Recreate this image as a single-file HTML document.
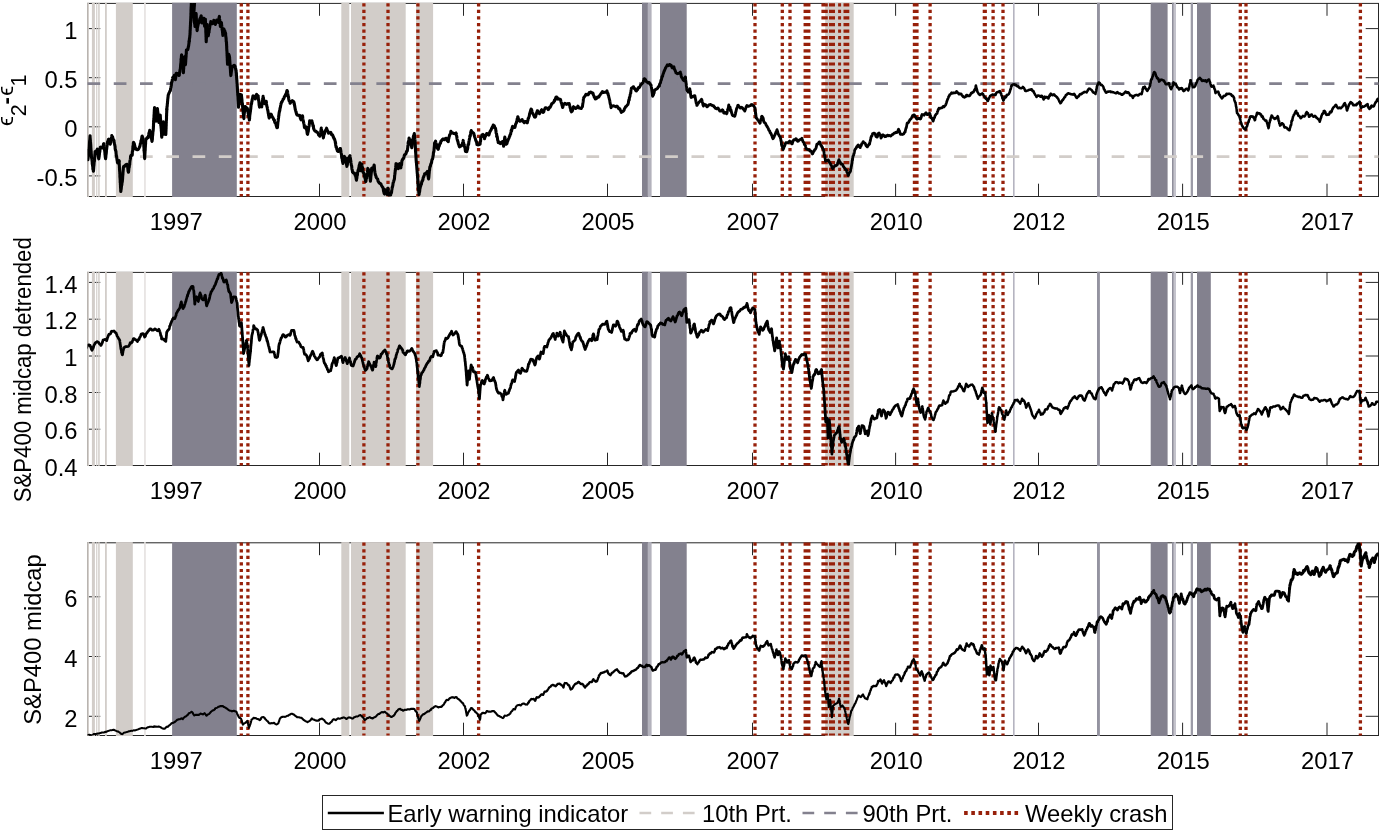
<!DOCTYPE html>
<html><head><meta charset="utf-8"><title>Early warning indicator</title>
<style>html,body{margin:0;padding:0;background:#fff}body{width:1381px;height:832px;overflow:hidden}</style></head>
<body>
<svg width="1381" height="832" viewBox="0 0 1381 832" style="display:block">
<rect width="1381" height="832" fill="#fff"/>
<defs>
<clipPath id="c0"><rect x="87.5" y="3.0" width="1291.0" height="193.5"/></clipPath>
<clipPath id="c1"><rect x="87.5" y="272.0" width="1291.0" height="193.5"/></clipPath>
<clipPath id="c2"><rect x="87.5" y="542.4" width="1291.0" height="193.10000000000002"/></clipPath>
</defs>
<g stroke="#262626" stroke-width="1" fill="none">
<rect x="87.5" y="3.4" width="1291.0" height="193.1"/>
<path d="M175.6 3.0v12.8M175.6 196.5v-12.8"/>
<path d="M319.5 3.0v12.8M319.5 196.5v-12.8"/>
<path d="M463.5 3.0v12.8M463.5 196.5v-12.8"/>
<path d="M607.5 3.0v12.8M607.5 196.5v-12.8"/>
<path d="M752.5 3.0v12.8M752.5 196.5v-12.8"/>
<path d="M895.6 3.0v12.8M895.6 196.5v-12.8"/>
<path d="M1038.5 3.0v12.8M1038.5 196.5v-12.8"/>
<path d="M1182.6 3.0v12.8M1182.6 196.5v-12.8"/>
<path d="M1327.0 3.0v12.8M1327.0 196.5v-12.8"/>
<path d="M87.5 28.6h12.8M1378.5 28.6h-12.8"/>
<path d="M87.5 77.7h12.8M1378.5 77.7h-12.8"/>
<path d="M87.5 126.8h12.8M1378.5 126.8h-12.8"/>
<path d="M87.5 175.9h12.8M1378.5 175.9h-12.8"/>
</g>
<g shape-rendering="auto">
<rect x="87.15" y="2.7" width="1.8" height="194.3" fill="#d2cdc9"/>
<rect x="91.9" y="2.7" width="3.0" height="194.3" fill="#d2cdc9"/>
<rect x="96.2" y="2.7" width="1.1" height="194.3" fill="#d2cdc9"/>
<rect x="98.2" y="2.7" width="1.5" height="194.3" fill="#d2cdc9"/>
<rect x="105.0" y="2.7" width="1.8" height="194.3" fill="#d2cdc9"/>
<rect x="115.9" y="2.7" width="16.9" height="194.3" fill="#d2cdc9"/>
<rect x="144.1" y="2.7" width="1.7" height="194.3" fill="#e6e3e1"/>
<rect x="341.3" y="2.7" width="8.0" height="194.3" fill="#d2cdc9"/>
<rect x="351.0" y="2.7" width="54.7" height="194.3" fill="#d2cdc9"/>
<rect x="416.0" y="2.7" width="17.1" height="194.3" fill="#d2cdc9"/>
<rect x="825.2" y="2.7" width="28.5" height="194.3" fill="#d2cdc9"/>
<rect x="172.1" y="2.7" width="64.7" height="194.3" fill="#83818e"/>
<rect x="642.0" y="2.7" width="5.9" height="194.3" fill="#83818e"/>
<rect x="647.9" y="2.7" width="3.7" height="194.3" fill="#b3b2bc"/>
<rect x="660.0" y="2.7" width="26.7" height="194.3" fill="#83818e"/>
<rect x="1013.0" y="2.7" width="1.6" height="194.3" fill="#b5b4c0"/>
<rect x="1097.0" y="2.7" width="2.9" height="194.3" fill="#9493a0"/>
<rect x="1150.7" y="2.7" width="16.9" height="194.3" fill="#83818e"/>
<rect x="1172.0" y="2.7" width="1.8" height="194.3" fill="#8f8e9b"/>
<rect x="1173.8" y="2.7" width="2.2" height="194.3" fill="#c4c3cc"/>
<rect x="1190.7" y="2.7" width="2.3" height="194.3" fill="#9c9ba7"/>
<rect x="1197.0" y="2.7" width="13.8" height="194.3" fill="#83818e"/>
</g>
<path d="M87.5 83.6H1378.5" stroke="#83818e" stroke-width="2.7" stroke-dasharray="12.7 13.56" fill="none"/>
<path d="M87.5 156.6H1378.5" stroke="#d2cdc9" stroke-width="2.7" stroke-dasharray="12.7 13.56" fill="none"/>
<path d="M241.3 3.2V196.5" stroke="#97200a" stroke-width="3.3" stroke-dasharray="3.2 3.38" fill="none"/>
<path d="M247.9 3.2V196.5" stroke="#97200a" stroke-width="3.3" stroke-dasharray="3.2 3.38" fill="none"/>
<path d="M363.9 3.2V196.5" stroke="#97200a" stroke-width="3.3" stroke-dasharray="3.2 3.38" fill="none"/>
<path d="M388.0 3.2V196.5" stroke="#97200a" stroke-width="3.3" stroke-dasharray="3.2 3.38" fill="none"/>
<path d="M417.9 3.2V196.5" stroke="#97200a" stroke-width="3.3" stroke-dasharray="3.2 3.38" fill="none"/>
<path d="M478.6 3.2V196.5" stroke="#97200a" stroke-width="3.3" stroke-dasharray="3.2 3.38" fill="none"/>
<path d="M755.0 3.2V196.5" stroke="#97200a" stroke-width="3.3" stroke-dasharray="3.2 3.38" fill="none"/>
<path d="M782.3 3.2V196.5" stroke="#97200a" stroke-width="3.3" stroke-dasharray="3.2 3.38" fill="none"/>
<path d="M790.0 3.2V196.5" stroke="#97200a" stroke-width="3.3" stroke-dasharray="3.2 3.38" fill="none"/>
<path d="M807.0 3.2V196.5" stroke="#97200a" stroke-width="6.9" stroke-dasharray="3.2 3.38" fill="none"/>
<path d="M824.6 3.2V196.5" stroke="#97200a" stroke-width="6.4" stroke-dasharray="3.2 3.38" fill="none"/>
<path d="M832.0 3.2V196.5" stroke="#97200a" stroke-width="6.0" stroke-dasharray="3.2 3.38" fill="none"/>
<path d="M839.6 3.2V196.5" stroke="#97200a" stroke-width="3.0" stroke-dasharray="3.2 3.38" fill="none"/>
<path d="M846.4 3.2V196.5" stroke="#97200a" stroke-width="5.8" stroke-dasharray="3.2 3.38" fill="none"/>
<path d="M915.7 3.2V196.5" stroke="#97200a" stroke-width="5.8" stroke-dasharray="3.2 3.38" fill="none"/>
<path d="M930.1 3.2V196.5" stroke="#97200a" stroke-width="3.3" stroke-dasharray="3.2 3.38" fill="none"/>
<path d="M984.8 3.2V196.5" stroke="#97200a" stroke-width="4.2" stroke-dasharray="3.2 3.38" fill="none"/>
<path d="M993.1 3.2V196.5" stroke="#97200a" stroke-width="3.3" stroke-dasharray="3.2 3.38" fill="none"/>
<path d="M1003.0 3.2V196.5" stroke="#97200a" stroke-width="3.3" stroke-dasharray="3.2 3.38" fill="none"/>
<path d="M1240.3 3.2V196.5" stroke="#97200a" stroke-width="3.3" stroke-dasharray="3.2 3.38" fill="none"/>
<path d="M1246.0 3.2V196.5" stroke="#97200a" stroke-width="3.3" stroke-dasharray="3.2 3.38" fill="none"/>
<path d="M1360.4 3.2V196.5" stroke="#97200a" stroke-width="3.3" stroke-dasharray="3.2 3.38" fill="none"/>
<g stroke="#000" fill="none" stroke-linejoin="round" stroke-linecap="round" clip-path="url(#c0)">
<path d="M86.4,150.2 86.5,150.7 86.6,151.5 86.7,152.5 86.8,152.7 86.8,152.5 86.9,153.1 87.0,153.6 87.1,154.1 87.1,154.8 87.2,155.6 87.3,156.5 87.4,156.9 87.4,157.2 87.5,157.8 87.6,158.6 87.7,159.2 87.7,159.5 87.8,159.7 87.9,159.7 87.9,158.9 88.0,159.2 88.0,159.0 88.1,158.5 88.1,158.0 88.2,156.9 88.3,156.2 88.3,156.1 88.4,156.2 88.4,155.7 88.5,154.7 88.5,153.7 88.6,152.5 88.6,151.7 88.7,151.6 88.7,151.7 88.8,151.6 88.8,151.0 88.9,149.8 88.9,148.9 89.0,148.0 89.0,147.1 89.1,147.1 89.1,147.3 89.2,146.6 89.2,145.5 89.3,145.0 89.3,144.6 89.4,143.8 89.4,143.2 89.5,142.9 89.5,142.5 89.6,141.7 89.6,141.0 89.7,140.8 89.7,140.5 89.8,140.0 89.8,139.3 89.9,138.5 89.9,137.8 90.0,137.2 90.0,136.6 90.1,135.8 90.1,136.3 90.1,137.3 90.2,137.8 90.2,138.2 90.3,139.0 90.3,139.6 90.4,140.4 90.4,141.3 90.4,141.9 90.5,142.3 90.5,142.5 90.6,143.0 90.6,143.5 90.6,143.8 90.7,144.5 90.7,145.3 90.8,145.8 90.8,146.4 90.8,147.4 90.9,147.8 90.9,148.1 91.0,149.5 91.0,150.6 91.0,150.7 91.1,150.5 91.1,150.9 91.2,151.8 91.2,152.5 91.2,153.2 91.3,153.8 91.3,154.4 91.4,154.9 91.4,155.4 91.4,156.1 91.5,156.9 91.5,157.2 91.6,157.8 91.7,158.4 91.7,158.1 91.8,158.5 91.9,159.5 92.0,160.2 92.0,161.1 92.1,161.3 92.2,161.8 92.2,163.2 92.3,164.1 92.4,164.5 92.5,164.5 92.5,164.8 92.6,165.6 92.7,166.1 92.7,166.6 92.8,167.2 92.9,167.6 93.0,168.3 93.0,169.0 93.1,169.1" stroke-width="3.10"/>
<path d="M93.1,169.1 93.2,169.3 93.3,170.3 93.3,171.1 93.4,171.2 93.5,170.4 93.5,170.3 93.6,170.3 93.6,169.7 93.7,168.6 93.7,167.8 93.8,167.3 93.8,166.7 93.9,166.0 93.9,165.6 94.0,165.4 94.0,164.9 94.1,164.1 94.1,163.4 94.2,162.3 94.2,161.7 94.3,161.7 94.3,161.5 94.4,161.4 94.4,161.3 94.5,160.2 94.5,159.1 94.6,158.5 94.6,157.6 94.7,157.0 94.7,157.0 94.8,156.8 94.8,155.6 94.9,154.7 94.9,154.3 95.0,154.0 95.0,153.6 95.1,152.6 95.1,151.7 95.5,151.5 95.9,151.5 96.2,151.7 96.6,151.2 96.9,150.0 97.3,149.2 97.4,150.0 97.5,150.2 97.6,150.7 97.6,152.0 97.7,152.8 97.8,153.3 97.9,153.9 98.0,154.3 98.0,154.3 98.1,154.8 98.2,155.6 98.3,156.0 98.4,156.4 98.4,157.1 98.5,157.8 98.6,158.2 98.7,158.4 98.8,158.8 98.8,158.3 98.9,158.1 99.0,157.3 99.0,156.7 99.1,156.5 99.2,156.3 99.2,155.9 99.3,155.0 99.4,154.5 99.4,153.9 99.5,153.2 99.5,152.9 99.6,152.5 99.7,152.2 99.7,152.1 99.8,151.9 99.9,150.9 99.9,149.6 100.0,149.1 100.1,148.9 100.1,148.5 100.2,147.4 100.7,147.1 101.3,147.3 101.8,147.7 102.4,148.0 102.6,147.7 102.7,147.3 102.9,146.9 103.1,146.2 103.3,145.2 103.5,144.3 103.6,143.9 103.8,143.7 103.9,144.8 104.0,145.7 104.0,145.6 104.1,145.6 104.1,146.2 104.2,147.0 104.3,147.5 104.3,147.8 104.4,148.6 104.5,149.5 104.5,149.9 104.6,150.3 104.7,150.6 104.7,151.0 104.8,151.6 104.9,152.5 104.9,153.1 105.0,153.7 105.0,154.8 105.1,155.3 105.2,155.1 105.2,156.0 105.3,156.9 105.4,157.1" stroke-width="3.10"/>
<path d="M105.4,157.1 105.4,157.5 105.5,158.2 105.6,158.7 105.6,157.9 105.7,157.4 105.8,157.6 105.8,157.2 105.9,155.8 105.9,155.0 106.0,154.9 106.1,154.4 106.1,153.8 106.2,153.4 106.3,153.1 106.3,152.5 106.4,151.3 106.4,150.2 106.5,149.9 106.6,149.8 106.6,149.1 106.7,148.4 106.8,148.1 106.8,147.4 106.9,146.6 106.9,146.5 107.0,146.4 107.1,145.7 107.1,145.0 107.2,144.5 107.3,143.6 107.3,142.8 107.4,143.1 107.4,142.6 107.7,141.5 107.9,141.1 108.1,140.8 108.3,139.9 108.5,139.3 108.7,139.5 108.9,139.2 109.1,139.4 109.2,140.0 109.4,140.8 109.5,141.4 109.7,141.6 109.9,142.0 110.0,143.0 110.2,143.9 110.3,144.2 110.4,143.1 110.6,142.7 110.7,142.6 110.8,141.5 110.9,140.8 111.0,140.7 111.1,140.1 111.2,139.3 111.3,138.6 111.4,137.9 111.5,137.4 111.6,137.2 111.7,136.5 111.8,135.6 112.0,136.3 112.2,136.5 112.4,136.5 112.7,137.2 112.9,138.3 113.1,138.8 113.3,139.4 113.5,140.0 113.7,140.0 114.0,140.3 114.1,141.1 114.1,141.9 114.2,142.4 114.3,142.9 114.4,143.4 114.5,143.9 114.6,144.2 114.7,144.8 114.8,145.5 114.9,145.8 115.0,146.2 115.1,147.0 115.1,148.2 115.2,149.1 115.3,149.3 115.4,149.9 115.5,150.3 115.6,150.4 115.7,151.0 115.8,150.9 115.9,151.2 116.0,152.2 116.0,152.9 116.1,153.6 116.2,154.5 116.3,155.6 116.4,156.1 116.5,156.0 116.6,156.1 116.6,156.5 116.7,157.3 116.8,158.0 116.9,158.7 117.0,159.5 117.1,160.3 117.2,160.6 117.2,160.6 117.3,161.2 117.4,162.3 117.5,162.6 117.6,162.8 117.9,162.1 118.2,161.3 118.5,160.9 118.7,160.8 119.0,160.6 119.1,161.3" stroke-width="3.10"/>
<path d="M119.1,161.3 119.1,161.8 119.1,162.4 119.2,162.9 119.2,163.2 119.2,163.7 119.3,164.1 119.3,164.6 119.3,165.0 119.3,165.5 119.4,166.2 119.4,166.9 119.4,167.6 119.5,168.2 119.5,168.7 119.5,169.5 119.6,169.8 119.6,169.8 119.6,170.7 119.7,171.4 119.7,171.6 119.7,172.0 119.8,172.2 119.8,172.9 119.8,173.7 119.9,174.0 119.9,174.4 119.9,175.4 119.9,176.8 120.0,177.4 120.0,177.7 120.0,178.0 120.1,178.2 120.1,178.5 120.1,179.2 120.2,180.1 120.2,181.2 120.2,182.2 120.3,182.8 120.3,183.0 120.3,182.8 120.4,183.2 120.4,184.3 120.4,184.7 120.5,184.8 120.5,185.8 120.5,186.7 120.5,187.1 120.6,187.3 120.6,187.4 120.6,188.1 120.7,189.1 120.7,189.7 120.7,190.4 120.8,191.5 120.9,190.9 121.0,190.0 121.1,189.5 121.1,189.5 121.2,189.1 121.3,188.2 121.4,186.9 121.5,185.7 121.6,185.4 121.7,185.2 121.8,184.9 121.9,184.0 122.0,182.7 122.1,182.4 122.2,182.4 122.3,181.6 122.4,180.9 122.4,180.9 122.4,180.4 122.5,179.5 122.5,179.3 122.6,179.0 122.6,178.4 122.6,177.8 122.7,177.1 122.7,176.1 122.8,175.4 122.8,175.1 122.9,175.0 122.9,174.6 122.9,173.9 123.0,173.1 123.0,172.2 123.1,171.5 123.1,171.1 123.1,170.7 123.2,170.6 123.2,170.2 123.3,169.5 123.3,169.3 123.3,168.9 123.4,167.4 123.8,166.3 124.2,166.4 124.7,166.2 125.1,165.5 125.6,164.9 126.0,164.7 126.5,164.4 127.0,164.3 127.1,165.2 127.2,165.1 127.3,164.8 127.4,165.4 127.5,166.2 127.6,166.6 127.7,167.4 127.8,168.2 127.9,169.1 128.0,170.4 128.1,171.2 128.2,171.3 128.3,171.5 128.4,172.3 128.5,171.9 128.6,171.4" stroke-width="3.10"/>
<path d="M128.6,171.4 128.7,170.6 128.8,169.5 128.8,169.0 128.9,168.3 129.0,167.5 129.1,167.6 129.2,167.4 129.3,166.5 129.3,165.7 129.4,164.8 129.5,164.5 129.6,164.6 129.7,164.7 129.7,164.1 129.8,162.7 129.9,161.5 130.0,160.8 130.1,160.2 130.1,160.0 130.2,159.7 130.3,159.3 130.4,158.8 130.5,157.9 130.5,157.0 130.6,156.2 131.1,155.3 131.6,154.7 132.1,154.8 132.1,155.2 132.2,155.0 132.3,154.0 132.3,152.5 132.4,151.4 132.4,151.3 132.5,151.4 132.6,151.2 132.6,150.7 132.7,150.2 132.8,149.7 132.8,148.6 132.9,147.3 132.9,146.4 133.0,146.2 133.1,146.0 133.1,145.6 133.2,145.5 133.3,144.8 133.3,143.5 133.4,142.9 133.5,142.3 133.5,142.2 133.7,143.3 133.9,143.4 134.1,143.3 134.2,144.0 134.4,144.8 134.6,145.4 134.8,145.9 135.0,146.6 135.1,147.0 135.3,147.3 135.5,148.2 135.7,149.2 136.2,149.2 136.8,149.5 137.3,149.7 137.9,149.7 138.1,149.5 138.4,149.2 138.7,148.6 138.9,148.3 139.2,147.8 139.5,146.9 139.8,146.4 140.0,145.8 140.2,144.7 140.3,144.1 140.4,143.6 140.5,143.5 140.6,143.7 140.8,142.9 140.9,141.7 141.0,140.7 141.1,140.3 141.2,140.3 141.4,140.0 141.5,139.4 141.6,138.8 141.7,138.3 141.8,137.4 142.0,136.3 142.1,136.1 142.2,136.1 142.3,136.6 142.4,136.7 142.5,136.9 142.6,137.5 142.7,138.6 142.8,139.2 142.9,139.1 143.0,139.5 143.1,140.5 143.2,141.4 143.3,141.9 143.4,142.3 143.5,143.1 143.7,143.8 143.7,143.7 143.7,143.8 143.8,145.1 143.8,146.2 143.8,146.3 143.9,146.7 143.9,147.6 144.0,148.3 144.0,148.6 144.0,149.0 144.1,149.4 144.1,149.9 144.2,150.4" stroke-width="3.10"/>
<path d="M144.2,150.4 144.2,151.2 144.2,151.9 144.3,152.3 144.3,152.6 144.4,153.3 144.4,153.9 144.4,154.3 144.5,155.1 144.5,155.5 144.5,155.6 144.6,156.4 144.6,157.8 144.7,158.6 144.7,157.8 144.7,157.2 144.8,156.7 144.8,156.4 144.8,155.7 144.9,154.7 144.9,154.2 144.9,153.7 145.0,153.0 145.0,152.4 145.0,151.6 145.1,151.0 145.1,151.1 145.1,151.0 145.2,150.1 145.2,149.1 145.2,148.4 145.3,148.1 145.3,147.7 145.3,146.9 145.4,146.3 145.4,145.8 145.4,145.1 145.5,144.9 145.5,144.8 145.5,144.3 145.6,143.6 145.6,143.2 145.6,142.4 145.7,141.1 145.7,140.2 145.7,140.2 145.8,140.1 145.8,139.3 145.8,138.7 146.4,139.0 146.9,138.3 147.5,137.4 148.0,137.7 148.1,137.7 148.3,137.1 148.4,136.4 148.5,135.5 148.7,134.6 148.8,134.0 148.9,133.5 149.1,132.7 149.2,132.4 149.3,132.3 149.5,131.8 149.6,131.0 149.7,130.4 149.9,131.4 150.1,131.9 150.3,132.0 150.5,132.8 150.7,133.2 150.9,133.2 151.0,133.7 151.1,134.8 151.2,136.0 151.3,136.5 151.3,137.0 151.4,138.1 151.5,139.0 151.6,139.1 151.7,139.4 151.8,140.3 151.9,141.1 152.0,141.3 152.1,141.0 152.1,140.2 152.2,140.4 152.2,139.7 152.3,139.5 152.3,139.7 152.4,139.0 152.4,137.8 152.5,136.5 152.5,135.6 152.6,135.7 152.6,135.7 152.7,134.9 152.7,134.1 152.8,134.0 152.8,133.5 152.9,132.2 152.9,131.4 153.0,131.3 153.0,131.4 153.1,131.2 153.1,131.0 153.2,130.2 153.3,129.3 153.3,128.8 153.4,128.0 153.4,127.1 153.4,126.7 153.5,125.9 153.5,125.5 153.5,125.4 153.5,124.5 153.6,123.5 153.6,123.2 153.6,122.9 153.7,122.1 153.7,121.3" stroke-width="3.10"/>
<path d="M153.7,121.3 153.7,120.8 153.8,120.4 153.8,119.5 153.8,118.5 153.9,118.0 153.9,117.9 153.9,118.1 154.0,117.7 154.0,116.8 154.0,115.7 154.1,114.9 154.1,114.3 154.1,114.3 154.2,114.0 154.2,112.9 154.2,112.2 154.3,111.6 154.3,111.0 154.3,110.3 154.4,109.5 154.4,109.5 154.4,109.6 154.5,108.8 154.5,107.9 154.5,107.6 154.6,108.3 154.6,108.6 154.7,108.7 154.8,109.7 154.8,110.4 154.9,110.5 155.0,111.7 155.0,112.7 155.1,113.1 155.1,113.6 155.2,114.0 155.3,114.2 155.3,114.5 155.4,114.8 155.5,115.6 155.5,116.7 155.6,117.5 155.6,118.0 155.7,118.3 155.8,118.6 155.8,119.2 155.9,120.3 156.0,121.2 156.0,120.2 156.1,119.2 156.2,118.6 156.2,118.1 156.3,117.6 156.4,116.8 156.4,116.0 156.5,115.7 156.6,115.2 156.7,114.4 156.7,114.4 156.8,114.5 156.9,113.9 156.9,112.9 157.0,112.0 157.1,111.7 157.1,111.4 157.2,110.9 157.3,110.1 157.3,109.1 157.4,108.6 157.5,109.2 157.5,109.8 157.6,110.6 157.7,111.4 157.7,111.6 157.8,111.9 157.9,112.6 157.9,113.0 158.0,113.6 158.0,114.5 158.1,115.7 158.2,116.3 158.2,116.4 158.3,116.9 158.4,117.8 158.4,118.4 158.5,118.8 158.5,118.9 158.6,119.1 158.7,119.9 158.7,120.8 158.8,121.8 158.9,122.4 159.0,121.5 159.1,121.3 159.2,121.0 159.3,120.2 159.5,119.6 159.6,118.7 159.7,118.0 159.8,117.7 159.9,117.0 160.1,116.2 160.2,115.5 160.3,115.2 160.3,116.1 160.4,117.2 160.4,118.3 160.5,118.5 160.5,118.4 160.5,119.0 160.6,119.8 160.6,120.1 160.6,120.5 160.7,121.2 160.7,121.8 160.8,122.0 160.8,122.5 160.8,123.4 160.9,124.1 160.9,124.5" stroke-width="3.10"/>
<path d="M160.9,124.5 160.9,125.0 161.0,126.2 161.0,127.1 161.1,127.1 161.1,127.3 161.1,127.9 161.2,128.1 161.2,128.5 161.2,128.8 161.3,128.8 161.3,129.6 161.3,130.5 161.4,130.9 161.4,131.5 161.5,132.1 161.5,132.6 161.5,133.3 161.6,134.2 161.6,135.1 161.6,136.0 161.7,136.4 161.7,136.7 161.8,137.3 161.8,136.6 161.9,135.7 161.9,135.3 162.0,134.8 162.0,134.1 162.1,134.1 162.1,133.7 162.2,132.6 162.2,131.8 162.3,131.3 162.3,130.9 162.4,130.2 162.5,129.5 162.5,129.0 162.6,128.3 162.6,127.8 162.7,127.6 162.7,127.0 162.8,126.3 162.8,125.7 162.9,124.9 162.9,124.5 163.0,124.3 163.0,123.7 163.1,123.0 163.2,122.2 163.2,121.7 163.3,122.8 163.3,123.5 163.4,123.5 163.4,124.1 163.5,125.1 163.5,125.2 163.6,125.7 163.6,127.1 163.7,127.2 163.7,126.9 163.8,127.8 163.8,128.8 163.9,129.3 163.9,130.0 164.0,130.9 164.0,131.0 164.1,131.3 164.1,132.6 164.2,133.3 164.2,133.0 164.3,133.4 164.3,134.2 164.4,134.3 165.1,134.0 165.8,134.4 165.8,133.9 165.9,133.2 165.9,132.7 165.9,131.9 165.9,131.3 165.9,131.5 166.0,131.2 166.0,130.2 166.0,129.8 166.0,129.6 166.1,128.5 166.1,127.6 166.1,127.5 166.1,127.5 166.1,126.8 166.2,125.7 166.2,124.8 166.2,123.9 166.2,123.3 166.3,122.7 166.3,122.5 166.3,122.5 166.3,121.6 166.3,120.8 166.4,120.8 166.4,120.6 166.4,120.3 166.4,119.9 166.5,118.8 166.5,117.9 166.5,117.6 166.5,117.3 166.5,116.5 166.6,115.5 166.6,114.7 166.6,114.6 166.6,114.4 166.6,113.6 166.7,113.0 166.7,112.6 166.7,111.9 166.7,111.5 166.8,111.1 166.8,110.0 166.8,109.3" stroke-width="3.10"/>
<path d="M166.8,109.3 166.8,109.3 166.9,108.8 166.9,108.1 167.0,107.3 167.0,106.6 167.1,106.5 167.2,106.3 167.2,105.7 167.3,104.8 167.3,104.0 167.4,103.7 167.4,103.3 167.5,103.2 167.5,102.6 167.6,101.3 167.7,100.3 167.7,99.6 167.8,99.2 167.8,98.8 167.9,98.4 167.9,97.8 168.0,97.3 168.1,96.9 168.1,96.1 168.2,95.5 168.2,95.1 168.3,94.9 168.5,94.5 168.8,93.6 169.1,93.0 169.4,92.3 169.6,91.6 169.9,91.2 170.2,90.9 170.4,90.3 170.5,89.6 170.6,88.8 170.7,88.0 170.8,87.7 170.9,87.7 171.0,87.2 171.1,86.4 171.2,85.8 171.3,85.4 171.4,84.9 171.4,84.1 171.5,83.1 171.6,82.8 171.7,82.4 171.8,82.0 171.9,81.9 172.0,81.5 172.2,80.8 172.3,79.6 172.5,78.8 172.6,78.2 172.7,77.5 173.0,77.3 173.3,77.3 173.7,77.1 174.0,76.4 174.3,75.3 174.4,75.9 174.5,76.9 174.6,77.1 174.8,77.1 174.9,78.0 175.0,79.1 175.1,79.4 175.3,79.7 175.4,79.4 175.4,78.7 175.5,78.2 175.6,78.1 175.7,77.9 175.7,77.3 175.8,76.5 175.9,75.4 176.0,74.6 176.1,74.6 176.1,74.2 176.2,73.5 176.3,73.3 177.0,73.5 177.8,73.5 178.0,73.7 178.2,74.1 178.4,74.6 178.6,75.0 178.8,75.5 178.9,75.0 179.1,74.9 179.2,75.3 179.3,75.2 179.4,73.7 179.5,72.5 179.6,72.4 179.8,71.7 179.9,70.9 180.0,70.3 180.1,69.7 180.2,69.3 180.3,69.0 180.4,68.5 180.4,68.0 180.5,67.3 180.5,66.7 180.6,66.3 180.6,65.5 180.7,64.4 180.8,63.7 180.8,63.3 180.9,62.7 180.9,62.6 181.0,62.6 181.0,61.7 181.1,60.5 181.1,59.9 181.2,59.7 181.2,59.1" stroke-width="3.10"/>
<path d="M181.2,59.1 181.3,58.6 181.3,58.1 181.4,57.2 181.4,56.5 181.5,55.8 181.5,55.1 181.6,54.9 181.6,55.9 181.7,56.4 181.7,56.6 181.8,57.0 181.9,57.3 181.9,58.5 182.0,59.8 182.0,60.3 182.1,60.6 182.2,61.1 182.2,61.7 182.3,62.2 182.3,62.3 182.4,63.3 182.5,64.2 182.5,64.2 182.6,64.5 182.6,65.3 182.7,66.2 182.8,67.1 182.8,67.9 182.9,68.2 182.9,68.7 183.0,69.5 183.1,69.8 183.1,70.2 183.2,71.7 183.3,72.4 183.3,72.2 183.4,72.8 183.4,72.4 183.5,71.7 183.5,71.2 183.5,70.6 183.6,69.4 183.6,68.9 183.6,68.9 183.7,68.5 183.7,67.8 183.7,66.9 183.8,65.8 183.8,64.8 183.9,64.4 183.9,64.6 183.9,64.5 184.0,63.8 184.0,62.9 184.0,62.3 184.1,61.9 184.1,61.6 184.1,61.2 184.2,60.2 184.2,58.8 184.3,58.6 184.3,58.6 184.3,57.9 184.4,57.3 184.4,56.8 184.5,57.2 184.5,58.1 184.6,58.9 184.7,59.2 184.8,59.3 184.8,59.7 184.9,60.7 185.0,61.7 185.1,62.4 185.1,63.1 185.2,63.5 185.3,64.1 185.3,64.7 185.4,64.5 185.5,64.1 185.5,64.3 185.5,63.9 185.6,63.2 185.6,62.5 185.7,62.0 185.7,61.6 185.7,60.8 185.8,60.0 185.8,59.3 185.9,58.5 185.9,57.8 185.9,57.5 186.0,57.4 186.0,57.0 186.1,56.2 186.1,55.4 186.1,54.7 186.2,54.1 186.2,54.1 186.3,53.8 186.3,52.7 186.3,51.7 186.4,50.7 186.4,49.9 186.8,49.8 187.2,49.9 187.6,49.8 187.9,49.1 188.1,48.1 188.2,47.6 188.3,47.3 188.4,46.5 188.5,45.9 188.6,45.9 188.7,45.3 188.8,44.2 189.0,43.0 189.0,42.3 189.1,42.1 189.2,41.3" stroke-width="3.10"/>
<path d="M189.2,41.3 189.2,40.7 189.3,41.1 189.3,40.5 189.4,39.1 189.5,38.5 189.5,38.4 189.6,38.0 189.7,37.7 189.7,37.3 189.8,36.6 189.8,35.9 189.9,35.3 190.0,34.7 190.0,33.9 190.0,33.4 190.1,33.2 190.1,32.3 190.1,31.2 190.1,30.7 190.2,30.4 190.2,30.1 190.2,29.9 190.3,28.9 190.3,28.2 190.3,28.0 190.3,27.3 190.4,26.4 190.4,25.7 190.4,25.5 190.5,25.3 190.5,24.5 190.5,23.8 190.5,23.3 190.6,22.1 190.6,21.3 190.6,21.5 190.7,21.0 190.7,19.9 190.7,19.6 190.7,19.8 190.7,19.2 190.8,18.3 190.8,17.8 190.8,17.2 190.8,16.8 190.9,16.1 190.9,15.2 190.9,14.2 190.9,13.3 190.9,13.0 191.0,13.1 191.0,13.0 191.0,12.2 191.0,11.1 191.0,9.8 191.1,9.2 191.1,9.5 191.1,9.0 191.1,8.3 191.1,7.7 191.2,6.9 191.2,6.8 191.2,7.0 191.2,6.3 191.3,5.1 191.3,4.5 191.3,4.3 191.3,3.7 191.4,3.0 191.4,2.2 191.5,2.2 191.5,1.8 191.6,0.6 191.6,0.1 191.7,-0.5 191.7,-1.6 191.8,-2.6 191.9,-3.0 191.9,-3.0 192.0,-3.5 192.0,-4.1 192.7,-3.7 193.4,-3.8 194.0,-4.5 194.1,-3.9 194.1,-3.0 194.1,-2.4 194.2,-1.5 194.2,-0.5 194.3,-0.2 194.3,-0.2 194.3,0.4 194.4,1.2 194.4,2.1 194.5,2.5 194.5,3.0 194.5,3.7 194.5,3.9 194.5,3.8 194.4,4.3 194.4,5.5 194.3,6.4 194.3,6.8 194.2,6.9 194.2,7.4 194.2,8.2 194.1,9.1 194.1,9.9 194.0,10.5 194.0,11.0 193.9,11.4 193.9,11.8 193.9,12.4 193.8,13.0 193.8,13.8 193.7,14.1 193.7,14.6 193.7,15.2 193.6,15.6 193.6,16.2" stroke-width="3.10"/>
<path d="M193.6,16.2 193.5,16.8 193.6,17.5 193.7,18.1 193.8,18.6 193.9,19.5 194.0,20.5 194.1,21.1 194.2,21.7 194.3,22.3 194.4,22.6 194.5,22.8 194.6,23.4 194.7,24.0 194.8,24.3 194.9,24.5 194.9,25.4 195.0,26.5 195.1,26.0 195.1,25.5 195.2,24.6 195.2,23.9 195.3,23.6 195.3,23.1 195.3,22.5 195.4,22.0 195.4,21.4 195.5,20.8 195.5,20.5 195.6,19.9 195.6,19.5 195.6,19.6 195.7,19.2 195.7,18.8 195.8,18.0 195.8,16.6 195.8,15.7 195.9,14.8 195.9,14.0 196.0,13.7 196.0,14.0 196.1,13.6 196.1,13.9 196.1,14.2 196.2,14.4 196.2,14.9 196.2,15.8 196.3,16.6 196.3,17.5 196.3,18.2 196.4,18.7 196.4,19.0 196.4,19.8 196.5,20.4 196.5,20.6 196.5,20.8 196.5,21.1 196.6,21.8 196.6,22.5 196.6,23.3 196.7,24.1 196.7,24.7 196.7,25.5 196.8,26.2 196.8,26.6 196.8,27.0 196.9,27.2 196.9,27.5 196.9,28.2 197.0,29.1 197.0,29.5 197.0,29.8 197.1,30.6 197.2,30.3 197.3,29.3 197.3,28.4 197.4,27.7 197.5,27.1 197.6,26.9 197.7,26.4 197.8,25.9 197.9,25.4 198.0,24.9 198.1,24.7 198.3,23.8 198.5,23.1 198.7,23.0 199.0,22.9 199.2,22.4 199.4,21.2 199.6,19.9 199.8,19.2 200.0,18.7 200.3,18.4 200.5,17.6 200.7,17.3 200.9,17.3 201.1,16.0 201.2,15.8 201.3,16.8 201.4,17.7 201.5,18.6 201.5,19.6 201.6,20.2 201.7,20.7 201.8,21.4 201.9,22.1 202.0,22.4 202.1,22.4 202.1,23.0 202.3,22.4 202.4,21.2 202.6,20.8 202.7,20.9 202.9,20.6 203.1,20.4 203.2,19.7 203.4,18.6 203.5,18.4 203.7,18.3 203.7,18.4" stroke-width="3.10"/>
<path d="M203.7,18.4 203.8,18.7 203.9,19.7 203.9,20.5 204.0,21.1 204.1,21.0 204.1,21.0 204.2,22.4 204.3,23.8 204.3,24.0 204.4,24.3 204.5,25.0 204.5,25.6 204.6,26.1 204.7,26.3 204.7,25.3 204.8,24.5 204.9,23.8 204.9,23.1 205.0,23.1 205.0,23.4 205.1,22.7 205.1,21.5 205.2,20.8 205.3,20.3 205.3,19.6 205.4,19.3 205.4,20.1 205.4,20.6 205.4,21.2 205.5,21.8 205.5,22.2 205.5,22.6 205.5,23.1 205.5,23.6 205.6,24.1 205.6,24.6 205.6,25.5 205.6,26.2 205.6,26.8 205.7,27.1 205.7,27.2 205.7,27.7 205.7,28.8 205.8,29.6 205.8,30.2 205.8,31.1 205.8,32.0 205.8,32.6 205.9,32.3 205.9,32.1 205.9,32.7 205.9,33.5 205.9,34.0 206.0,34.4 206.0,35.5 206.0,36.1 206.0,36.2 206.0,36.7 206.1,37.4 206.1,38.2 206.1,38.8 206.1,39.3 206.1,39.6 206.2,40.1 206.2,41.1 206.2,41.7 206.2,41.3 206.3,40.7 206.3,39.6 206.3,39.1 206.4,38.8 206.4,37.7 206.4,37.1 206.5,37.2 206.5,36.8 206.5,36.0 206.6,35.4 206.6,34.8 206.7,34.5 206.7,34.1 206.7,33.2 206.8,32.8 206.8,32.7 206.8,32.2 206.9,31.7 206.9,31.0 206.9,30.0 207.0,28.9 207.0,28.2 207.0,27.8 207.1,27.4 207.1,26.8 207.1,26.3 207.2,25.6 207.2,24.6 207.3,25.0 207.3,26.3 207.4,27.5 207.4,28.0 207.5,28.4 207.5,29.0 207.6,29.3 207.7,29.3 207.7,30.1 207.8,31.2 207.8,31.6 207.9,32.0 207.9,32.7 208.0,33.6 208.1,34.1 208.1,34.5 208.2,35.3 208.2,35.8 208.3,35.4 208.4,35.0 208.5,34.2 208.6,33.3 208.7,32.6 208.8,32.5 208.9,32.2" stroke-width="3.10"/>
<path d="M208.9,32.2 209.0,31.0 209.1,30.3 209.2,30.2 209.3,29.7 209.4,29.0 209.5,28.5 209.6,28.1 209.7,27.5 209.8,26.5 209.9,25.8 210.0,25.3 210.2,24.3 210.3,24.1 210.4,24.6 210.5,24.1 210.6,23.3 210.7,22.6 210.8,21.6 211.1,22.1 211.5,23.1 211.9,23.8 212.3,23.7 212.5,22.3 212.7,22.1 212.9,22.2 213.1,22.2 213.4,22.3 213.6,21.7 213.8,20.4 214.0,20.5 214.2,21.3 214.5,22.3 214.7,23.2 214.9,23.9 215.1,24.1 215.3,24.4 215.5,23.9 215.8,23.0 216.0,22.4 216.2,22.3 216.4,21.6 216.6,20.8 216.8,20.0 217.3,20.5 217.9,21.6 218.4,22.3 218.5,21.4 218.6,20.2 218.7,19.7 218.8,20.0 218.9,19.6 219.0,18.0 219.2,17.0 219.3,16.8 219.4,16.4 219.4,17.6 219.5,18.7 219.6,19.2 219.6,19.2 219.7,19.2 219.7,19.4 219.8,20.5 219.9,21.7 219.9,22.0 220.0,22.2 220.0,23.0 220.1,23.6 220.2,24.0 220.2,25.0 220.3,25.5 220.3,25.8 220.4,26.5 220.6,25.9 220.7,25.0 220.9,24.3 221.1,23.8 221.2,23.4 221.4,22.6 221.5,23.0 221.5,24.0 221.6,25.0 221.7,25.1 221.7,25.4 221.8,26.5 221.9,27.2 221.9,27.1 222.0,27.7 222.1,28.7 222.1,29.5 222.2,30.0 222.3,29.8 222.3,30.0 222.4,30.9 222.5,31.3 222.5,31.9 222.6,32.8 222.7,33.4 222.7,34.2 222.8,34.8 222.9,35.2 222.9,35.4 223.0,34.1 223.1,33.5 223.2,33.7 223.3,33.5 223.4,32.7 223.5,31.9 223.6,31.5 223.7,30.9 223.8,30.3 223.8,29.8 223.9,29.1 224.2,29.9 224.4,30.8 224.7,31.2 225.0,31.3 225.2,32.2 225.5,33.4 225.5,33.7 225.6,33.8" stroke-width="3.10"/>
<path d="M225.6,33.8 225.6,34.4 225.7,35.2 225.7,36.2 225.8,36.6 225.9,36.6 225.9,37.0 226.0,37.6 226.0,38.2 226.1,38.1 226.1,38.6 226.2,40.4 226.2,41.4 226.3,41.5 226.4,41.7 226.4,42.2 226.5,42.5 226.5,43.1 226.5,43.9 226.6,44.2 226.6,44.3 226.6,45.1 226.6,46.0 226.7,46.3 226.7,47.0 226.7,48.2 226.8,48.5 226.8,48.3 226.8,48.8 226.8,50.0 226.9,50.8 226.9,50.8 226.9,51.1 227.0,51.8 227.0,52.2 227.0,52.8 227.0,53.4 227.1,54.1 227.1,55.0 227.1,55.6 227.1,55.7 227.2,56.3 227.2,57.4 227.2,57.6 227.3,58.0 227.3,59.0 227.3,59.7 227.3,60.1 227.4,60.6 227.4,60.9 227.4,61.6 227.5,63.1 227.5,64.3 227.6,63.4 227.6,62.4 227.7,61.8 227.8,60.9 227.9,59.9 228.0,59.4 228.0,58.6 228.1,57.6 228.2,57.2 228.3,56.8 228.3,56.0 228.4,55.4 228.5,54.4 228.8,54.4 229.2,55.6 229.5,57.1 229.6,57.6 229.6,58.1 229.6,59.1 229.7,59.3 229.7,59.3 229.7,60.2 229.8,60.8 229.8,61.1 229.9,61.9 229.9,62.6 229.9,62.8 230.0,63.4 230.0,63.7 230.0,63.7 230.1,64.4 230.1,65.7 230.2,66.8 230.2,67.4 230.2,67.5 230.3,67.9 230.3,68.9 230.3,69.1 230.4,69.1 230.4,69.9 230.5,70.8 230.5,71.4 230.5,72.2 230.6,72.8 230.6,72.9 230.6,73.1 230.7,73.7 230.7,74.8 230.8,75.3 230.8,75.2 230.8,75.6 230.9,75.3 231.0,74.5 231.1,73.7 231.1,73.7 231.2,73.1 231.3,71.9 231.4,71.7 231.4,71.3 231.5,70.4 231.6,69.9 231.7,69.3 231.7,68.8 231.8,68.6 231.9,68.0 232.0,67.4 232.0,67.1 232.4,66.7" stroke-width="3.10"/>
<path d="M232.4,66.7 232.8,66.2 233.2,66.1 233.6,65.6 233.9,65.4 234.3,65.3 234.7,65.7 235.1,66.5 235.2,67.5 235.4,68.0 235.5,68.2 235.7,69.0 235.8,70.0 236.0,70.2 236.1,70.3 236.1,71.3 236.2,72.6 236.2,72.6 236.3,72.4 236.3,73.0 236.4,73.8 236.4,74.7 236.4,75.6 236.5,75.8 236.5,75.8 236.6,76.3 236.6,77.3 236.7,78.4 236.7,79.2 236.7,79.5 236.8,79.5 236.8,79.8 236.9,80.5 236.9,81.1 236.9,81.6 237.0,82.2 237.0,83.0 237.1,83.6 237.1,83.7 237.2,84.1 237.2,85.2 237.2,85.9 237.3,86.3 237.3,86.9 237.3,87.1 237.4,87.7 237.4,88.2 237.4,88.6 237.5,89.8 237.5,90.9 237.5,91.0 237.6,91.3 237.6,92.0 237.6,92.6 237.7,92.9 237.7,93.6 237.7,94.6 237.8,95.0 237.8,95.1 237.8,95.5 237.9,95.9 237.9,96.4 237.9,96.9 238.0,97.6 238.0,98.5 238.0,99.2 238.1,99.6 238.1,100.0 238.1,100.4 238.2,101.1 238.2,101.9 238.2,102.3 238.3,102.3 238.3,102.8 238.3,103.7 238.4,104.4 238.4,104.9 238.4,105.7 238.5,106.6 238.5,107.2 238.6,106.4 238.6,105.6 238.7,105.5 238.8,105.1 238.8,104.0 238.9,103.1 239.0,102.6 239.0,102.5 239.1,102.0 239.2,101.1 239.2,100.5 239.3,100.4 239.4,99.8 239.4,99.1 239.5,98.5 239.6,98.1 239.6,97.5 239.7,96.5 239.8,96.1 239.8,96.0 239.9,95.2 240.0,94.4 240.7,94.6 241.4,94.7 241.5,95.6 241.5,96.5 241.6,96.9 241.6,97.2 241.7,97.7 241.8,98.5 241.8,99.1 241.9,99.1 241.9,99.7 242.0,100.9 242.0,101.7 242.1,102.4 242.2,102.5 242.2,102.5 242.3,103.3 242.3,104.4 242.4,104.8" stroke-width="3.10"/>
<path d="M242.4,104.8 242.5,104.7 242.5,105.3 242.6,106.1 242.6,106.8 242.7,107.6 242.7,108.3 242.8,109.3 242.9,109.9 242.9,110.2 243.0,110.3 243.0,110.3 243.1,110.9 243.2,112.0 243.2,112.9 243.3,113.3 243.3,113.3 243.4,113.7 243.5,114.5 243.5,115.1 243.6,116.0 243.6,116.8 243.7,117.0 243.8,117.2 243.8,117.9 243.9,118.6 243.9,118.3 244.0,117.9 244.0,116.6 244.1,115.4 244.1,114.9 244.2,114.2 244.2,113.5 244.3,113.2 244.3,113.0 244.4,112.8 244.4,112.2 244.5,111.5 244.6,111.5 244.6,111.3 244.7,110.5 244.7,110.0 244.8,109.6 244.8,109.3 244.9,108.2 244.9,106.8 245.0,106.5 245.0,106.5 245.5,106.7 245.9,107.2 246.3,107.7 246.8,107.8 247.2,108.2 247.3,108.9 247.4,109.3 247.5,110.0 247.6,110.8 247.7,111.1 247.8,111.1 247.9,111.4 248.0,112.2 248.1,113.0 248.2,113.6 248.3,113.9 248.4,114.2 248.5,114.8 248.6,115.8 248.8,116.4 248.9,116.6 249.0,117.6 249.1,118.5 249.2,118.9 249.3,119.6 249.4,120.0 249.4,119.3 249.5,119.0 249.6,118.7 249.6,117.7 249.7,116.4 249.8,115.5 249.8,114.8 249.9,114.5 250.0,114.3 250.0,113.9 250.1,113.3 250.2,112.7 250.2,112.1 250.3,111.8 250.4,111.8 250.4,111.4 250.5,110.4 250.6,109.6 250.6,109.4 250.7,109.0 250.8,108.2 250.8,107.5 250.9,107.2 251.0,106.1 251.1,104.9 251.2,104.6 251.3,104.3 251.4,104.0 251.5,103.9 251.6,103.4 251.7,102.5 251.8,101.6 251.9,101.3 252.0,101.2 252.1,100.4 252.2,99.8 252.3,99.4 252.4,98.8 252.5,98.3 252.6,98.2 252.7,97.8 252.8,96.8 252.9,96.0 253.0,95.9 253.3,96.5 253.6,96.5 253.9,96.5" stroke-width="3.10"/>
<path d="M253.9,96.5 254.2,97.0 254.5,97.5 254.9,98.2 255.2,98.9 255.3,98.3 255.5,97.8 255.7,97.3 255.9,96.4 256.1,95.7 256.3,95.1 256.4,94.7 256.6,94.4 257.1,95.1 257.6,95.7 258.1,95.9 258.1,96.1 258.2,96.7 258.3,97.7 258.4,99.0 258.4,100.0 258.5,100.1 258.6,100.0 258.7,99.9 258.7,100.3 258.8,101.1 258.9,102.0 259.0,103.0 259.1,103.7 259.1,104.6 259.2,105.3 259.3,105.5 259.4,105.8 259.4,106.4 259.5,107.1 260.1,106.9 260.6,106.6 261.1,106.7 261.7,106.9 261.8,106.1 261.9,105.2 261.9,104.3 262.0,103.3 262.1,102.8 262.2,102.4 262.3,101.6 262.4,101.3 262.5,101.8 262.5,101.2 262.6,100.0 262.7,99.7 262.8,99.1 262.9,98.3 263.0,97.9 263.0,97.3 263.1,96.4 263.2,96.9 263.4,97.6 263.5,98.6 263.6,99.5 263.7,99.8 263.8,100.2 263.9,100.6 264.0,101.2 264.1,102.4 264.2,103.2 264.4,103.4 264.5,103.4 264.6,103.6 264.9,103.4 265.3,103.6 265.7,103.1 266.0,101.7 266.1,101.2 266.2,101.3 266.4,102.4 266.5,103.9 266.6,104.8 266.7,105.1 266.8,105.8 266.9,106.7 267.0,106.9 267.1,106.9 267.2,107.0 267.3,107.6 267.4,108.7 267.5,109.4 267.7,109.9 267.8,110.5 267.9,111.1 268.0,111.3 268.1,112.2 268.2,113.2 268.3,113.3 268.4,113.5 268.5,114.2 268.6,115.2 268.7,115.9 268.8,116.0 268.9,116.4 269.0,117.2 269.1,117.8 269.2,118.1 269.5,117.2 269.8,116.2 270.0,115.9 270.3,116.2 270.6,116.1 270.8,115.3 271.1,114.2 271.4,114.6 271.6,115.4 271.9,116.0 272.2,117.0 272.5,117.4 272.7,117.3 273.0,117.8 273.3,118.5 273.5,119.0 273.8,119.4 274.1,120.0" stroke-width="3.10"/>
<path d="M274.1,120.0 274.4,120.7 274.6,121.6 274.9,122.7 275.2,123.0 275.4,123.0 275.7,123.5 275.9,124.1 276.1,125.0 276.4,125.9 276.6,126.8 276.9,127.6 277.1,127.6 277.3,127.7 277.4,127.6 277.5,127.4 277.5,126.5 277.6,125.3 277.7,125.0 277.7,124.5 277.8,123.4 277.9,122.6 277.9,122.0 278.0,121.4 278.1,121.4 278.1,121.3 278.2,120.5 278.3,119.5 278.3,118.9 278.4,118.7 278.5,118.6 278.5,118.3 278.6,117.4 278.7,116.1 278.7,115.8 278.8,115.7 278.9,115.3 278.9,114.7 279.0,113.9 279.1,113.2 279.2,112.4 279.3,112.0 279.4,111.9 279.5,111.4 279.7,110.8 279.8,110.4 279.9,109.6 280.0,108.6 280.1,108.1 280.3,107.6 280.4,107.2 280.5,106.8 280.6,105.9 280.8,105.0 280.9,104.1 281.0,103.7 281.1,104.0 281.2,103.3 281.5,102.4 281.8,102.2 282.0,101.8 282.3,101.0 282.6,100.5 282.9,99.8 283.1,99.2 283.4,99.1 283.7,98.7 284.1,97.6 284.4,96.7 284.7,96.4 285.1,96.3 285.3,95.3 285.5,94.6 285.7,94.6 285.9,94.0 286.1,93.6 286.3,93.3 286.5,92.6 286.6,91.9 286.8,91.2 287.0,90.5 287.2,90.6 287.3,91.8 287.4,91.7 287.5,91.3 287.6,91.8 287.7,93.0 287.8,93.8 287.9,94.2 288.0,94.7 288.1,95.6 288.1,96.3 288.2,96.6 288.3,96.7 288.4,96.5 288.5,97.2 288.6,98.2 288.7,98.9 288.9,99.9 289.1,100.7 289.2,101.0 289.4,100.9 289.6,101.3 289.8,102.0 290.0,102.5 290.1,103.3 290.5,102.8 290.9,102.1 291.2,101.9 291.6,101.6 291.9,101.0 292.3,100.6 293.0,101.2 293.8,101.8 293.9,102.4 294.0,102.9 294.1,103.4 294.2,104.2 294.3,104.5 294.4,104.4 294.5,104.8" stroke-width="3.10"/>
<path d="M294.5,104.8 294.6,105.5 294.7,105.8 294.8,106.4 294.9,107.3 295.0,107.8 295.1,108.2 295.2,109.1 295.4,109.8 295.6,110.2 295.7,110.8 295.9,111.7 296.1,112.2 296.3,112.9 296.5,113.9 296.7,114.3 296.8,114.5 297.0,114.4 297.2,114.5 297.4,115.2 297.9,115.2 298.5,115.4 299.0,115.6 299.6,115.3 299.7,115.7 299.9,116.1 300.0,116.6 300.2,117.5 300.4,118.3 300.5,118.6 300.7,118.9 300.8,119.2 301.0,119.8 301.2,119.5 301.4,119.4 301.5,119.1 301.7,118.0 301.9,117.2 302.1,116.9 302.3,116.3 302.4,115.8 302.5,116.0 302.6,116.2 302.7,117.4 302.8,118.5 302.9,119.3 303.0,119.7 303.1,119.7 303.2,120.3 303.3,121.0 303.4,121.3 303.5,122.1 303.6,122.5 303.7,122.7 303.8,123.3 303.9,123.7 304.0,124.0 304.1,124.4 304.2,125.3 304.3,126.3 304.4,127.1 304.5,127.3 304.6,127.7 305.1,127.6 305.6,127.3 306.1,126.9 306.2,127.9 306.2,128.7 306.3,129.2 306.4,129.2 306.5,129.2 306.6,129.7 306.7,130.4 306.8,130.4 306.9,130.8 307.0,131.9 307.1,132.7 307.2,133.4 307.2,133.7 307.3,133.2 307.4,133.3 307.5,134.4 307.6,134.3 307.7,133.7 307.8,132.9 307.9,132.5 308.0,132.4 308.0,132.0 308.1,131.5 308.2,131.6 308.3,131.2 308.4,130.0 308.5,128.5 308.6,128.1 308.6,128.0 308.7,127.4 308.8,126.9 308.9,126.8 309.0,126.5 309.1,125.9 309.2,125.2 309.3,124.6 309.3,124.1 309.4,123.7 309.5,122.8 309.6,121.5 309.7,120.8 310.2,120.9 310.8,121.2 311.3,121.2 311.9,120.9 312.0,121.4 312.1,122.2 312.3,122.5 312.4,122.9 312.5,123.6 312.7,124.1 312.8,124.7 312.9,125.0 313.1,125.6 313.2,126.2" stroke-width="3.10"/>
<path d="M313.2,126.2 313.4,126.7 313.5,127.4 313.6,128.3 313.8,128.8 313.9,129.1 314.0,129.5 314.5,130.3 314.9,131.0 315.3,131.2 315.8,131.1 316.2,131.6 316.7,132.1 317.3,132.3 317.8,132.9 318.4,134.1 318.6,134.9 318.8,135.1 319.0,135.1 319.2,135.1 319.4,135.7 319.6,136.0 319.8,136.2 319.9,135.8 320.0,135.5 320.1,134.8 320.2,134.3 320.3,134.1 320.4,133.6 320.6,132.9 320.7,132.2 320.8,131.2 320.9,130.5 321.0,130.3 321.1,129.4 321.2,128.5 321.3,128.1 321.4,129.0 321.6,130.0 321.7,130.8 321.9,131.1 322.0,131.4 322.1,132.2 322.3,132.7 322.4,132.9 322.6,133.5 322.7,134.3 322.9,134.7 323.0,135.4 323.2,136.5 323.3,137.4 323.4,137.9 323.6,136.5 323.8,135.1 324.0,134.4 324.1,134.4 324.3,134.2 324.5,133.4 324.7,132.7 324.8,132.1 325.0,131.3 325.2,131.0 325.5,130.4 325.9,129.7 326.3,129.2 326.6,128.2 326.8,128.9 327.1,129.9 327.3,130.3 327.5,130.7 327.7,131.2 327.9,131.5 328.1,131.7 328.3,132.3 328.5,133.1 329.1,133.0 329.6,132.8 330.1,132.6 330.7,132.4 331.0,132.9 331.3,133.8 331.6,134.7 331.9,134.7 332.2,134.5 332.5,134.8 332.9,135.7 333.2,136.7 333.5,137.4 333.8,138.1 334.1,138.6 334.4,138.9 334.7,139.7 335.0,140.7 335.1,141.0 335.2,141.1 335.3,141.7 335.3,142.5 335.4,143.0 335.5,143.2 335.6,143.0 335.6,143.4 335.7,144.9 335.8,145.8 335.9,145.8 335.9,145.9 336.0,146.6 336.1,147.2 336.3,146.9 336.5,147.4 336.7,148.8 337.0,149.6 337.2,150.0 337.4,150.8 338.0,151.4 338.7,151.5 338.9,150.6 339.2,150.4 339.4,150.3 339.7,149.5 339.9,148.7 340.2,148.6" stroke-width="3.10"/>
<path d="M340.2,148.6 340.4,148.7 340.5,149.4 340.6,149.6 340.7,149.9 340.8,150.7 340.9,151.5 340.9,151.8 341.0,152.3 341.1,153.0 341.2,153.5 341.3,153.9 341.4,154.1 341.5,154.5 341.6,155.4 341.6,156.5 341.7,157.3 341.8,157.9 342.0,158.0 342.1,158.4 342.2,159.4 342.3,160.1 342.4,160.8 342.6,161.6 342.7,162.2 342.8,162.4 342.9,162.9 343.0,163.4 343.1,162.4 343.3,161.4 343.4,160.4 343.5,159.9 343.6,160.0 343.7,160.0 343.8,159.4 343.9,158.8 344.0,158.1 344.1,157.1 344.2,156.6 344.3,156.4 344.6,156.8 344.9,157.4 345.1,157.8 345.4,157.8 345.6,158.2 345.7,159.2 345.8,160.0 345.9,160.2 346.0,160.5 346.1,161.6 346.2,162.6 346.2,163.1 346.3,163.1 346.4,162.9 346.5,163.6 346.6,164.7 346.7,165.4 346.8,165.8 346.9,166.0 346.9,166.4 347.0,165.5 347.1,164.9 347.2,165.2 347.3,165.1 347.4,164.4 347.5,163.4 347.6,162.7 347.6,162.6 347.7,162.5 347.8,162.3 347.9,161.2 348.0,159.9 348.1,159.4 348.2,158.7 348.2,158.1 348.6,157.9 348.9,157.6 349.3,157.1 349.6,156.1 350.0,155.6 350.1,156.7 350.2,157.4 350.2,157.5 350.3,157.6 350.4,158.3 350.5,159.0 350.6,159.8 350.7,160.7 350.8,160.9 350.9,161.2 350.9,162.2 351.0,163.0 351.1,163.6 351.2,164.7 351.3,165.3 351.4,165.2 351.5,165.5 351.6,165.9 351.7,166.4 351.8,167.6 351.9,168.9 352.0,169.5 352.2,169.7 352.3,170.5 352.4,171.3 352.5,171.6 352.6,172.1 353.2,172.8 353.8,173.2 354.3,173.1 354.5,173.1 354.8,173.5 355.0,174.5 355.2,175.4 355.4,175.6 355.6,175.8 355.8,176.5 355.9,177.2 356.0,177.5 356.1,177.8 356.3,178.9" stroke-width="3.10"/>
<path d="M356.3,178.9 356.4,179.8 356.5,180.2 356.6,179.2 356.7,178.2 356.8,178.2 356.9,178.0 356.9,176.7 357.0,175.5 357.1,175.3 357.2,175.5 357.3,175.4 357.4,174.8 357.5,173.8 357.5,172.7 357.6,172.4 357.7,172.4 357.8,172.0 358.0,171.5 358.1,170.8 358.2,169.9 358.4,169.6 358.5,169.5 358.7,168.7 358.8,167.8 359.0,167.3 359.1,166.3 359.2,165.3 359.4,165.6 359.5,165.5 359.6,164.6 359.7,164.0 359.9,163.4 360.0,162.8 360.0,163.4 360.1,163.8 360.2,164.3 360.2,164.4 360.3,164.7 360.3,165.6 360.4,166.5 360.4,166.7 360.5,166.9 360.6,167.6 360.6,168.5 360.7,169.3 360.7,169.8 360.8,170.2 360.8,170.8 360.9,170.3 361.0,169.8 361.1,168.8 361.2,167.8 361.2,167.7 361.3,167.7 361.4,167.1 361.5,166.8 361.6,166.5 361.6,165.9 361.7,164.7 361.8,164.3 361.9,164.5 362.0,165.5 362.2,166.7 362.3,167.6 362.4,168.2 362.5,168.5 362.6,169.1 362.7,170.2 362.8,170.8 362.9,171.1 363.0,171.7 363.2,172.5 363.5,172.9 363.7,173.0 363.9,173.3 364.1,173.9 364.3,174.9 364.4,176.0 364.6,176.4 364.7,176.6 364.8,177.4 364.9,178.0 365.0,178.1 365.2,178.4 365.3,179.4 365.4,180.0 365.5,180.0 365.6,181.1 365.8,181.6 366.0,180.9 366.1,179.7 366.3,178.8 366.4,178.2 366.6,178.1 366.8,178.1 366.9,177.2 367.0,176.3 367.1,176.0 367.1,175.7 367.2,175.1 367.2,174.1 367.3,173.1 367.4,173.1 367.4,173.0 367.5,172.5 367.6,171.4 367.6,170.4 367.7,169.5 367.7,168.7 367.8,168.4 367.9,169.5 368.0,170.3 368.1,170.8 368.2,171.3 368.3,172.0 368.4,172.6 368.5,173.1 368.6,174.2 368.7,175.3 368.8,174.2" stroke-width="3.10"/>
<path d="M368.8,174.2 369.0,173.0 369.1,172.5 369.2,172.1 369.4,171.1 369.5,170.1 369.6,170.6 369.6,171.1 369.7,172.0 369.7,173.3 369.8,174.0 369.8,174.1 369.9,174.8 369.9,175.6 369.9,175.8 370.0,175.7 370.0,176.4 370.1,177.6 370.1,178.4 370.2,178.6 370.2,178.8 370.3,179.6 370.3,180.5 370.4,180.8 370.4,181.2 370.5,180.7 370.5,180.0 370.6,179.9 370.6,179.9 370.7,179.2 370.8,177.9 370.8,177.1 370.9,176.8 370.9,176.2 371.0,175.6 371.1,174.9 371.1,174.3 371.2,173.8 371.2,173.2 371.3,172.8 371.4,171.9 371.4,171.1 371.5,171.1 371.5,171.0 371.6,170.6 371.7,169.6 371.7,168.2 372.4,167.9 373.0,168.4 373.2,168.3 373.5,167.9 373.7,167.1 373.9,166.0 374.1,165.0 374.2,165.4 374.3,165.9 374.3,166.5 374.4,167.1 374.4,167.9 374.5,168.7 374.5,169.4 374.6,170.2 374.6,170.6 374.7,170.9 374.8,171.4 374.9,172.0 375.0,172.7 375.2,173.7 375.3,174.7 375.5,175.1 375.6,175.2 375.8,175.5 375.9,176.0 376.1,177.0 376.5,177.9 376.9,178.4 377.4,178.8 377.5,178.8 377.7,179.2 377.9,180.3 378.1,181.2 378.3,181.4 378.5,181.6 378.7,182.2 379.2,182.8 379.8,183.5 380.4,183.6 380.7,183.9 380.9,184.0 381.2,184.5 381.4,185.2 381.7,185.7 382.0,186.3 382.4,187.0 382.7,187.2 383.0,187.6 383.1,188.5 383.2,188.9 383.3,188.9 383.4,189.4 383.5,190.8 383.7,191.8 383.8,191.8 383.9,192.2 384.0,193.2 384.1,193.2 384.2,192.9 384.3,193.7 384.5,194.0 384.6,193.8 384.8,193.1 385.0,192.1 385.1,191.3 385.3,190.9 385.5,190.4 385.6,189.8 385.8,190.3 385.9,190.6 386.1,191.2 386.3,191.9 386.4,192.0" stroke-width="3.10"/>
<path d="M386.4,192.0 386.6,192.4 386.8,193.4 386.9,194.4 387.0,194.0 387.1,193.2 387.1,192.3 387.2,192.1 387.3,191.7 387.4,191.0 387.4,190.8 387.5,190.5 387.6,190.0 387.6,189.5 387.7,189.0 387.8,188.4 387.9,188.8 388.0,188.8 388.0,188.6 388.1,188.5 388.2,189.3 388.3,190.4 388.4,191.2 388.5,191.7 388.6,191.9 388.7,192.4 388.7,193.4 388.8,194.1 388.9,194.4 389.0,194.9 389.1,195.5 389.7,195.4 390.4,195.5 390.5,195.4 390.7,194.7 390.8,193.7 391.0,193.0 391.1,192.7 391.3,192.8 391.4,192.8 391.6,191.9 391.7,190.6 391.8,189.9 391.9,189.6 392.0,189.0 392.1,188.1 392.2,187.4 392.3,187.1 392.5,186.9 392.6,186.4 392.7,185.7 392.8,185.4 392.9,184.8 393.0,183.7 393.2,182.6 393.3,182.3 393.5,182.2 393.7,181.3 393.8,180.6 394.0,180.6 394.1,180.0 394.3,179.3 394.4,179.3 394.4,179.0 394.5,177.8 394.6,176.6 394.6,175.9 394.7,175.5 394.7,175.0 394.8,174.6 394.9,174.1 394.9,173.7 395.0,173.4 395.0,172.9 395.1,172.1 395.2,171.4 395.2,170.8 395.3,170.6 395.4,170.2 395.4,169.4 395.5,168.6 395.5,168.4 395.6,168.1 395.7,167.5 395.7,166.8 395.8,166.3 395.9,165.9 395.9,165.0 396.0,164.1 396.0,163.6 396.7,163.9 397.3,164.4 397.5,165.1 397.6,165.8 397.8,166.9 397.9,167.9 398.1,168.4 398.2,168.6 398.4,167.6 398.5,166.7 398.6,166.4 398.8,165.8 398.9,164.5 399.1,164.0 399.2,164.0 399.4,163.9 399.5,163.8 399.7,164.0 399.8,163.7 400.0,163.9 400.2,164.6 400.3,165.3 400.5,166.2 400.7,167.0 400.8,167.9 400.9,167.4 401.0,166.2 401.1,165.2 401.3,164.6 401.4,164.5 401.5,164.6" stroke-width="3.10"/>
<path d="M401.5,164.6 401.6,163.8 401.7,162.8 401.8,162.0 401.9,161.1 402.0,160.6 402.1,160.4 402.6,159.6 403.0,158.8 403.4,158.6 403.6,158.2 403.9,157.4 404.1,156.6 404.3,155.6 404.5,155.0 404.7,154.9 405.2,154.4 405.6,154.1 406.0,153.7 406.3,152.5 406.6,151.3 406.8,151.3 407.1,151.1 407.3,150.8 407.4,150.3 407.5,149.4 407.5,149.3 407.6,149.1 407.6,148.2 407.7,147.7 407.8,147.4 407.8,146.5 407.9,145.5 408.0,145.0 408.0,145.0 408.1,144.4 408.1,143.2 408.2,142.2 408.3,142.1 408.4,142.2 408.5,142.0 408.6,141.7 408.7,140.8 408.8,139.9 408.9,139.3 409.0,138.6 409.1,138.0 409.3,139.0 409.5,139.2 409.7,139.3 409.9,140.3 410.2,141.0 410.4,141.2 410.5,141.8 410.6,142.2 410.7,142.6 410.8,143.5 410.9,144.2 411.0,144.5 411.1,145.2 411.2,145.7 411.4,145.9 411.5,146.3 411.6,146.7 411.7,147.6 411.8,147.7 411.8,147.2 411.9,146.8 412.0,146.2 412.1,145.0 412.1,144.4 412.2,143.9 412.3,143.0 412.4,142.5 412.4,142.2 412.5,141.9 412.6,141.8 412.7,141.8 412.8,140.9 412.8,139.6 412.9,138.9 413.0,139.1 413.1,139.0 413.3,137.6 413.4,136.4 413.6,135.7 413.7,135.8 413.9,135.8 414.0,135.0 414.1,134.4 414.3,133.6 414.3,133.8 414.4,134.3 414.4,134.8 414.5,135.2 414.5,136.0 414.6,137.1 414.6,137.6 414.7,137.9 414.7,138.5 414.8,139.3 414.9,139.7 414.9,139.8 415.0,140.2 415.0,141.5 415.1,142.5 415.1,142.4 415.2,142.5 415.2,143.1 415.2,144.0 415.3,144.9 415.3,145.6 415.3,146.0 415.3,146.2 415.4,146.8 415.4,147.2 415.4,147.6 415.5,149.1 415.5,150.9 415.5,151.3 415.6,151.1" stroke-width="3.10"/>
<path d="M415.6,151.1 415.6,151.5 415.6,151.7 415.7,151.6 415.7,151.6 415.7,152.3 415.7,153.2 415.8,154.1 415.8,154.7 415.8,155.0 415.9,155.5 415.9,156.0 415.9,156.4 416.0,157.0 416.0,157.6 416.0,158.1 416.1,158.7 416.1,159.7 416.2,160.6 416.2,161.0 416.3,161.5 416.3,162.3 416.4,162.6 416.4,162.6 416.5,163.2 416.5,163.9 416.6,164.6 416.6,165.3 416.7,165.8 416.7,166.2 416.8,166.7 416.8,167.6 416.9,168.7 416.9,169.3 417.0,169.6 417.0,169.9 417.1,170.5 417.1,171.4 417.2,172.1 417.2,172.7 417.3,173.5 417.3,173.8 417.4,173.7 417.4,174.4 417.4,175.2 417.5,176.0 417.5,176.5 417.6,176.3 417.6,176.8 417.6,177.8 417.7,178.1 417.7,178.6 417.8,179.4 417.8,179.6 417.8,179.9 417.9,180.8 417.9,181.6 418.0,182.3 418.0,182.7 418.0,183.0 418.1,183.9 418.1,185.0 418.2,185.4 418.2,185.9 418.3,186.9 418.3,186.9 418.4,187.0 418.4,187.9 418.5,188.8 418.5,189.8 418.6,190.2 418.6,190.5 418.7,191.4 418.7,191.6 418.8,191.7 418.8,192.4 418.9,192.9 418.9,193.4 419.0,193.9 419.0,194.1 419.1,194.6 419.1,194.3 419.2,193.2 419.3,192.2 419.4,192.3 419.5,192.3 419.5,192.0 419.6,191.7 419.7,190.9 419.8,189.9 419.9,189.1 419.9,188.7 420.1,188.4 420.2,187.5 420.4,186.7 420.5,186.5 420.7,185.9 420.8,184.9 421.0,184.5 421.1,184.7 421.3,184.5 421.5,183.8 421.6,182.7 421.8,181.7 421.9,181.4 422.1,181.5 422.3,181.4 422.4,180.7 422.6,180.1 422.8,180.1 422.9,179.7 423.1,178.2 423.3,177.4 423.4,177.4 423.7,176.8 423.9,176.0 424.2,175.4 424.5,174.5 424.7,173.7 425.4,173.6 426.0,173.5" stroke-width="3.10"/>
<path d="M426.0,173.5 426.5,172.7 426.9,172.1 427.3,171.5 427.4,172.2 427.5,173.2 427.6,173.9 427.8,174.0 427.9,174.3 428.0,175.7 428.1,176.5 428.2,176.6 428.3,177.3 428.4,178.3 428.5,178.7 428.6,178.8 428.7,178.0 428.7,177.6 428.8,177.6 428.9,176.7 428.9,175.6 429.0,175.4 429.0,174.9 429.1,173.9 429.2,173.1 429.2,172.5 429.3,171.9 429.3,171.2 429.4,170.7 429.5,170.4 429.5,170.3 429.6,170.3 429.6,169.6 429.7,168.5 429.8,167.7 429.8,167.2 429.9,166.8 429.9,167.0 430.1,167.0 430.4,166.1 430.6,165.0 430.8,164.1 431.0,163.7 431.2,163.5 431.4,162.9 431.6,162.2 431.7,161.2 431.9,160.2 432.0,159.7 432.2,159.3 432.4,159.1 432.5,159.1 432.6,158.6 432.8,157.8 432.9,156.9 433.0,156.0 433.1,156.0 433.2,155.9 433.3,154.8 433.4,153.3 433.5,152.5 433.6,152.0 433.7,151.7 433.8,151.8 433.9,151.4 434.0,150.5 434.0,149.9 434.1,149.3 434.1,148.8 434.2,148.3 434.2,147.7 434.3,146.9 434.4,146.0 434.4,145.7 434.5,145.0 434.5,143.7 434.6,142.8 434.7,142.7 434.7,142.9 435.0,142.6 435.3,141.8 435.6,141.1 435.7,142.2 435.8,142.8 435.9,143.1 436.1,143.7 436.2,143.9 436.3,143.6 436.4,144.4 436.5,145.7 436.6,146.5 436.8,147.1 436.9,147.6 437.5,148.3 438.2,149.3 438.4,148.5 438.6,147.3 438.8,146.7 439.1,146.3 439.3,145.7 439.5,144.8 439.7,144.1 439.9,143.5 440.1,143.3 440.4,143.3 440.6,142.8 440.8,141.7 441.0,141.1 441.2,140.7 441.6,140.6 441.9,140.3 442.3,139.7 442.6,139.2 443.0,138.9 443.5,139.3 444.1,139.6 444.7,139.6 445.3,138.8 445.9,138.3 446.4,138.3 446.7,138.9" stroke-width="3.10"/>
<path d="M446.7,138.9 446.9,139.8 447.2,140.6 447.4,140.9 447.7,140.9 447.9,141.0 448.2,141.7 448.3,141.5 448.4,140.4 448.5,139.4 448.6,138.8 448.7,138.7 448.8,138.4 448.9,137.9 449.0,137.3 449.2,136.5 449.3,136.2 449.4,136.2 449.5,135.6 449.7,134.7 450.0,134.2 450.2,134.2 450.4,133.7 450.7,132.4 450.9,131.3 451.3,132.0 451.8,132.6 452.2,132.9 452.6,132.8 453.1,133.2 453.6,133.5 454.2,133.6 454.8,133.6 455.4,133.4 456.0,133.0 456.1,133.7 456.2,134.1 456.3,134.4 456.4,135.0 456.5,135.5 456.6,135.7 456.7,136.4 456.9,137.5 457.0,138.5 457.1,139.1 457.2,139.5 457.3,139.8 457.4,140.2 457.6,140.9 457.8,141.2 458.0,141.7 458.1,142.7 458.3,143.4 458.5,144.0 458.7,144.6 458.9,144.9 459.0,145.4 459.2,146.2 459.4,146.9 459.6,146.9 460.1,146.1 460.7,146.2 461.2,145.9 461.8,145.5 461.9,145.2 462.1,144.6 462.3,143.8 462.5,143.0 462.7,142.6 462.8,142.5 463.0,141.6 463.2,140.4 463.3,141.2 463.5,142.5 463.6,143.2 463.7,143.6 463.9,144.0 464.0,144.0 464.2,144.5 464.3,145.0 464.4,145.7 464.6,146.7 464.7,147.2 464.8,147.5 465.0,148.1 465.1,148.5 465.2,149.7 465.4,151.1 465.7,151.5 466.1,151.5 466.5,151.5 466.8,151.7 466.9,151.2 467.0,150.0 467.1,149.4 467.3,149.8 467.4,149.8 467.5,149.1 467.6,148.7 467.7,148.3 467.8,147.3 467.9,145.8 468.0,144.8 468.1,145.0 468.2,145.2 468.3,144.7 468.5,144.6 468.6,144.3 468.7,143.3 468.8,142.3 468.9,141.5 469.0,141.2 469.1,140.7 469.2,139.9 469.4,139.3 469.5,138.7 469.6,138.2 469.7,137.7 469.8,136.9 470.0,136.2 470.1,135.9" stroke-width="3.09"/>
<path d="M470.1,135.9 470.2,135.5 470.3,135.2 470.4,134.5 470.6,133.4 470.7,132.3 470.8,132.0 470.9,132.1 471.0,131.3 471.2,130.6 471.7,131.4 472.3,132.2 472.8,132.7 473.3,132.9 473.5,133.1 473.7,133.3 473.9,133.9 474.1,134.8 474.2,135.4 474.4,135.8 474.6,136.6 474.8,137.3 475.0,137.8 475.1,138.2 475.3,138.5 475.5,139.3 475.7,140.2 475.8,140.3 476.0,140.8 476.2,141.5 476.3,141.6 476.5,141.6 476.6,142.3 476.8,143.6 477.0,144.6 477.6,144.8 478.2,144.9 478.8,144.7 479.4,144.4 480.0,144.3 480.1,144.1 480.1,143.8 480.2,143.1 480.2,142.3 480.3,141.6 480.4,141.4 480.4,141.5 480.5,141.4 480.6,140.9 480.6,140.2 480.7,139.4 480.7,138.3 480.8,137.2 480.9,137.0 481.2,136.9 481.6,135.8 481.9,134.9 482.3,134.8 482.7,134.8 483.0,134.5 483.2,135.1 483.4,135.3 483.6,135.7 483.8,136.8 483.9,136.9 484.1,136.7 484.3,137.7 484.5,138.8 484.7,138.0 484.9,137.3 485.1,136.8 485.4,136.4 485.6,135.9 485.8,135.3 486.0,134.7 486.2,134.5 486.4,134.3 486.7,133.6 487.2,133.5 487.7,134.0 488.3,134.7 488.8,135.1 489.1,134.4 489.4,133.3 489.8,132.1 490.1,131.4 490.4,131.0 490.7,130.3 491.0,129.9 491.2,129.7 491.4,129.2 491.6,128.5 491.8,127.9 492.0,127.9 492.2,127.7 492.4,126.9 492.6,126.9 492.8,126.8 493.0,125.8 493.2,125.0 493.5,125.6 493.8,125.8 494.1,125.6 494.4,126.1 494.7,127.3 495.0,128.2 495.3,128.2 495.5,128.2 495.6,128.7 495.7,129.6 495.8,130.4 495.9,130.8 496.0,131.5 496.1,132.7 496.2,133.4 496.3,133.5 496.5,133.7 496.6,133.9 496.7,135.0 496.8,136.1 496.9,136.5" stroke-width="3.07"/>
<path d="M496.9,136.5 497.0,136.7 497.2,137.0 497.3,137.4 497.4,137.8 497.5,138.5 497.6,139.8 497.8,140.4 497.9,140.4 498.0,140.8 498.1,141.6 498.2,142.6 498.8,142.6 499.3,142.1 499.9,142.5 500.4,143.6 501.0,143.4 501.5,142.5 502.0,142.0 502.6,141.5 502.7,141.9 502.8,142.8 503.0,143.4 503.1,143.9 503.2,144.4 503.3,144.7 503.5,145.3 503.6,146.3 503.7,145.4 503.8,143.8 503.8,142.9 503.9,142.6 504.0,142.1 504.1,141.7 504.1,141.5 504.2,141.2 504.3,141.1 504.4,140.7 504.4,139.9 504.5,139.4 504.6,138.4 504.7,137.5 504.8,137.1 504.9,137.6 505.0,137.7 505.1,138.4 505.2,139.4 505.3,139.9 505.4,140.4 505.5,141.1 505.6,141.6 505.8,142.3 505.9,143.4 506.0,143.6 506.1,143.6 506.2,144.2 506.5,144.0 506.7,143.9 507.0,143.5 507.3,142.2 507.6,141.0 507.8,140.8 508.1,140.1 508.4,139.1 508.6,138.8 508.8,138.6 509.0,138.0 509.2,137.3 509.4,136.8 509.6,136.7 509.8,136.0 510.0,135.1 510.2,134.6 510.4,134.4 510.6,134.2 510.7,133.7 510.8,132.8 511.0,132.0 511.1,130.8 511.3,130.0 511.4,130.7 511.6,131.1 511.7,130.3 511.9,129.3 512.0,128.6 512.1,127.9 512.3,127.4 512.4,126.9 512.6,126.4 512.7,126.6 513.3,127.7 513.8,127.6 514.4,127.1 514.9,127.4 515.1,126.7 515.3,125.8 515.4,125.1 515.6,124.2 515.8,123.7 516.0,123.5 516.2,123.3 516.3,123.2 516.5,122.5 516.6,121.3 516.8,120.6 516.9,120.0 517.1,119.4 517.2,118.9 517.4,118.2 517.5,117.9 517.6,117.5 517.8,116.7 518.0,117.0 518.2,118.1 518.4,119.1 518.7,119.1 518.9,119.6 519.1,120.5 519.3,120.9 519.5,120.9 519.7,120.8" stroke-width="3.05"/>
<path d="M519.7,120.8 520.0,121.2 520.4,121.1 520.8,120.8 521.3,120.5 521.7,120.0 522.1,119.5 522.5,120.5 522.9,121.2 523.2,121.0 523.6,121.2 523.9,122.2 524.3,122.7 524.9,122.1 525.5,121.6 526.0,121.5 526.6,122.1 527.2,122.9 527.4,122.6 527.5,121.6 527.7,120.9 527.9,120.5 528.0,119.6 528.2,118.3 528.4,118.1 528.5,118.5 528.7,117.7 528.9,116.7 529.0,116.7 529.2,116.3 529.4,115.5 529.5,114.2 529.7,113.2 529.8,113.6 530.0,113.5 530.1,112.4 530.2,111.9 530.4,111.4 530.5,110.8 530.7,110.0 530.8,109.7 531.0,109.7 531.1,109.0 531.3,109.2 531.5,109.4 531.7,110.0 532.0,111.1 532.2,112.0 532.4,112.8 532.6,113.3 532.8,113.3 533.0,113.8 533.3,114.5 533.6,115.0 533.9,115.7 534.2,116.4 534.5,117.0 534.9,117.2 535.2,117.1 535.4,116.6 535.5,116.8 535.7,116.4 535.9,115.2 536.1,114.6 536.3,114.1 536.4,113.3 536.6,113.0 536.8,112.3 537.0,111.6 537.2,111.6 537.3,110.7 537.7,110.9 538.1,111.9 538.4,112.8 538.8,113.2 539.2,113.4 539.5,113.7 539.8,112.8 540.1,112.4 540.4,112.4 540.8,111.9 541.1,110.8 541.4,110.0 541.7,109.7 542.0,110.4 542.4,111.1 542.8,111.7 543.1,112.4 543.4,112.2 543.7,111.9 544.0,111.0 544.2,109.8 544.5,109.2 544.8,108.9 545.0,108.4 545.3,107.8 545.9,107.8 546.5,107.9 547.0,108.1 547.6,108.7 548.2,109.6 548.5,109.4 548.8,108.9 549.2,108.1 549.5,107.3 549.8,107.2 550.1,107.3 550.5,106.7 550.8,106.0 551.1,105.4 551.5,104.3 551.8,103.7 552.2,103.5 552.5,103.2 552.9,102.9 553.3,102.7 553.6,102.2 554.0,101.7 554.3,100.9 554.5,100.2 554.8,100.4" stroke-width="3.03"/>
<path d="M554.8,100.4 555.0,99.9 555.3,98.8 555.6,98.2 555.8,97.5 556.1,96.9 556.3,96.9 556.6,97.0 556.9,97.5 557.2,97.5 557.5,97.9 557.8,99.2 558.1,99.2 558.3,98.8 559.1,99.0 559.8,99.3 560.5,99.5 560.7,100.0 560.8,100.5 560.9,101.5 561.1,102.1 561.2,102.7 561.4,103.1 561.5,102.9 561.7,103.4 561.8,104.6 562.0,105.1 562.1,105.3 562.3,106.2 562.4,106.7 562.5,107.1 562.7,107.5 563.0,106.4 563.2,105.4 563.5,104.6 563.8,104.1 564.0,103.9 564.3,104.1 564.6,104.0 564.9,103.3 565.4,103.6 565.9,104.2 566.5,104.4 567.0,104.2 567.6,103.6 568.1,103.7 568.7,103.7 569.2,103.5 569.3,104.2 569.5,104.9 569.6,105.4 569.7,105.6 569.9,106.3 570.0,107.5 570.2,108.0 570.3,108.1 570.4,108.2 570.6,108.9 570.7,110.2 570.8,110.8 571.0,110.7 571.1,110.9 571.2,111.4 571.4,111.9 571.6,111.6 571.8,111.5 572.0,111.4 572.2,111.1 572.5,110.5 572.7,109.7 572.9,109.0 573.1,107.9 573.3,106.9 573.5,106.7 574.1,107.3 574.6,107.6 575.2,108.1 575.7,108.5 576.2,107.8 576.6,107.7 577.0,107.8 577.5,107.2 577.9,106.1 578.3,106.8 578.8,107.7 579.2,108.0 579.6,108.1 580.1,108.2 580.6,108.3 581.2,108.5 581.7,107.5 582.2,106.7 582.3,106.7 582.4,106.8 582.5,106.2 582.6,105.2 582.7,104.7 582.7,104.4 582.8,103.7 582.9,103.1 583.0,102.8 583.1,102.0 583.2,101.4 583.3,100.7 583.3,99.8 583.4,99.1 583.5,98.6 583.6,98.0 583.7,97.6 584.0,97.4 584.4,96.7 584.8,96.2 585.1,96.0 585.5,95.3 585.9,94.3 586.6,94.4 587.3,94.7 588.0,94.9 588.4,94.6 588.8,93.8 589.1,92.9" stroke-width="3.00"/>
<path d="M589.1,92.9 589.5,92.6 589.8,92.7 590.2,92.1 590.8,92.0 591.4,92.8 591.9,93.1 592.5,92.7 593.1,93.3 593.3,94.7 593.5,95.2 593.8,95.4 594.0,96.2 594.2,97.1 594.4,97.0 594.6,97.0 594.8,97.8 595.1,98.3 595.3,99.0 595.8,98.9 596.4,98.6 596.9,98.0 597.4,96.9 597.9,96.9 598.4,97.3 598.9,96.9 599.4,95.8 599.9,95.1 600.3,94.7 600.7,93.9 601.0,93.4 601.3,93.4 601.6,93.0 601.9,92.3 602.2,91.8 602.5,91.6 603.1,92.1 603.6,92.4 604.1,92.4 604.7,92.2 605.2,92.2 605.8,92.2 606.3,91.7 606.9,90.8 607.0,91.0 607.2,91.7 607.4,92.6 607.5,93.4 607.7,93.5 607.9,93.3 608.0,93.9 608.2,94.9 608.4,95.3 608.5,95.4 608.7,96.3 608.9,97.6 609.0,98.0 609.2,98.1 609.3,98.9 609.4,99.6 609.5,99.6 609.7,100.2 609.8,101.2 609.9,101.9 610.1,102.9 610.2,103.8 610.3,103.9 610.4,104.1 610.6,104.8 610.7,105.1 610.8,106.0 610.9,107.1 611.1,107.6 611.2,107.4 611.6,106.2 612.1,105.9 612.5,106.0 612.9,106.1 613.4,105.8 613.9,105.9 614.5,106.1 615.0,106.3 615.5,106.7 616.3,106.5 617.0,106.1 617.7,106.6 618.1,107.6 618.4,108.2 618.8,108.7 619.2,108.7 619.5,108.5 619.9,109.0 620.2,109.9 620.5,110.5 620.8,111.1 621.0,111.7 621.3,112.4 621.9,111.8 622.4,111.6 623.0,111.4 623.5,110.9 623.8,110.4 624.1,110.2 624.3,109.2 624.6,108.4 624.9,108.3 625.1,107.8 625.4,107.1 625.7,106.6 626.2,106.4 626.8,105.8 627.3,105.0 627.9,104.6 628.0,104.2 628.1,103.7 628.3,103.4 628.4,102.6 628.6,101.6 628.7,100.9 628.9,100.3 629.0,100.0" stroke-width="2.97"/>
<path d="M629.0,100.0 629.2,99.3 629.3,98.0 629.4,97.4 629.5,97.8 629.6,97.7 629.7,96.9 629.8,96.7 630.0,96.4 630.1,95.3 630.2,94.5 630.3,94.3 630.4,94.2 630.5,93.8 630.6,93.6 630.7,93.6 630.8,92.8 630.9,91.5 631.0,90.3 631.2,89.3 631.3,88.7 631.4,88.5 631.5,88.2 632.0,88.0 632.6,87.5 633.1,86.8 633.6,86.8 634.0,88.2 634.3,88.6 634.6,88.4 634.9,89.2 635.3,89.8 635.6,90.2 635.9,90.8 636.2,90.9 636.5,90.9 636.9,89.8 637.2,89.3 637.5,89.8 637.8,89.2 638.1,87.9 638.4,87.6 638.7,87.9 639.1,87.7 639.4,87.4 639.8,86.8 640.2,86.0 640.5,85.3 640.9,84.7 641.3,84.3 641.6,84.1 642.0,83.7 642.3,83.2 642.7,82.9 643.1,82.5 643.3,81.5 643.5,80.5 643.7,79.8 643.9,79.0 644.1,78.8 644.3,79.0 644.5,78.7 644.8,78.9 645.1,79.2 645.4,79.5 645.8,80.3 646.1,81.3 646.4,81.6 646.7,81.6 647.2,82.0 647.8,82.7 648.3,82.8 648.9,82.2 649.3,82.7 649.7,83.6 650.2,84.2 650.6,84.9 651.0,84.9 651.1,85.3 651.2,86.4 651.3,87.1 651.4,87.4 651.4,87.8 651.5,88.3 651.6,88.6 651.7,89.1 651.8,90.2 651.9,91.0 651.9,91.0 652.0,91.4 652.1,92.1 652.2,92.7 652.3,93.4 652.4,93.8 652.4,94.5 652.5,95.4 652.6,95.9 652.7,96.2 652.8,96.2 652.9,95.2 653.1,95.0 653.3,95.1 653.5,94.6 653.6,93.7 653.8,93.3 654.0,93.3 654.1,92.9 654.3,91.8 654.5,90.8 654.6,90.1 655.1,89.8 655.5,89.6 656.0,89.4 656.4,89.1 656.8,88.8 657.3,88.6 657.7,88.1 658.1,87.2 658.6,86.5 659.0,86.3 659.2,86.0" stroke-width="2.95"/>
<path d="M659.2,86.0 659.4,85.4 659.6,84.4 659.8,83.7 660.0,83.6 660.2,83.3 660.4,83.0 660.6,82.4 660.8,81.0 661.0,80.1 661.2,80.4 661.3,80.1 661.5,79.4 661.7,78.7 661.8,77.6 662.0,76.5 662.2,76.2 662.3,76.6 662.5,76.5 662.7,75.8 662.8,75.1 663.0,74.3 663.2,73.9 663.3,73.6 663.6,72.9 663.8,72.0 664.0,71.4 664.2,71.3 664.4,70.9 664.6,70.1 664.9,69.8 665.1,69.3 665.3,68.4 665.5,68.0 665.9,67.5 666.2,66.8 666.6,66.2 667.0,65.4 667.3,64.9 667.7,65.2 668.3,65.7 668.8,65.2 669.4,64.5 670.0,64.7 670.3,65.6 670.6,65.6 670.9,65.3 671.2,65.3 671.4,65.8 671.7,66.7 672.0,67.5 672.3,67.9 672.8,67.5 673.3,67.3 673.8,66.7 673.9,66.8 674.1,67.6 674.3,68.7 674.5,69.6 674.7,69.6 674.8,69.5 675.0,70.2 675.2,70.9 675.4,71.2 675.6,71.3 675.7,72.1 675.9,72.8 676.7,73.3 677.4,73.7 678.1,73.5 678.6,73.4 679.2,73.2 679.7,72.5 680.3,72.0 680.4,72.4 680.5,72.7 680.6,72.9 680.8,73.6 680.9,74.4 681.0,74.9 681.1,75.7 681.2,76.4 681.4,76.7 681.5,77.2 681.6,77.4 681.7,77.3 682.2,77.8 682.6,78.8 683.0,79.8 683.5,80.3 683.9,80.6 684.1,80.1 684.3,79.5 684.5,78.9 684.7,78.8 684.9,78.6 685.1,77.8 685.3,77.0 685.4,77.1 685.5,77.3 685.5,78.2 685.6,79.2 685.7,79.7 685.7,80.3 685.8,81.1 685.9,81.4 685.9,81.7 686.0,82.5 686.1,83.2 686.1,83.4 686.2,83.7 686.3,84.7 686.3,85.7 686.4,86.1 686.5,86.4 686.5,86.8 686.6,87.2 686.7,87.5 686.7,88.0 686.8,89.0 687.1,90.2" stroke-width="2.92"/>
<path d="M687.1,90.2 687.4,91.0 687.7,91.1 688.0,91.3 688.2,92.2 688.4,92.0 688.7,91.9 688.9,91.7 689.1,90.7 689.3,89.5 689.5,89.0 689.7,88.7 689.8,88.9 689.9,89.5 689.9,90.4 690.0,91.1 690.1,90.9 690.2,90.8 690.3,91.8 690.4,92.6 690.5,93.0 690.5,94.0 690.6,94.7 690.7,95.1 690.8,96.1 690.9,96.9 691.0,97.0 691.1,97.1 691.1,97.5 691.7,97.2 692.2,97.0 692.8,96.6 693.3,96.2 694.0,95.8 694.8,95.6 694.9,95.9 695.0,96.3 695.1,97.5 695.3,98.7 695.4,98.9 695.5,99.0 695.7,100.1 695.8,101.0 695.9,101.1 696.0,101.8 696.2,102.9 696.3,103.3 696.4,103.4 696.5,103.3 696.7,103.9 696.8,104.8 696.9,105.4 697.3,105.0 697.7,104.0 698.0,103.3 698.4,103.3 698.7,102.7 699.1,101.9 699.5,101.8 699.8,101.6 700.2,100.9 700.6,100.5 700.9,100.4 701.3,99.6 701.5,99.3 701.6,99.5 701.8,99.9 702.0,100.4 702.2,101.5 702.4,102.3 702.5,102.5 702.7,103.5 702.9,104.6 703.1,105.3 703.3,105.8 703.4,105.9 704.0,104.9 704.5,104.3 705.1,104.7 705.6,104.8 705.9,104.9 706.2,105.4 706.5,106.2 706.8,106.4 707.1,106.8 707.4,106.6 707.8,106.2 708.2,105.7 708.5,105.3 708.9,105.3 709.2,104.8 709.8,104.7 710.3,104.5 710.9,104.7 711.4,105.0 712.0,105.1 712.5,105.7 713.0,105.8 713.6,105.8 713.9,106.6 714.2,106.9 714.5,106.9 714.8,107.2 715.1,107.9 715.4,108.3 715.8,108.5 716.3,108.4 716.8,108.9 717.4,108.8 717.9,108.0 718.3,108.3 718.7,109.0 719.0,109.4 719.4,110.3 719.7,111.0 720.1,111.0 720.6,110.9 721.2,111.1 721.7,110.5 722.3,109.9 722.6,110.1" stroke-width="2.90"/>
<path d="M722.6,110.1 723.0,110.4 723.4,111.5 723.7,112.9 724.1,113.2 724.4,112.9 725.0,112.5 725.5,112.6 726.1,113.3 726.6,113.8 726.8,113.5 726.9,113.2 727.1,112.6 727.2,111.9 727.3,111.2 727.5,110.3 727.6,109.6 727.8,109.3 727.9,109.3 728.1,108.8 728.2,108.0 728.4,107.8 728.5,107.1 728.6,105.7 728.8,105.0 729.0,106.2 729.2,107.0 729.4,107.5 729.7,107.5 729.9,107.0 730.1,107.3 730.3,109.2 730.5,110.7 730.7,110.4 731.0,110.0 731.2,110.9 731.4,112.2 731.6,112.9 731.8,113.2 732.0,113.6 732.1,114.4 732.3,114.9 732.5,115.0 732.7,115.4 732.9,115.7 733.1,115.8 733.9,115.8 734.6,116.3 734.7,116.3 734.8,116.1 735.0,115.5 735.1,115.1 735.2,114.6 735.4,114.1 735.5,113.5 735.6,112.5 735.7,112.0 735.9,111.9 736.0,111.5 736.1,110.9 736.2,110.4 736.4,109.7 736.5,108.9 736.6,108.5 736.8,108.3 737.1,107.7 737.5,106.5 737.8,105.5 738.2,105.2 738.6,106.1 739.1,106.7 739.5,107.0 739.9,107.4 740.4,108.1 741.1,107.7 741.8,107.3 742.5,107.8 742.9,108.7 743.3,109.1 743.6,109.5 744.0,109.8 744.4,110.3 744.7,111.1 744.9,110.7 745.1,110.1 745.3,109.5 745.5,109.0 745.7,108.5 745.9,107.6 746.1,107.0 746.3,107.0 746.5,106.4 746.7,105.8 746.9,105.5 747.4,105.9 748.0,106.4 748.5,106.3 749.1,106.1 749.6,105.8 750.2,105.7 750.7,105.4 751.2,104.7 751.8,104.5 752.3,104.8 752.9,105.3 753.4,105.7 753.7,106.0 754.0,106.1 754.3,106.7 754.6,107.4 754.9,107.7 754.9,107.8 755.0,108.4 755.1,109.3 755.2,110.2 755.3,111.0 755.3,111.5 755.4,111.9 755.5,112.5 755.6,113.4 755.7,113.5" stroke-width="2.88"/>
<path d="M755.7,113.5 755.7,113.9 755.8,114.5 755.9,115.1 756.0,116.1 756.1,116.8 756.1,117.3 756.2,117.9 756.3,118.1 756.7,118.2 757.0,118.7 757.4,119.4 757.8,120.0 758.1,120.4 758.5,120.7 758.8,121.3 759.2,122.2 759.6,122.5 759.9,123.2 760.1,123.1 760.3,122.1 760.4,121.0 760.6,120.3 760.8,120.1 760.9,119.9 761.1,118.9 761.3,118.0 761.4,117.4 761.6,116.9 761.8,116.3 761.9,116.2 762.1,116.3 762.3,117.1 762.5,117.4 762.6,117.3 762.8,117.4 763.0,117.7 763.2,118.4 763.4,119.3 763.5,120.4 763.7,121.4 763.9,121.6 764.1,121.9 764.3,122.5 764.7,122.7 765.1,122.8 765.6,123.5 766.0,124.8 766.4,125.4 766.7,125.6 766.9,126.3 767.1,126.8 767.3,126.8 767.5,127.1 767.7,127.6 768.0,128.0 768.2,128.4 768.4,128.8 768.6,129.4 768.9,130.2 769.2,130.5 769.5,130.7 769.9,131.6 770.2,132.8 770.5,133.1 770.8,133.2 771.0,133.6 771.2,134.3 771.4,134.9 771.7,135.2 771.9,135.6 772.1,136.3 772.3,137.1 772.5,137.7 772.7,137.9 773.0,138.7 773.3,138.3 773.6,137.7 773.9,137.2 774.2,136.5 774.5,135.8 774.8,135.1 775.1,134.6 775.3,133.7 775.6,133.0 775.8,132.9 776.0,132.2 776.2,131.5 776.4,131.3 776.6,130.8 776.8,130.2 777.0,129.7 777.2,130.8 777.4,131.4 777.5,131.1 777.7,131.8 777.9,132.9 778.1,133.5 778.2,134.0 778.4,134.5 778.6,134.5 778.8,134.7 779.2,135.7 779.7,136.6 780.2,136.6 780.3,137.0 780.4,138.1 780.5,138.5 780.6,138.6 780.8,139.2 780.9,140.3 781.0,141.0 781.1,141.0 781.2,141.0 781.3,141.7 781.4,143.4 781.5,144.7 781.7,144.9 781.8,145.0 781.9,145.5 782.1,146.0" stroke-width="2.87"/>
<path d="M782.1,146.0 782.2,146.5 782.4,147.0 782.5,147.2 782.7,147.6 782.8,148.6 783.0,149.2 783.1,149.4 783.3,148.9 783.5,148.7 783.6,148.5 783.8,147.9 784.0,146.9 784.2,146.1 784.4,146.0 784.5,146.2 784.7,146.0 784.9,145.2 785.1,144.5 785.3,143.6 785.8,142.7 786.4,142.6 786.9,142.7 787.4,142.6 788.0,142.8 788.5,142.5 789.1,141.5 789.6,141.1 790.0,141.7 790.3,141.6 790.7,141.7 791.1,142.5 791.4,142.9 791.8,143.4 792.0,143.9 792.2,143.9 792.4,143.1 792.6,142.4 792.8,141.8 793.0,141.2 793.2,140.6 793.7,140.0 794.1,139.6 794.5,139.7 795.0,139.8 795.4,139.3 795.8,138.7 796.3,138.8 796.7,139.8 797.1,140.5 797.6,141.3 798.3,141.2 799.0,140.2 799.8,139.7 800.3,139.4 800.8,139.3 801.4,138.8 801.9,138.3 802.2,139.5 802.5,140.5 802.7,140.8 803.0,141.6 803.3,142.2 803.6,142.2 803.8,142.4 804.1,143.4 804.4,144.6 804.6,144.8 804.9,145.1 805.2,145.4 805.5,145.8 805.7,147.0 806.0,148.1 806.3,148.7 806.7,149.0 807.1,149.0 807.6,149.2 808.0,149.6 808.4,149.9 809.0,149.8 809.5,150.2 810.1,151.1 810.6,151.3 811.0,150.9 811.5,151.6 811.9,153.2 812.4,153.9 812.8,153.6 813.1,152.5 813.4,152.0 813.7,151.5 814.0,151.1 814.3,150.7 814.6,149.9 815.0,149.4 815.2,149.5 815.4,149.2 815.6,148.8 815.8,148.5 815.9,148.2 816.1,147.7 816.3,147.0 816.5,146.0 816.7,144.9 816.9,144.2 817.1,144.1 817.6,144.1 818.0,143.8 818.4,143.1 818.9,142.5 819.3,141.9 819.6,141.9 819.8,142.2 820.1,142.8 820.4,143.9 820.7,144.9 820.9,145.4 821.2,145.4 821.5,145.7 821.8,146.6 822.1,147.2" stroke-width="2.85"/>
<path d="M822.1,147.2 822.4,147.6 822.7,148.4 823.0,149.3 823.3,149.7 823.6,150.0 823.7,150.7 823.8,151.4 823.9,151.6 824.0,152.4 824.1,153.5 824.2,153.9 824.3,154.3 824.4,154.8 824.5,155.4 824.6,155.8 824.7,156.0 824.8,156.4 824.9,157.1 825.0,157.9 825.1,158.4 825.2,158.8 825.3,159.4 825.4,160.3 825.5,160.9 825.6,161.2 826.3,161.0 826.9,160.7 827.6,160.3 828.2,160.0 828.6,160.3 828.9,161.0 829.2,161.7 829.6,162.6 829.9,163.3 830.2,163.6 830.5,163.8 830.8,164.6 831.1,165.3 831.4,165.5 831.7,166.3 831.9,167.4 832.2,167.9 832.5,168.3 832.8,168.7 833.2,167.6 833.7,166.9 834.1,166.7 834.5,166.1 835.0,165.5 835.4,165.8 835.9,165.8 836.4,165.3 836.9,165.1 837.4,164.6 837.6,163.4 837.8,162.6 838.0,162.3 838.2,162.2 838.3,162.0 838.5,161.2 838.7,160.2 838.9,159.6 839.2,160.4 839.4,161.2 839.7,161.5 839.9,161.8 840.1,162.2 840.4,162.6 840.6,163.5 841.1,164.2 841.6,164.1 842.1,164.0 842.6,164.4 842.9,165.2 843.2,166.1 843.6,166.8 843.9,167.0 844.2,167.5 844.5,167.9 844.9,168.3 845.3,169.1 845.7,169.6 846.1,169.7 846.5,170.1 846.7,171.3 847.0,172.3 847.2,172.6 847.5,172.7 847.7,173.4 847.9,174.5 848.2,175.5 848.5,175.0 848.7,174.3 849.0,173.4 849.3,172.6 849.6,172.5 849.9,172.4 850.1,171.8 850.4,171.5 850.5,171.1 850.6,170.5 850.7,169.8 850.8,168.8 850.9,168.2 851.1,168.1 851.2,167.2 851.3,166.1 851.4,166.2 851.5,166.0 851.6,164.8 851.7,164.3 851.8,163.9 851.9,163.4 852.0,162.8 852.1,161.4 852.2,160.5 852.3,160.3 852.4,159.9 852.5,159.3 852.5,159.3" stroke-width="2.83"/>
<path d="M852.5,159.3 852.6,159.1 852.7,158.4 852.8,157.5 852.9,156.5 853.0,156.1 853.2,156.0 853.3,155.7 853.5,155.3 853.7,155.0 853.8,154.3 854.0,153.4 854.2,153.1 854.3,152.6 854.5,151.4 854.6,150.6 854.8,150.2 855.0,149.5 855.3,149.1 855.6,148.8 855.9,148.4 856.3,147.8 856.6,147.0 856.9,146.4 857.2,146.7 857.4,146.6 857.7,145.6 858.0,145.2 858.2,144.9 858.6,145.3 858.9,145.8 859.2,146.4 859.5,146.9 859.9,147.2 860.2,147.6 860.4,146.8 860.6,145.7 860.8,145.4 861.1,145.8 861.3,145.5 861.5,144.3 861.9,143.5 862.3,143.3 862.7,142.6 863.1,141.7 863.4,141.7 863.8,142.6 864.2,142.9 864.6,143.0 865.0,143.1 865.4,143.8 865.8,145.0 866.2,145.8 866.6,146.2 867.0,146.7 867.4,146.9 867.7,146.0 868.1,145.5 868.5,145.2 868.9,144.5 869.3,144.0 869.4,144.0 869.6,144.0 869.7,143.3 869.8,142.3 870.0,141.7 870.1,141.7 870.2,141.2 870.3,140.6 870.5,140.0 870.6,139.0 870.8,138.4 871.0,137.7 871.2,136.7 871.4,136.1 871.6,136.1 871.8,136.2 872.0,135.7 872.2,135.0 872.4,134.4 872.6,133.7 873.2,133.3 873.9,133.2 874.5,133.4 875.2,133.8 875.6,135.3 876.0,136.6 876.3,136.6 876.7,136.5 877.1,137.1 877.4,136.7 877.7,135.8 878.0,134.8 878.2,133.7 878.5,133.2 878.8,133.3 879.1,133.0 879.3,133.5 879.5,134.1 879.7,135.0 880.0,135.5 880.2,135.1 880.4,134.7 880.6,135.3 880.8,136.8 881.0,138.0 881.4,137.4 881.8,136.8 882.2,136.2 882.6,135.3 883.0,134.8 883.4,135.9 883.8,136.0 884.2,135.4 884.6,135.7 884.9,136.7 885.4,136.6 885.9,136.4 886.4,136.3 886.9,135.5 887.6,135.3" stroke-width="2.82"/>
<path d="M887.6,135.3 888.2,135.8 888.9,135.7 889.5,135.4 890.2,135.9 890.8,136.1 891.5,135.3 892.1,134.6 892.6,134.3 893.0,134.4 893.4,133.9 893.9,133.2 894.3,133.2 894.7,133.1 895.4,132.5 896.0,132.2 896.7,132.6 897.0,132.2 897.3,132.1 897.7,132.1 898.0,130.9 898.3,129.4 898.6,129.2 898.9,130.4 899.1,130.6 899.3,130.6 899.5,131.3 899.7,131.9 899.9,132.5 900.2,133.8 900.4,134.4 900.6,134.4 901.2,134.2 901.9,134.4 902.5,134.5 902.9,134.1 903.3,134.1 903.7,134.0 904.0,133.2 904.4,132.5 904.8,132.3 905.2,131.9 905.3,130.9 905.4,130.2 905.6,129.9 905.7,129.3 905.8,128.8 906.0,128.3 906.1,127.7 906.3,127.8 906.4,127.4 906.5,126.6 906.7,125.9 906.8,125.1 907.0,124.1 907.1,123.2 907.5,122.8 907.9,123.0 908.2,123.0 908.6,122.2 909.0,121.5 909.3,120.9 909.7,120.3 910.0,119.6 910.4,119.2 910.7,119.1 911.0,118.8 911.3,118.3 911.7,117.5 912.1,116.6 912.5,115.8 912.8,115.3 913.2,115.3 913.6,114.8 914.0,114.8 914.4,115.0 914.8,115.7 915.2,116.4 915.6,117.0 916.1,117.8 916.6,118.9 917.1,119.2 917.7,118.7 918.2,118.7 918.7,118.4 919.2,118.3 919.7,118.7 920.3,119.0 920.8,118.6 921.0,117.7 921.2,117.3 921.4,116.9 921.5,115.7 921.7,115.1 921.9,115.1 922.1,114.5 922.6,114.6 923.1,114.6 923.6,114.8 924.1,115.2 924.4,114.5 924.8,114.3 925.2,113.9 925.6,113.1 926.0,112.7 926.4,113.4 926.8,114.1 927.2,114.6 927.6,114.6 928.0,114.6 928.3,114.1 928.6,113.7 928.9,113.4 929.3,113.4 929.5,113.7 929.7,113.2 929.9,113.4 930.0,114.4 930.2,115.3 930.4,115.8 930.6,116.7" stroke-width="2.77"/>
<path d="M930.6,116.7 930.8,117.7 931.0,117.8 931.2,117.6 931.5,117.5 931.9,118.0 932.2,119.1 932.5,119.8 932.8,120.6 933.2,121.1 933.4,120.5 933.5,120.1 933.7,119.4 933.9,118.5 934.1,118.1 934.2,117.8 934.4,117.7 934.6,117.6 934.8,116.7 935.0,115.9 935.1,115.5 935.5,115.3 935.9,114.5 936.3,113.8 936.7,113.7 937.1,113.4 937.3,112.4 937.4,111.7 937.6,111.5 937.8,111.2 938.0,110.3 938.2,109.3 938.3,109.3 938.5,109.6 938.7,109.2 938.9,108.5 939.0,108.1 939.7,108.5 940.3,108.2 941.0,107.9 941.6,108.0 942.1,107.8 942.6,107.4 943.1,106.4 943.6,106.4 944.1,106.8 944.6,106.1 945.1,105.4 945.6,105.2 945.7,104.9 945.9,104.3 946.0,103.9 946.2,103.6 946.4,102.7 946.5,102.1 946.7,101.9 946.9,101.4 947.0,100.8 947.2,100.2 947.4,99.9 947.5,99.6 947.8,98.9 948.1,98.2 948.4,97.4 948.6,96.7 948.9,96.5 949.2,96.0 949.5,95.1 950.0,94.4 950.5,94.2 951.0,93.6 951.6,92.7 952.1,92.8 952.7,93.3 953.4,93.0 954.0,92.7 954.7,92.9 955.2,92.9 955.7,92.8 956.1,92.1 956.6,91.3 957.0,91.8 957.4,92.5 957.8,92.8 958.2,92.8 958.6,93.7 959.1,94.2 959.6,94.0 960.2,93.8 960.7,93.8 961.2,94.0 961.7,94.9 962.1,95.5 962.6,95.9 963.1,96.6 963.5,96.9 964.0,97.0 964.5,97.3 964.8,96.9 965.2,96.6 965.6,96.8 966.0,96.4 966.4,95.1 967.1,95.2 967.7,95.9 968.4,95.7 969.0,96.0 969.5,95.9 969.9,95.4 970.3,94.8 970.8,93.9 971.2,93.0 971.6,92.9 972.1,93.0 972.5,92.4 972.9,92.1 973.4,92.1 973.8,91.3 974.2,90.5 974.4,90.5 974.7,90.0" stroke-width="2.68"/>
<path d="M974.7,90.0 974.9,89.1 975.1,88.7 975.3,88.4 975.5,87.6 975.7,86.6 975.9,85.5 976.1,86.3 976.2,87.2 976.4,87.7 976.5,88.4 976.7,89.2 976.8,89.3 976.9,89.4 977.1,90.2 977.2,91.1 977.4,91.6 977.5,92.0 977.9,92.5 978.3,93.1 978.7,93.9 979.1,94.3 979.5,94.8 979.9,94.9 980.4,94.2 980.9,94.4 981.3,94.3 981.8,93.6 982.3,93.4 982.6,93.8 983.0,93.9 983.3,94.9 983.7,95.6 984.0,95.9 984.4,96.5 984.7,97.2 985.0,97.4 985.4,98.3 985.8,98.6 986.1,98.2 986.5,98.6 986.8,99.5 987.2,100.3 987.5,101.0 987.9,101.0 988.1,99.9 988.4,99.8 988.7,99.1 988.9,98.1 989.2,97.8 989.5,97.3 989.7,96.8 990.0,96.2 990.3,95.7 990.9,95.6 991.5,95.1 992.1,94.7 992.7,94.6 993.3,94.7 993.9,94.7 994.5,94.6 995.0,94.9 995.4,95.0 995.7,94.5 996.1,93.3 996.4,92.7 996.8,92.4 997.1,92.2 997.4,92.0 998.0,92.1 998.6,92.0 999.2,91.3 999.8,91.1 1000.0,91.7 1000.3,92.1 1000.5,92.8 1000.7,93.3 1000.9,93.1 1001.1,93.5 1001.3,94.6 1001.5,95.3 1001.7,95.5 1001.9,96.1 1002.1,96.7 1002.3,97.4 1002.4,98.2 1002.6,98.5 1002.8,98.7 1003.0,99.3 1003.2,99.9 1003.3,100.6 1003.6,100.3 1003.9,99.4 1004.1,98.7 1004.4,98.6 1004.6,98.3 1004.9,97.4 1005.1,96.6 1005.4,96.8 1005.9,97.2 1006.4,96.3 1006.8,94.9 1007.3,94.7 1007.8,94.9 1008.1,94.6 1008.4,94.2 1008.7,94.2 1009.0,93.6 1009.3,92.9 1009.6,92.5 1009.9,91.4 1010.2,90.2 1010.3,89.8 1010.5,89.5 1010.6,89.0 1010.8,88.8 1010.9,88.2 1011.1,87.2 1011.2,86.5 1011.3,86.3 1011.5,86.1" stroke-width="2.57"/>
<path d="M1011.5,86.1 1011.6,85.6 1011.8,85.1 1012.4,84.9 1013.0,84.5 1013.6,84.4 1014.2,84.2 1014.6,84.6 1015.1,85.1 1015.6,84.8 1016.1,85.0 1016.6,85.8 1017.0,86.2 1017.5,86.5 1017.9,86.5 1018.4,86.3 1018.8,87.0 1019.3,87.7 1019.7,88.0 1020.4,88.1 1021.0,88.3 1021.7,88.2 1022.3,87.6 1022.9,86.9 1023.3,87.2 1023.6,87.6 1024.0,88.0 1024.3,88.6 1024.6,89.2 1025.0,90.2 1025.3,91.0 1026.0,91.0 1026.6,90.9 1027.2,90.6 1027.9,90.4 1028.5,90.2 1029.1,89.8 1029.8,89.7 1030.4,89.7 1031.1,89.3 1031.7,89.2 1032.0,90.0 1032.3,90.7 1032.6,91.1 1032.9,91.1 1033.2,90.9 1033.5,91.2 1033.8,92.0 1034.1,92.8 1034.4,93.3 1034.8,93.9 1035.1,94.7 1035.4,95.1 1035.8,95.4 1036.1,96.1 1036.5,97.0 1037.1,96.3 1037.7,95.5 1038.3,95.6 1038.9,95.7 1039.5,95.7 1040.1,96.5 1040.7,96.7 1041.2,95.7 1041.6,95.7 1041.9,95.9 1042.3,96.4 1042.6,97.4 1043.0,98.0 1043.3,98.8 1043.6,99.5 1044.0,98.6 1044.4,97.3 1044.8,96.7 1045.2,97.5 1045.6,97.8 1046.0,96.9 1046.5,96.9 1047.0,97.0 1047.5,97.5 1047.9,98.3 1048.4,98.5 1048.7,97.7 1048.9,97.2 1049.2,96.3 1049.5,95.4 1049.7,95.5 1050.0,95.7 1050.3,94.9 1050.5,93.9 1050.8,93.6 1051.3,94.2 1051.9,94.7 1052.4,95.2 1052.9,95.0 1053.5,94.7 1054.0,94.3 1054.4,94.7 1054.9,95.6 1055.4,95.9 1055.8,96.1 1056.3,96.6 1056.7,97.0 1057.2,97.5 1057.5,98.0 1057.8,98.2 1058.0,98.6 1058.3,99.0 1058.6,99.7 1058.9,100.3 1059.2,101.0 1059.5,101.9 1059.8,102.0 1060.1,102.4 1060.4,103.2 1060.8,102.9 1061.2,102.4 1061.6,101.6 1062.0,100.9 1062.4,100.3 1062.8,99.9" stroke-width="2.55"/>
<path d="M1062.8,99.9 1063.1,99.7 1063.4,99.2 1063.7,98.7 1064.0,98.3 1064.2,97.7 1064.5,97.2 1064.8,97.2 1065.1,97.0 1065.5,95.9 1065.9,95.0 1066.3,94.9 1066.7,94.8 1067.1,94.2 1067.5,93.6 1068.1,93.3 1068.7,93.3 1069.3,93.7 1069.9,93.8 1070.5,94.0 1071.1,94.2 1071.7,94.2 1072.3,94.5 1072.9,94.6 1073.5,94.2 1074.1,93.9 1074.7,94.6 1075.1,95.5 1075.5,96.0 1075.9,96.8 1076.3,97.5 1076.7,98.0 1077.1,97.9 1077.5,96.7 1077.9,96.6 1078.3,96.6 1078.7,96.4 1079.1,95.8 1079.5,94.8 1080.1,94.1 1080.7,94.1 1081.3,94.1 1081.9,93.7 1082.3,93.1 1082.7,93.0 1083.1,92.8 1083.5,92.5 1083.9,92.3 1084.3,91.9 1084.9,92.1 1085.5,92.0 1086.1,92.1 1086.7,92.4 1087.0,91.6 1087.3,91.2 1087.5,91.0 1087.8,90.4 1088.1,89.7 1088.4,89.4 1088.7,88.9 1089.0,88.6 1089.5,89.0 1090.0,88.9 1090.5,89.2 1091.0,89.8 1091.4,89.8 1091.8,90.2 1092.1,90.8 1092.5,91.2 1092.8,91.9 1093.1,92.4 1093.5,92.5 1093.8,92.7 1094.4,92.7 1094.9,93.0 1095.4,94.0 1095.5,93.9 1095.6,93.0 1095.8,92.0 1095.9,91.6 1096.0,91.5 1096.1,91.1 1096.2,90.7 1096.3,90.0 1096.4,89.3 1096.6,88.8 1096.7,88.4 1096.8,87.3 1096.9,86.5 1097.0,86.1 1097.2,85.6 1097.5,85.1 1097.7,84.8 1097.9,84.1 1098.1,83.6 1098.4,83.4 1098.6,82.5 1099.0,82.6 1099.4,82.7 1099.8,83.0 1100.2,83.9 1100.6,84.8 1101.0,85.0 1101.4,84.8 1101.8,85.0 1102.2,85.4 1102.6,85.7 1103.0,86.2 1103.4,87.0 1103.6,87.7 1103.8,88.7 1104.0,89.3 1104.2,89.3 1104.5,89.6 1104.7,90.0 1104.9,90.7 1105.1,91.2 1105.3,91.3 1105.6,91.6 1105.8,92.5 1106.4,92.4" stroke-width="2.55"/>
<path d="M1106.4,92.4 1107.0,92.0 1107.6,91.7 1108.2,91.6 1108.8,91.7 1109.4,91.6 1110.0,91.4 1110.5,91.7 1111.1,92.1 1111.7,91.9 1112.3,92.0 1112.9,92.3 1113.6,92.3 1114.2,92.6 1114.9,92.9 1115.5,93.2 1116.1,93.3 1116.8,92.5 1117.4,92.1 1118.0,92.7 1118.7,93.5 1119.3,93.5 1119.9,93.5 1120.6,93.8 1121.2,94.4 1121.9,94.8 1122.5,94.7 1123.0,94.0 1123.6,93.6 1124.1,93.3 1124.6,92.8 1125.2,91.9 1125.7,91.5 1126.3,92.3 1127.0,92.9 1127.6,92.5 1128.2,92.3 1128.9,92.9 1129.2,93.6 1129.6,93.9 1129.9,94.7 1130.2,95.4 1130.6,95.2 1130.9,95.2 1131.3,95.6 1131.7,95.6 1132.1,96.2 1132.5,97.1 1132.9,97.8 1133.3,97.1 1133.6,96.3 1134.0,95.8 1134.4,95.6 1134.8,95.7 1135.2,95.3 1135.9,95.1 1136.5,94.9 1137.2,95.0 1137.8,95.4 1138.4,95.4 1139.1,94.5 1139.7,94.1 1140.3,94.0 1141.0,93.8 1141.6,94.1 1141.8,93.7 1141.9,92.9 1142.0,92.4 1142.2,92.1 1142.3,91.5 1142.5,90.2 1142.6,89.1 1142.8,89.3 1142.9,89.4 1143.1,88.2 1143.2,87.3 1143.7,87.4 1144.3,87.2 1144.8,86.7 1145.1,87.3 1145.4,88.0 1145.7,88.7 1146.0,89.0 1146.3,89.3 1146.6,90.0 1146.9,90.4 1147.2,90.9 1147.5,90.7 1147.8,90.1 1148.1,89.3 1148.4,88.9 1148.7,88.7 1149.0,88.3 1149.3,87.4 1149.6,86.7 1149.7,86.5 1149.8,86.2 1149.9,85.8 1150.1,85.6 1150.2,84.7 1150.3,83.6 1150.4,83.3 1150.6,83.0 1150.7,82.2 1150.8,80.9 1150.9,80.3 1151.1,80.1 1151.2,79.5 1151.4,79.2 1151.6,79.5 1151.9,79.1 1152.1,78.1 1152.3,77.3 1152.5,76.8 1152.8,76.3 1153.0,75.4 1153.2,74.6 1153.5,74.2 1153.7,73.3 1153.9,72.6 1154.1,72.6" stroke-width="2.55"/>
<path d="M1154.1,72.6 1154.4,72.1 1154.6,72.7 1154.9,73.1 1155.2,72.9 1155.4,73.6 1155.7,75.0 1156.0,75.9 1156.2,76.2 1156.5,76.5 1156.8,77.4 1157.0,78.0 1157.3,77.9 1157.5,78.1 1157.8,78.7 1158.1,78.8 1158.3,78.7 1158.6,79.6 1158.9,80.9 1159.1,81.6 1159.6,81.2 1160.1,80.4 1160.6,79.7 1161.1,79.9 1161.5,79.8 1162.1,79.8 1162.7,80.2 1163.3,80.5 1163.9,80.5 1164.2,81.1 1164.5,82.0 1164.8,82.2 1165.1,82.6 1165.4,83.7 1165.7,84.2 1166.0,83.9 1166.3,84.1 1166.8,84.0 1167.3,84.2 1167.7,84.1 1168.2,83.8 1168.7,83.1 1168.9,83.1 1169.1,83.3 1169.3,84.0 1169.5,85.3 1169.7,86.4 1169.9,86.7 1170.1,86.8 1170.3,87.4 1170.5,88.3 1170.7,88.6 1170.9,88.6 1171.1,89.2 1171.3,88.8 1171.5,88.3 1171.7,88.0 1171.9,87.4 1172.1,86.6 1172.3,86.3 1172.5,86.2 1172.7,85.9 1172.9,85.1 1173.1,84.1 1173.3,83.1 1173.5,82.4 1174.0,82.9 1174.4,83.8 1174.9,84.3 1175.4,83.9 1175.9,84.2 1176.2,84.9 1176.6,85.6 1176.9,86.6 1177.2,87.3 1177.6,87.4 1177.9,87.4 1178.3,87.8 1178.6,88.6 1178.9,89.0 1179.2,89.5 1179.6,88.9 1180.1,88.3 1180.5,88.6 1181.0,88.7 1181.5,88.0 1181.7,88.2 1182.0,88.3 1182.3,88.7 1182.6,89.4 1182.9,90.1 1183.2,90.8 1183.5,91.0 1183.8,91.1 1184.2,90.8 1184.7,90.3 1185.1,89.6 1185.6,89.3 1186.0,89.0 1186.5,88.8 1187.0,88.8 1187.4,89.3 1187.9,89.9 1188.3,90.4 1188.5,89.9 1188.6,89.6 1188.7,89.3 1188.9,88.7 1189.0,87.8 1189.1,87.1 1189.3,86.6 1189.4,86.5 1189.5,85.4 1189.7,84.1 1189.8,83.8 1190.0,83.7 1190.1,83.5 1190.2,82.7 1190.4,81.9 1190.5,81.2 1190.6,80.3" stroke-width="2.55"/>
<path d="M1190.6,80.3 1190.8,81.1 1191.0,82.1 1191.3,82.9 1191.5,83.6 1191.7,83.9 1191.9,84.4 1192.1,84.8 1192.3,85.2 1192.5,86.0 1192.7,86.6 1192.9,87.3 1193.4,87.1 1193.8,87.0 1194.3,87.1 1194.8,86.5 1195.2,86.0 1195.4,85.4 1195.7,84.8 1195.9,84.2 1196.1,83.5 1196.4,83.0 1196.6,82.7 1196.8,82.1 1197.0,81.4 1197.3,80.7 1197.5,80.0 1197.9,79.5 1198.3,79.2 1198.6,78.9 1199.0,78.6 1199.4,78.3 1199.8,77.8 1200.1,78.0 1200.4,78.7 1200.7,79.3 1200.9,79.1 1201.2,79.2 1201.5,80.1 1201.8,80.8 1202.1,81.0 1202.7,80.5 1203.2,80.4 1203.8,80.8 1204.4,80.9 1205.0,80.4 1205.5,80.2 1206.1,81.1 1206.7,81.8 1207.1,81.0 1207.6,80.4 1208.0,80.1 1208.5,79.6 1209.0,79.5 1209.2,80.2 1209.4,80.7 1209.6,81.1 1209.8,81.6 1210.0,82.1 1210.2,82.7 1210.4,83.6 1210.6,84.2 1210.8,84.7 1211.0,85.5 1211.3,86.4 1211.8,86.7 1212.4,86.5 1213.0,85.8 1213.5,85.5 1213.7,86.1 1213.9,86.6 1214.1,87.4 1214.2,88.2 1214.4,88.7 1214.6,88.8 1214.8,89.4 1215.0,90.0 1215.1,90.7 1215.3,92.0 1215.5,93.1 1215.7,92.9 1215.8,92.4 1216.4,91.9 1217.0,92.0 1217.6,91.9 1218.1,91.5 1218.4,92.0 1218.6,92.8 1218.9,93.4 1219.1,94.4 1219.4,95.1 1219.7,94.8 1219.9,95.1 1220.2,96.0 1220.5,96.4 1220.8,96.9 1221.1,97.3 1221.4,97.5 1221.7,98.0 1221.9,98.4 1222.4,97.8 1222.9,97.3 1223.3,96.3 1223.8,95.8 1224.2,96.0 1224.6,95.9 1225.0,95.6 1225.4,95.6 1225.8,95.2 1226.1,94.6 1226.5,93.8 1227.1,94.0 1227.7,94.2 1228.3,93.9 1228.8,93.7 1229.4,93.8 1230.0,94.0 1230.5,94.2 1231.1,94.3 1231.6,95.2 1232.0,95.8" stroke-width="2.55"/>
<path d="M1232.0,95.8 1232.5,95.7 1232.9,95.9 1233.4,96.7 1233.6,97.5 1233.7,97.5 1233.9,97.4 1234.1,97.9 1234.2,99.2 1234.4,100.2 1234.6,100.7 1234.7,101.1 1234.9,101.4 1235.0,101.9 1235.2,102.4 1235.4,102.4 1235.5,103.1 1235.7,104.0 1235.8,104.5 1235.9,105.4 1236.0,106.3 1236.1,106.5 1236.2,106.8 1236.3,107.3 1236.4,107.8 1236.5,108.5 1236.6,109.1 1236.7,110.2 1236.7,111.2 1236.8,111.3 1236.9,111.6 1237.0,112.6 1237.1,113.3 1237.2,113.3 1237.6,113.5 1238.0,114.1 1238.4,115.0 1238.8,115.7 1239.1,115.8 1239.5,116.3 1239.7,117.2 1239.8,117.7 1239.9,117.9 1240.1,118.6 1240.2,119.5 1240.4,119.8 1240.5,120.1 1240.6,120.9 1240.8,121.9 1240.9,122.5 1241.0,122.7 1241.3,123.1 1241.5,123.8 1241.7,124.5 1241.9,125.2 1242.1,125.7 1242.3,125.8 1242.5,126.2 1242.7,126.8 1242.9,126.9 1243.1,127.0 1243.3,127.8 1243.9,128.4 1244.5,129.0 1245.1,129.4 1245.6,129.6 1245.8,128.8 1246.0,127.7 1246.3,127.2 1246.5,126.9 1246.7,126.6 1246.9,126.5 1247.1,126.0 1247.3,125.1 1247.5,124.5 1247.7,123.9 1247.9,123.4 1248.1,122.7 1248.3,122.0 1248.5,122.2 1248.6,122.0 1248.8,120.7 1249.0,120.1 1249.2,119.9 1249.3,119.3 1249.5,119.1 1249.7,118.6 1249.9,117.6 1250.0,117.0 1250.2,116.6 1250.8,116.2 1251.4,116.4 1251.9,116.7 1252.5,116.5 1252.8,116.5 1253.0,116.6 1253.3,117.2 1253.5,117.6 1253.8,117.8 1254.0,118.2 1254.3,118.6 1254.5,119.4 1254.8,120.2 1255.0,120.0 1255.2,119.4 1255.3,118.1 1255.5,117.0 1255.7,116.7 1255.9,116.9 1256.0,116.3 1256.2,115.6 1256.4,115.3 1256.6,115.0 1256.7,114.3 1256.9,113.2 1257.1,112.7 1257.7,113.0 1258.2,113.4 1258.8,113.3 1259.4,113.2 1259.8,113.9" stroke-width="2.55"/>
<path d="M1259.8,113.9 1260.1,114.1 1260.5,114.1 1260.9,114.3 1261.3,115.3 1261.7,116.6 1262.0,116.6 1262.2,116.2 1262.5,116.3 1262.8,116.9 1263.1,118.0 1263.4,118.9 1263.7,119.0 1264.0,119.2 1264.4,119.6 1264.9,120.1 1265.3,120.6 1265.8,120.6 1266.3,120.5 1266.5,121.2 1266.7,121.9 1266.9,122.4 1267.1,123.2 1267.3,123.8 1267.5,124.3 1267.7,125.2 1267.9,126.2 1268.1,126.5 1268.3,127.2 1268.5,128.2 1268.7,127.5 1268.8,126.7 1269.0,125.9 1269.1,125.1 1269.2,124.0 1269.4,123.1 1269.5,122.6 1269.7,122.5 1269.8,122.0 1269.9,120.9 1270.1,119.9 1270.2,119.9 1270.4,120.4 1270.5,119.4 1270.7,118.1 1270.8,117.9 1271.0,117.5 1271.1,116.9 1271.3,116.8 1271.5,116.2 1271.6,115.5 1272.1,116.0 1272.5,116.7 1273.0,117.5 1273.4,117.8 1273.9,118.2 1274.5,118.9 1275.0,118.9 1275.6,118.0 1276.2,117.9 1276.5,118.1 1276.8,118.2 1277.1,117.4 1277.4,116.6 1277.7,116.2 1277.9,116.8 1278.0,117.2 1278.1,117.5 1278.3,118.0 1278.4,119.1 1278.5,120.3 1278.7,121.0 1278.8,121.3 1278.9,121.1 1279.1,121.2 1279.2,122.7 1279.3,123.5 1279.5,123.4 1279.6,123.7 1279.7,124.4 1279.9,124.9 1280.0,125.6 1280.5,125.4 1280.9,124.7 1281.4,123.9 1281.8,123.3 1282.3,123.2 1282.6,124.1 1282.9,124.3 1283.2,124.1 1283.4,124.3 1283.7,125.1 1284.0,126.1 1284.3,127.1 1284.6,127.5 1285.2,127.2 1285.7,127.4 1286.3,127.7 1286.9,128.0 1287.3,128.5 1287.8,129.2 1288.3,129.6 1288.7,129.4 1289.2,130.2 1289.4,130.3 1289.6,130.0 1289.7,129.3 1289.9,128.3 1290.1,127.7 1290.3,127.2 1290.5,126.1 1290.7,125.2 1290.8,125.3 1291.0,125.4 1291.1,124.8 1291.3,123.7 1291.4,122.4 1291.5,121.6 1291.7,121.2 1291.8,120.7 1292.0,120.5" stroke-width="2.55"/>
<path d="M1292.0,120.5 1292.1,120.6 1292.2,120.3 1292.4,119.6 1292.6,118.6 1292.8,117.7 1293.0,116.9 1293.2,116.2 1293.4,115.9 1293.6,115.5 1293.8,115.0 1294.0,114.8 1294.3,114.6 1294.6,113.7 1294.9,113.0 1295.2,112.5 1295.5,111.7 1295.8,111.2 1296.1,110.8 1296.3,111.7 1296.6,112.4 1296.8,113.0 1297.1,113.6 1297.3,113.5 1297.6,113.2 1297.8,113.8 1298.1,114.8 1298.3,115.7 1298.8,116.0 1299.3,116.1 1299.7,116.5 1300.2,117.3 1300.6,118.2 1301.1,118.0 1301.6,117.4 1302.0,116.9 1302.5,116.4 1302.9,115.9 1303.4,116.0 1303.8,116.4 1304.3,116.5 1304.8,116.0 1305.2,115.5 1305.5,115.1 1305.7,114.0 1306.0,113.1 1306.2,112.9 1306.5,112.6 1306.7,112.0 1307.0,112.7 1307.3,113.3 1307.6,113.0 1307.9,113.1 1308.2,114.1 1308.5,114.7 1308.8,115.6 1309.0,116.8 1309.6,116.6 1310.2,115.6 1310.8,114.9 1311.3,114.5 1311.8,114.6 1312.2,115.3 1312.7,116.2 1313.2,116.4 1313.6,116.8 1314.2,116.4 1314.8,115.8 1315.3,116.2 1315.9,116.6 1316.2,117.4 1316.5,117.9 1316.8,117.8 1317.1,117.9 1317.4,118.3 1317.8,118.7 1318.2,119.2 1318.6,119.5 1319.0,119.7 1319.4,120.6 1319.7,121.8 1319.9,121.1 1320.1,120.4 1320.3,120.0 1320.4,119.4 1320.6,118.8 1320.8,118.3 1321.0,117.6 1321.1,117.6 1321.3,116.9 1321.5,115.8 1321.7,115.7 1321.8,115.3 1322.0,114.5 1322.3,113.9 1322.6,113.5 1322.9,113.6 1323.2,113.4 1323.5,112.1 1323.7,111.1 1324.0,111.0 1324.3,110.9 1324.6,111.0 1324.9,111.2 1325.2,111.8 1325.5,112.6 1325.7,113.4 1326.0,114.2 1326.3,114.8 1326.6,114.9 1327.2,114.4 1327.8,114.5 1328.3,114.7 1328.9,114.6 1329.4,113.7 1329.8,112.3 1330.3,111.7 1330.7,112.0 1331.2,112.2 1331.4,111.6 1331.7,111.1" stroke-width="2.55"/>
<path d="M1331.7,111.1 1332.0,110.6 1332.2,109.4 1332.5,108.9 1332.7,108.9 1333.0,108.0 1333.2,107.5 1333.5,107.5 1333.9,107.0 1334.4,106.6 1334.9,106.2 1335.3,105.4 1335.8,104.8 1336.2,105.1 1336.5,105.6 1336.9,106.7 1337.3,107.4 1337.7,107.7 1338.1,108.3 1338.6,108.2 1339.2,107.6 1339.8,107.7 1340.4,108.2 1340.7,108.3 1341.1,108.1 1341.5,107.4 1341.9,107.2 1342.3,106.8 1342.7,106.2 1343.1,105.7 1343.6,104.9 1344.0,103.9 1344.5,103.4 1344.9,103.2 1345.1,103.9 1345.3,104.2 1345.5,104.3 1345.6,105.2 1345.8,106.0 1346.0,106.5 1346.2,106.6 1346.4,107.0 1346.5,108.0 1346.7,109.3 1346.9,110.2 1347.1,110.5 1347.2,110.3 1347.4,109.2 1347.5,108.5 1347.7,108.5 1347.8,108.5 1348.0,107.4 1348.2,106.5 1348.3,106.8 1348.5,106.5 1348.6,105.8 1348.8,105.3 1349.1,104.5 1349.5,103.9 1349.9,103.5 1350.3,102.4 1350.7,102.1 1351.1,102.7 1351.4,103.2 1351.8,102.9 1352.2,103.1 1352.6,103.8 1353.0,104.8 1353.3,105.2 1353.9,105.2 1354.5,105.2 1355.1,104.8 1355.6,105.0 1356.0,105.3 1356.4,105.1 1356.8,104.4 1357.2,103.6 1357.5,103.2 1357.9,103.2 1358.4,103.0 1358.9,102.6 1359.5,101.9 1359.6,101.8 1359.7,101.7 1359.8,102.0 1360.0,103.0 1360.1,104.3 1360.2,105.1 1360.3,105.4 1360.5,105.9 1360.6,106.7 1360.7,107.1 1360.9,107.2 1361.0,107.9 1361.6,107.7 1362.1,106.8 1362.7,106.4 1363.3,106.8 1363.7,106.7 1364.2,106.6 1364.7,106.2 1365.1,105.8 1365.6,105.7 1366.1,105.2 1366.6,104.7 1367.1,104.5 1367.3,104.2 1367.6,104.1 1367.8,105.4 1368.0,106.7 1368.2,107.1 1368.5,107.5 1368.7,108.0 1368.9,108.1 1369.2,108.3 1369.4,109.0 1369.7,108.5 1370.0,108.0 1370.2,108.1 1370.5,108.0 1370.8,107.1" stroke-width="2.55"/>
<path d="M1370.8,107.1 1371.1,106.2 1371.4,105.8 1371.7,105.6 1372.3,106.0 1372.8,106.4 1373.4,106.4 1374.0,105.9 1374.3,105.3 1374.5,104.6 1374.8,103.9 1375.1,103.2 1375.4,102.4 1375.7,102.3 1376.0,102.2 1376.3,101.6 1376.5,101.1 1376.8,100.8 1377.0,100.1 1377.3,99.4 1377.5,99.1 1377.8,98.9 1378.1,99.7 1378.4,100.5 1378.7,100.9 1379.0,101.0" stroke-width="2.55"/>
</g>
<g font-family='"Liberation Sans", "DejaVu Sans", sans-serif' font-size="23.8" fill="#000">
<text x="176.2" y="230.1" text-anchor="middle">1997</text>
<text x="320.1" y="230.1" text-anchor="middle">2000</text>
<text x="464.1" y="230.1" text-anchor="middle">2002</text>
<text x="608.1" y="230.1" text-anchor="middle">2005</text>
<text x="753.1" y="230.1" text-anchor="middle">2007</text>
<text x="896.2" y="230.1" text-anchor="middle">2010</text>
<text x="1039.1" y="230.1" text-anchor="middle">2012</text>
<text x="1183.2" y="230.1" text-anchor="middle">2015</text>
<text x="1327.6" y="230.1" text-anchor="middle">2017</text>
<text x="77.6" y="38.8" text-anchor="end">1</text>
<text x="77.6" y="87.9" text-anchor="end">0.5</text>
<text x="77.6" y="137.0" text-anchor="end">0</text>
<text x="77.6" y="186.1" text-anchor="end">-0.5</text>
</g>
<g stroke="#262626" stroke-width="1" fill="none">
<rect x="87.5" y="272.4" width="1291.0" height="193.1"/>
<path d="M175.6 272.0v12.8M175.6 465.5v-12.8"/>
<path d="M319.5 272.0v12.8M319.5 465.5v-12.8"/>
<path d="M463.5 272.0v12.8M463.5 465.5v-12.8"/>
<path d="M607.5 272.0v12.8M607.5 465.5v-12.8"/>
<path d="M752.5 272.0v12.8M752.5 465.5v-12.8"/>
<path d="M895.6 272.0v12.8M895.6 465.5v-12.8"/>
<path d="M1038.5 272.0v12.8M1038.5 465.5v-12.8"/>
<path d="M1182.6 272.0v12.8M1182.6 465.5v-12.8"/>
<path d="M1327.0 272.0v12.8M1327.0 465.5v-12.8"/>
<path d="M87.5 282.4h12.8M1378.5 282.4h-12.8"/>
<path d="M87.5 319.2h12.8M1378.5 319.2h-12.8"/>
<path d="M87.5 356.0h12.8M1378.5 356.0h-12.8"/>
<path d="M87.5 392.5h12.8M1378.5 392.5h-12.8"/>
<path d="M87.5 429.2h12.8M1378.5 429.2h-12.8"/>
</g>
<g shape-rendering="auto">
<rect x="87.15" y="271.7" width="1.8" height="194.3" fill="#d2cdc9"/>
<rect x="91.9" y="271.7" width="3.0" height="194.3" fill="#d2cdc9"/>
<rect x="96.2" y="271.7" width="1.1" height="194.3" fill="#d2cdc9"/>
<rect x="98.2" y="271.7" width="1.5" height="194.3" fill="#d2cdc9"/>
<rect x="105.0" y="271.7" width="1.8" height="194.3" fill="#d2cdc9"/>
<rect x="115.9" y="271.7" width="16.9" height="194.3" fill="#d2cdc9"/>
<rect x="144.1" y="271.7" width="1.7" height="194.3" fill="#e6e3e1"/>
<rect x="341.3" y="271.7" width="8.0" height="194.3" fill="#d2cdc9"/>
<rect x="351.0" y="271.7" width="54.7" height="194.3" fill="#d2cdc9"/>
<rect x="416.0" y="271.7" width="17.1" height="194.3" fill="#d2cdc9"/>
<rect x="825.2" y="271.7" width="28.5" height="194.3" fill="#d2cdc9"/>
<rect x="172.1" y="271.7" width="64.7" height="194.3" fill="#83818e"/>
<rect x="642.0" y="271.7" width="5.9" height="194.3" fill="#83818e"/>
<rect x="647.9" y="271.7" width="3.7" height="194.3" fill="#b3b2bc"/>
<rect x="660.0" y="271.7" width="26.7" height="194.3" fill="#83818e"/>
<rect x="1013.0" y="271.7" width="1.6" height="194.3" fill="#b5b4c0"/>
<rect x="1097.0" y="271.7" width="2.9" height="194.3" fill="#9493a0"/>
<rect x="1150.7" y="271.7" width="16.9" height="194.3" fill="#83818e"/>
<rect x="1172.0" y="271.7" width="1.8" height="194.3" fill="#8f8e9b"/>
<rect x="1173.8" y="271.7" width="2.2" height="194.3" fill="#c4c3cc"/>
<rect x="1190.7" y="271.7" width="2.3" height="194.3" fill="#9c9ba7"/>
<rect x="1197.0" y="271.7" width="13.8" height="194.3" fill="#83818e"/>
</g>
<path d="M241.3 272.2V465.5" stroke="#97200a" stroke-width="3.3" stroke-dasharray="3.2 3.38" fill="none"/>
<path d="M247.9 272.2V465.5" stroke="#97200a" stroke-width="3.3" stroke-dasharray="3.2 3.38" fill="none"/>
<path d="M363.9 272.2V465.5" stroke="#97200a" stroke-width="3.3" stroke-dasharray="3.2 3.38" fill="none"/>
<path d="M388.0 272.2V465.5" stroke="#97200a" stroke-width="3.3" stroke-dasharray="3.2 3.38" fill="none"/>
<path d="M417.9 272.2V465.5" stroke="#97200a" stroke-width="3.3" stroke-dasharray="3.2 3.38" fill="none"/>
<path d="M478.6 272.2V465.5" stroke="#97200a" stroke-width="3.3" stroke-dasharray="3.2 3.38" fill="none"/>
<path d="M755.0 272.2V465.5" stroke="#97200a" stroke-width="3.3" stroke-dasharray="3.2 3.38" fill="none"/>
<path d="M782.3 272.2V465.5" stroke="#97200a" stroke-width="3.3" stroke-dasharray="3.2 3.38" fill="none"/>
<path d="M790.0 272.2V465.5" stroke="#97200a" stroke-width="3.3" stroke-dasharray="3.2 3.38" fill="none"/>
<path d="M807.0 272.2V465.5" stroke="#97200a" stroke-width="6.9" stroke-dasharray="3.2 3.38" fill="none"/>
<path d="M824.6 272.2V465.5" stroke="#97200a" stroke-width="6.4" stroke-dasharray="3.2 3.38" fill="none"/>
<path d="M832.0 272.2V465.5" stroke="#97200a" stroke-width="6.0" stroke-dasharray="3.2 3.38" fill="none"/>
<path d="M839.6 272.2V465.5" stroke="#97200a" stroke-width="3.0" stroke-dasharray="3.2 3.38" fill="none"/>
<path d="M846.4 272.2V465.5" stroke="#97200a" stroke-width="5.8" stroke-dasharray="3.2 3.38" fill="none"/>
<path d="M915.7 272.2V465.5" stroke="#97200a" stroke-width="5.8" stroke-dasharray="3.2 3.38" fill="none"/>
<path d="M930.1 272.2V465.5" stroke="#97200a" stroke-width="3.3" stroke-dasharray="3.2 3.38" fill="none"/>
<path d="M984.8 272.2V465.5" stroke="#97200a" stroke-width="4.2" stroke-dasharray="3.2 3.38" fill="none"/>
<path d="M993.1 272.2V465.5" stroke="#97200a" stroke-width="3.3" stroke-dasharray="3.2 3.38" fill="none"/>
<path d="M1003.0 272.2V465.5" stroke="#97200a" stroke-width="3.3" stroke-dasharray="3.2 3.38" fill="none"/>
<path d="M1240.3 272.2V465.5" stroke="#97200a" stroke-width="3.3" stroke-dasharray="3.2 3.38" fill="none"/>
<path d="M1246.0 272.2V465.5" stroke="#97200a" stroke-width="3.3" stroke-dasharray="3.2 3.38" fill="none"/>
<path d="M1360.4 272.2V465.5" stroke="#97200a" stroke-width="3.3" stroke-dasharray="3.2 3.38" fill="none"/>
<g stroke="#000" fill="none" stroke-linejoin="round" stroke-linecap="round" clip-path="url(#c1)">
<path d="M86.4,348.0 86.8,347.2 87.2,346.3 87.5,346.0 87.9,345.5 88.3,345.0 88.6,344.8 89.3,345.2 90.1,345.4 90.3,346.2 90.5,346.7 90.7,346.8 90.9,347.3 91.1,348.3 91.3,349.0 91.5,349.3 91.7,349.7 92.0,350.3 92.2,350.0 92.4,349.5 92.6,348.9 92.8,348.7 93.0,348.3 93.3,347.7 93.5,347.0 93.7,346.1 94.0,345.4 94.3,344.7 94.6,344.3 94.8,343.9 95.1,343.1 95.7,342.7 96.2,342.2 96.8,341.8 97.3,341.6 97.9,342.0 98.4,342.3 98.9,343.1 99.5,343.9 99.8,344.2 100.2,344.3 100.6,344.6 100.9,345.4 101.1,345.3 101.4,344.6 101.6,343.8 101.8,343.7 102.0,343.5 102.2,342.8 102.5,342.2 102.7,341.5 102.9,340.7 103.1,340.0 103.6,339.8 104.2,339.7 104.7,339.6 105.3,339.4 105.8,339.8 106.2,340.2 106.7,340.6 106.9,339.9 107.0,339.6 107.2,339.0 107.4,338.2 107.5,337.7 107.7,337.2 107.8,337.0 108.0,336.7 108.2,335.9 108.7,334.7 109.3,334.0 109.8,334.0 110.3,334.0 110.6,333.6 110.9,332.7 111.2,331.6 111.5,331.3 111.8,331.2 112.5,331.3 113.2,331.2 114.0,331.0 114.4,331.4 114.8,331.9 115.3,332.5 115.7,332.9 116.1,333.1 116.3,333.6 116.6,334.2 116.8,335.0 117.0,335.7 117.2,336.2 117.4,336.4 117.6,336.6 117.9,337.1 118.2,337.9 118.5,338.4 118.8,338.8 119.1,339.3 119.4,339.8 119.8,340.5 119.8,341.1 119.9,341.9 120.0,342.5 120.1,342.8 120.1,343.1 120.2,343.9 120.3,344.6 120.4,344.9 120.5,345.4 120.5,346.0 120.6,346.5 120.7,347.4 120.8,348.1 120.8,348.5 120.9,348.9 121.1,349.4 121.2,349.9 121.4,350.6 121.5,351.6 121.6,352.2 121.8,352.5" stroke-width="2.75"/>
<path d="M121.8,352.5 121.9,353.1 122.1,354.2 122.2,354.8 122.4,354.8 122.5,354.6 122.6,354.4 122.7,353.4 122.8,352.5 122.9,352.2 123.0,351.5 123.1,350.6 123.3,350.1 123.4,350.0 123.5,349.5 123.6,348.8 123.7,348.1 123.8,347.5 124.3,347.4 124.8,347.2 125.3,346.7 125.8,346.6 126.3,346.5 127.0,346.6 127.7,346.5 128.4,346.3 128.8,345.8 129.1,345.4 129.4,344.9 129.7,344.3 130.0,343.3 130.3,342.6 130.6,342.8 131.3,343.0 132.1,342.3 132.4,341.3 132.6,340.6 132.9,340.1 133.2,339.4 133.5,338.6 134.1,338.7 134.6,339.0 135.1,339.4 135.7,339.7 136.1,340.1 136.6,340.6 137.0,341.0 137.4,341.6 137.7,341.0 138.1,339.9 138.4,339.4 138.7,339.7 139.0,339.5 139.3,338.5 139.6,337.6 139.9,337.3 140.1,336.9 140.4,336.3 140.7,335.6 140.9,334.8 141.2,334.1 141.5,333.9 142.2,333.9 142.9,333.6 143.2,333.7 143.4,334.1 143.7,334.8 143.9,335.4 144.2,335.9 144.4,336.4 144.7,337.1 144.9,336.8 145.2,336.5 145.5,335.9 145.7,334.8 146.0,333.9 146.3,333.7 146.5,333.5 146.9,333.1 147.3,332.5 147.6,331.9 148.0,331.3 148.4,331.0 148.7,330.5 149.3,329.8 149.8,329.1 150.4,328.9 150.9,328.9 151.4,329.6 152.0,330.2 152.5,330.1 153.1,330.0 153.6,330.0 154.2,329.4 154.7,328.9 155.2,329.0 155.8,329.4 156.3,329.7 156.9,330.2 157.4,330.7 157.9,330.3 158.4,329.9 158.9,329.3 159.0,329.4 159.2,329.9 159.4,330.9 159.6,331.2 159.8,331.3 159.9,331.8 160.1,332.5 160.3,333.2 160.5,333.9 160.6,334.8 160.7,335.5 160.9,335.5 161.0,335.6 161.2,336.1 161.3,336.7 161.5,337.4 161.6,338.3 161.8,338.9" stroke-width="2.76"/>
<path d="M161.8,338.9 162.3,339.0 162.8,339.1 163.4,339.0 163.9,339.4 164.4,340.2 164.9,340.6 165.3,341.0 165.8,341.4 165.9,340.4 165.9,339.7 166.0,339.0 166.0,338.4 166.1,338.6 166.2,338.0 166.2,337.3 166.3,337.2 166.3,336.6 166.4,335.7 166.5,335.0 166.5,334.2 166.6,333.7 166.6,333.3 166.7,332.9 166.8,332.4 166.8,332.1 167.2,331.5 167.5,330.9 167.9,330.3 168.3,329.7 168.6,329.6 169.0,329.4 169.2,328.8 169.4,328.0 169.5,327.0 169.7,326.1 169.9,325.8 170.1,325.7 170.3,325.3 170.4,324.7 170.6,323.9 170.8,323.2 171.0,322.9 171.2,322.6 171.4,321.9 171.7,321.3 172.0,320.7 172.3,320.0 172.5,319.3 172.8,318.9 173.1,318.5 173.3,318.0 174.1,318.4 174.8,318.6 175.0,318.0 175.2,317.6 175.3,317.2 175.5,316.7 175.7,315.9 175.9,315.7 176.1,315.3 176.2,314.1 176.4,313.3 176.6,312.9 176.8,312.7 177.0,312.6 177.3,311.8 177.7,311.0 178.0,310.5 178.4,310.1 178.7,309.7 179.0,309.3 179.3,308.6 179.6,308.1 179.9,307.9 180.0,307.2 180.2,306.3 180.3,305.4 180.5,304.5 180.7,303.9 180.8,303.5 181.0,303.0 181.1,302.5 181.3,301.9 181.5,302.8 181.6,303.4 181.7,303.8 181.9,304.5 182.0,305.1 182.2,305.7 182.3,306.3 182.5,306.7 182.6,306.9 182.8,307.6 182.9,308.4 183.0,308.5 183.2,308.4 183.4,307.6 183.6,307.0 183.8,306.6 184.0,306.8 184.2,306.7 184.3,306.0 184.5,305.3 184.7,304.8 184.9,304.2 185.1,303.6 185.2,303.1 185.4,302.5 185.6,301.8 185.7,301.6 185.9,301.2 186.1,300.4 186.2,299.8 186.4,299.0 186.6,298.4 186.7,298.0 186.9,297.4 187.1,296.7 187.3,296.1 187.5,295.8" stroke-width="2.76"/>
<path d="M187.5,295.8 187.6,295.3 187.8,294.4 188.0,294.1 188.2,293.8 188.4,293.4 188.5,292.5 188.8,291.5 189.0,291.4 189.2,291.3 189.4,290.6 189.6,290.1 189.9,289.7 190.1,289.3 190.3,289.1 190.5,288.7 190.7,288.1 191.3,287.0 191.8,286.4 192.3,286.5 192.9,286.4 193.0,286.6 193.1,286.8 193.2,287.6 193.3,288.5 193.4,289.0 193.5,289.5 193.6,290.0 193.7,290.4 193.8,290.9 193.9,291.7 193.9,292.7 194.0,293.2 194.0,293.5 194.1,294.0 194.1,294.5 194.2,294.9 194.2,295.7 194.2,296.7 194.3,297.2 194.3,297.4 194.4,297.9 194.4,298.8 194.4,299.4 194.5,299.7 194.5,299.9 194.6,300.1 194.6,300.8 194.7,302.0 194.7,302.7 194.7,303.3 194.8,304.2 194.9,303.7 195.0,302.3 195.2,300.9 195.3,300.4 195.4,300.4 195.6,300.4 195.7,299.5 195.8,298.5 196.0,298.3 196.1,298.3 196.2,297.4 196.4,296.8 196.5,296.7 196.7,297.0 196.9,297.3 197.1,298.0 197.3,298.5 197.5,299.1 197.7,300.0 197.9,300.7 198.1,301.1 198.3,301.5 198.4,301.0 198.5,300.4 198.6,299.9 198.7,299.6 198.8,299.2 199.0,298.7 199.1,297.6 199.2,296.4 199.3,296.1 199.4,296.0 199.5,295.5 199.7,294.7 199.8,294.2 199.9,293.8 200.0,293.4 200.1,292.9 200.3,293.4 200.4,294.0 200.6,294.5 200.8,294.8 200.9,295.4 201.1,295.7 201.2,296.2 201.4,297.0 201.5,297.4 201.7,297.8 201.9,298.3 202.0,299.0 202.6,299.6 203.2,299.9 203.8,299.9 203.9,299.3 204.1,299.1 204.2,298.8 204.4,298.0 204.6,297.1 204.7,296.6 204.9,296.0 205.0,295.5 205.2,295.2 205.3,295.4 205.3,295.5 205.4,295.7 205.5,296.4 205.5,297.4 205.6,298.0 205.7,298.6" stroke-width="2.76"/>
<path d="M205.7,298.6 205.8,298.9 205.8,299.5 205.9,300.6 206.0,301.4 206.0,301.9 206.1,302.6 206.2,303.3 206.2,303.4 206.3,303.5 206.4,304.1 206.4,304.8 206.5,305.3 206.6,305.7 206.7,305.9 206.8,305.5 207.0,305.1 207.2,304.1 207.4,303.7 207.6,303.4 207.8,302.8 208.0,302.4 208.2,301.9 208.4,301.4 208.6,301.0 208.8,300.5 209.0,299.9 209.1,299.4 209.2,298.9 209.4,298.7 209.5,298.4 209.6,297.6 209.8,296.7 209.9,296.0 210.0,295.6 210.2,294.9 210.3,294.4 210.5,294.1 210.6,293.8 210.7,293.5 210.9,292.9 211.0,292.0 211.3,291.6 211.6,291.5 211.9,290.9 212.2,290.3 212.5,289.7 212.9,288.9 213.2,288.5 213.5,288.4 213.8,287.7 214.1,286.7 214.4,286.1 214.7,285.7 215.0,285.1 215.3,284.6 215.5,284.2 215.7,283.4 215.9,282.6 216.1,282.4 216.3,281.9 216.5,281.0 216.7,280.6 216.9,280.2 217.1,279.2 217.3,278.6 217.5,278.7 217.7,278.8 217.9,278.1 218.1,277.1 218.2,276.3 218.4,275.9 218.6,275.5 218.8,274.8 219.0,274.4 219.5,274.4 220.0,274.1 220.6,273.7 221.1,273.1 221.3,273.7 221.5,274.5 221.6,275.0 221.8,275.7 221.9,276.0 222.1,276.6 222.3,277.9 222.4,278.3 222.6,278.1 222.8,278.3 223.0,278.9 223.2,279.7 223.4,280.4 223.6,281.2 223.8,281.8 224.0,282.1 224.5,281.5 224.9,281.0 225.3,280.4 225.8,280.1 226.2,280.0 226.3,280.4 226.5,280.5 226.6,280.9 226.8,281.9 226.9,282.8 227.1,283.4 227.2,284.0 227.4,284.3 227.5,284.4 227.7,284.7 227.8,285.4 227.9,286.4 228.0,287.3 228.1,288.1 228.3,288.5 228.4,289.1 228.5,289.7 228.6,290.0 228.7,290.5 228.9,291.0 229.0,291.3" stroke-width="2.77"/>
<path d="M229.0,291.3 229.1,291.8 229.5,292.2 229.8,292.5 230.2,293.0 230.5,293.8 230.6,294.7 230.7,295.1 230.7,295.6 230.8,296.6 230.9,297.4 231.0,298.0 231.0,298.4 231.1,298.4 231.2,298.6 231.2,299.5 231.3,300.5 231.4,301.0 231.4,301.6 231.5,302.2 231.6,302.5 231.7,302.0 231.9,301.8 232.1,301.4 232.2,300.9 232.4,300.4 232.6,299.8 232.8,299.2 232.9,298.5 233.1,297.6 233.3,297.1 233.4,297.0 234.2,297.0 234.9,296.9 235.6,297.0 235.8,297.6 235.9,298.1 236.0,298.6 236.2,299.1 236.3,299.8 236.5,300.8 236.6,301.3 236.8,301.6 236.9,302.1 237.1,302.7 237.1,303.1 237.2,303.3 237.2,303.8 237.3,304.7 237.3,305.7 237.4,306.6 237.4,307.4 237.5,308.0 237.5,308.3 237.6,308.5 237.6,309.0 237.7,309.8 237.7,310.3 237.8,310.5 237.8,310.9 237.9,311.3 237.9,311.6 238.0,312.3 238.0,313.3 238.1,314.1 238.1,314.6 238.2,315.3 238.2,316.0 238.3,316.3 238.4,316.6 238.5,317.0 238.5,317.9 238.6,318.8 238.7,319.3 238.8,319.7 238.9,320.3 238.9,321.0 239.0,321.5 239.1,322.1 239.2,322.7 239.3,323.1 239.3,323.3 239.4,324.1 239.5,325.6 239.6,326.0 239.7,325.9 240.0,325.5 240.2,325.3 240.5,324.8 240.8,324.0 241.1,323.3 241.4,322.8 241.5,323.5 241.5,324.1 241.5,324.6 241.6,325.3 241.6,326.2 241.7,326.7 241.7,326.7 241.8,327.1 241.8,327.9 241.9,328.8 241.9,329.5 241.9,330.0 242.0,330.3 242.0,330.6 242.1,331.2 242.1,332.1 242.2,332.4 242.2,332.5 242.3,333.0 242.3,333.5 242.3,334.4 242.4,335.4 242.4,336.1 242.5,336.8 242.5,337.2 242.6,337.7 242.6,338.2 242.6,338.3 242.7,338.7" stroke-width="2.77"/>
<path d="M242.7,338.7 242.7,339.6 242.7,340.3 242.8,340.6 242.8,341.1 242.8,341.8 242.9,342.5 242.9,343.0 243.0,343.7 243.0,344.5 243.0,345.1 243.1,346.0 243.1,346.6 243.1,346.5 243.2,346.5 243.2,347.1 243.2,347.8 243.3,348.0 243.3,348.1 243.3,348.9 243.4,350.1 243.4,350.8 243.4,350.9 243.5,351.4 243.5,352.1 243.5,352.8 243.6,353.5 243.7,353.0 243.8,352.3 243.9,351.9 244.1,351.6 244.2,351.1 244.3,350.5 244.4,349.8 244.5,349.1 244.7,348.3 244.8,347.6 244.9,347.2 245.0,346.8 245.1,346.5 245.3,346.1 245.4,345.1 245.5,344.5 245.6,344.6 245.8,343.8 245.9,342.8 246.0,342.5 246.1,341.9 246.2,340.9 246.4,340.6 246.5,340.5 246.6,341.3 246.7,341.9 246.8,342.4 246.9,343.0 247.0,343.3 247.1,343.5 247.2,344.2 247.3,344.8 247.4,345.3 247.5,346.0 247.5,346.5 247.6,347.1 247.6,348.1 247.7,348.6 247.7,348.5 247.7,349.1 247.8,349.9 247.8,350.6 247.9,351.1 247.9,351.4 248.0,352.2 248.0,353.0 248.0,353.6 248.1,354.1 248.1,354.5 248.2,355.1 248.2,355.7 248.3,356.2 248.3,356.8 248.3,357.6 248.4,358.0 248.4,358.1 248.5,358.7 248.5,359.4 248.6,359.9 248.6,360.6 248.6,361.6 248.7,362.2 248.7,362.6 248.8,362.7 248.8,363.0 248.9,363.7 248.9,364.7 248.9,365.6 249.0,365.0 249.1,364.2 249.1,363.4 249.2,362.6 249.3,362.2 249.3,361.8 249.4,361.3 249.4,360.5 249.5,359.6 249.6,359.0 249.6,358.7 249.7,358.4 249.8,357.9 249.8,357.1 249.9,356.4 249.9,356.0 250.0,355.6 250.1,354.9 250.1,354.3 250.2,353.8 250.3,353.3 250.3,352.6 250.4,352.0 250.4,351.7 250.5,351.3 250.5,350.9" stroke-width="2.77"/>
<path d="M250.5,350.9 250.6,350.3 250.6,349.3 250.7,348.5 250.7,348.4 250.8,348.2 250.8,347.0 250.9,346.1 250.9,345.9 251.0,345.7 251.0,345.1 251.1,344.2 251.1,343.8 251.2,343.6 251.2,343.3 251.3,343.0 251.3,342.2 251.4,341.3 251.4,340.6 251.5,339.8 251.5,339.1 251.6,338.8 251.6,338.2 251.7,337.3 251.7,336.8 251.8,336.5 251.8,336.1 251.9,335.5 252.0,335.0 252.1,334.6 252.3,333.9 252.4,333.2 252.5,333.1 252.6,332.7 252.7,331.8 252.8,331.3 252.9,330.6 253.0,329.8 253.1,329.4 253.2,329.0 253.3,328.5 253.4,327.9 253.5,327.2 253.6,326.4 253.7,325.7 254.0,326.2 254.3,327.0 254.6,327.9 255.0,328.2 255.3,328.3 255.6,329.0 255.9,329.1 256.5,329.0 257.0,329.6 257.6,330.0 257.7,330.7 257.8,331.0 257.9,331.5 258.0,332.3 258.2,332.7 258.3,333.4 258.4,334.3 258.5,335.1 258.6,335.6 258.7,335.9 258.8,336.5 258.9,337.4 259.0,337.9 259.1,338.5 259.2,339.0 259.3,339.7 259.4,340.1 259.5,340.3 259.7,339.9 259.8,339.7 260.0,339.0 260.1,338.3 260.3,337.7 260.5,336.9 260.6,336.4 260.8,336.1 260.9,335.7 261.1,335.4 261.2,334.7 261.4,333.7 261.5,333.2 261.7,332.6 261.8,332.1 262.0,331.7 262.1,331.3 262.3,331.1 262.4,330.4 262.6,329.4 262.7,328.9 262.8,328.2 263.0,327.6 263.1,327.5 263.3,328.5 263.4,328.8 263.6,329.3 263.7,329.9 263.9,330.5 264.0,331.3 264.1,332.1 264.3,332.1 264.4,332.2 264.6,333.0 264.8,334.0 265.0,334.5 265.2,334.6 265.4,335.1 265.6,335.9 265.8,336.6 266.0,337.0 266.2,337.2 266.4,337.8 266.6,338.7 266.8,339.3 266.9,339.8 267.0,340.4 267.2,340.9" stroke-width="2.77"/>
<path d="M267.2,340.9 267.3,341.3 267.5,341.6 267.6,341.7 267.8,342.4 267.9,343.2 268.1,343.8 268.2,344.4 268.3,345.0 268.5,345.5 268.6,346.1 268.8,346.7 268.9,346.8 269.1,347.4 269.2,348.6 269.4,349.0 269.5,349.0 269.6,349.8 269.8,350.9 269.9,351.5 270.1,352.0 270.7,351.8 271.2,351.9 271.8,352.0 272.5,351.9 273.3,351.9 274.0,352.1 274.1,352.8 274.3,353.1 274.4,353.6 274.6,354.3 274.7,354.9 274.9,355.7 275.0,356.5 275.2,357.1 275.3,357.0 275.4,357.2 276.0,357.3 276.5,357.5 277.1,357.2 277.6,356.7 277.7,355.9 277.7,355.7 277.8,355.2 277.9,354.3 277.9,353.7 278.0,353.4 278.1,353.3 278.1,353.0 278.2,352.6 278.3,351.7 278.3,350.5 278.4,350.0 278.5,350.1 278.5,349.8 278.6,348.9 278.7,348.0 278.7,347.0 278.8,346.1 278.9,345.8 278.9,345.6 279.0,345.1 279.1,344.6 279.2,344.1 279.4,343.9 279.6,343.6 279.7,343.0 279.9,342.4 280.1,341.4 280.2,340.7 280.4,340.3 280.6,339.9 280.7,339.4 280.9,338.8 281.1,338.4 281.2,338.1 281.6,337.7 282.0,336.7 282.3,336.0 282.7,335.3 283.0,334.6 283.4,334.6 283.7,335.3 284.1,335.4 284.4,335.4 284.7,335.9 285.1,337.0 285.6,337.2 286.2,336.8 286.8,335.9 287.4,335.3 288.0,335.0 288.5,334.7 289.1,334.8 289.6,335.3 290.1,335.3 290.3,334.7 290.5,334.2 290.7,333.5 290.9,332.7 291.0,332.0 291.2,331.5 291.4,330.9 291.6,330.3 292.3,330.3 293.0,330.4 293.8,330.3 293.9,330.6 294.0,331.2 294.2,331.6 294.3,332.1 294.5,333.4 294.6,334.7 294.8,335.5 294.9,335.7 295.1,335.8 295.2,336.5 295.4,336.9 295.5,337.0 295.7,337.8 295.9,338.6" stroke-width="2.77"/>
<path d="M295.9,338.6 296.1,339.0 296.2,339.5 296.4,340.2 296.6,340.8 296.7,341.0 296.9,341.4 297.1,342.0 297.7,341.8 298.2,341.8 298.8,342.2 299.1,342.9 299.4,343.3 299.6,343.7 299.9,344.1 300.2,344.6 300.5,345.3 300.7,346.0 301.0,346.7 301.5,346.9 302.1,347.3 302.6,347.8 303.2,347.5 303.3,347.9 303.4,348.8 303.5,349.2 303.7,349.4 303.8,350.1 303.9,351.0 304.0,351.7 304.1,352.3 304.3,352.9 304.4,353.5 304.5,353.8 304.6,354.3 305.2,354.5 305.7,354.5 306.2,355.1 306.8,355.9 307.0,356.7 307.1,357.1 307.3,357.3 307.4,357.6 307.6,358.5 307.8,359.3 307.9,359.7 308.1,360.2 308.2,360.8 308.5,360.3 308.7,359.5 308.9,358.7 309.2,358.7 309.4,358.7 309.7,357.9 309.9,357.0 310.1,356.4 310.4,356.0 310.6,355.5 310.9,355.0 311.1,354.5 311.4,353.8 311.6,353.3 311.8,353.0 312.1,352.3 312.3,351.6 312.6,351.3 312.8,351.7 313.0,352.1 313.2,352.6 313.5,353.2 313.7,353.8 313.9,354.4 314.1,355.3 314.3,356.0 314.5,356.2 314.8,356.5 315.1,357.0 315.4,357.6 315.7,358.3 316.0,358.6 316.3,358.8 316.6,359.2 316.9,359.8 317.4,359.7 317.8,359.3 318.2,358.4 318.7,357.8 319.1,357.3 319.3,357.0 319.5,357.0 319.7,356.8 319.9,356.2 320.1,355.4 320.3,354.9 320.6,354.2 321.1,353.7 321.7,353.4 322.3,353.0 322.4,353.7 322.5,354.4 322.6,354.9 322.8,355.5 322.9,356.4 323.0,357.0 323.1,357.5 323.2,358.1 323.3,358.6 323.5,359.1 323.6,359.5 323.7,359.8 323.8,360.6 323.9,361.6 324.1,361.9 324.2,362.3 324.4,363.1 324.7,363.4 325.0,363.5 325.3,364.1 325.5,364.9 325.8,365.3 326.1,365.9" stroke-width="2.78"/>
<path d="M326.1,365.9 326.3,366.7 326.6,367.3 326.9,367.7 327.2,368.3 327.4,369.4 327.7,370.0 328.0,370.1 328.2,370.8 328.5,371.7 329.2,371.4 330.0,370.9 330.7,370.7 330.8,370.1 330.9,369.4 331.0,369.0 331.1,368.6 331.2,368.2 331.4,367.8 331.5,367.2 331.6,366.5 331.7,366.2 331.8,365.6 331.9,365.1 332.0,364.7 332.1,364.0 332.3,363.4 332.5,362.9 332.7,362.7 332.9,362.6 333.1,361.9 333.3,361.2 333.5,360.5 333.7,359.9 333.9,359.3 334.1,358.5 334.3,357.6 334.4,358.3 334.6,358.9 334.7,359.3 334.8,360.0 335.0,360.7 335.1,361.3 335.2,362.1 335.4,363.0 335.5,363.3 335.7,363.6 335.8,364.5 335.9,364.8 336.1,365.0 336.2,365.6 336.3,365.5 336.4,365.2 336.6,364.1 336.7,363.1 336.8,362.8 336.9,362.9 337.1,362.5 337.2,361.5 337.3,360.9 337.4,360.3 337.6,359.7 337.7,359.4 337.8,358.8 337.9,358.0 338.5,357.8 339.0,357.7 339.6,357.4 340.1,357.2 340.8,356.7 341.5,356.2 341.7,356.8 341.8,357.5 342.0,358.1 342.1,358.4 342.3,359.1 342.4,360.4 342.6,361.2 342.7,361.7 342.9,362.3 343.0,362.6 343.2,361.9 343.4,361.1 343.6,360.2 343.9,359.8 344.1,359.8 344.3,359.2 344.5,358.5 344.7,358.4 345.0,358.2 345.2,357.5 345.4,357.7 345.5,358.1 345.7,358.8 345.9,359.5 346.1,360.0 346.3,360.6 346.4,361.2 346.6,361.4 346.8,361.7 347.0,362.9 347.2,363.7 347.3,363.6 347.5,362.8 347.7,362.6 347.9,362.0 348.1,361.5 348.3,361.1 348.5,360.5 348.7,359.9 348.9,359.5 349.1,359.3 349.3,358.8 349.5,357.9 349.6,358.6 349.8,359.3 349.9,360.0 350.0,360.6 350.2,360.9 350.3,361.3 350.5,361.8" stroke-width="2.78"/>
<path d="M350.5,361.8 350.6,362.3 350.7,363.1 350.9,364.0 351.0,364.5 351.1,364.7 351.3,365.3 351.9,365.7 352.5,365.8 353.1,365.9 353.3,365.4 353.5,365.0 353.7,364.5 353.9,363.7 354.0,363.2 354.2,362.9 354.4,362.3 354.6,361.6 354.8,361.0 354.9,360.5 355.1,359.9 355.3,359.3 355.7,359.2 356.2,359.1 356.6,358.1 357.0,357.1 357.5,356.7 357.8,356.4 358.2,356.3 358.6,356.4 358.9,355.9 359.3,354.7 359.7,353.7 360.0,354.4 360.3,355.0 360.6,355.4 360.9,356.1 361.2,356.8 361.5,357.4 361.8,358.1 362.0,358.7 362.1,359.1 362.3,359.8 362.4,360.4 362.5,361.0 362.7,361.6 362.8,362.1 363.0,362.7 363.1,363.6 363.3,364.2 363.4,364.6 363.6,365.0 363.8,365.4 363.9,365.9 364.1,366.6 364.3,367.0 364.4,367.6 364.6,368.2 364.8,368.8 364.9,369.4 365.1,369.8 365.3,369.9 365.4,370.3 365.8,370.2 366.2,369.7 366.5,369.0 366.9,368.8 367.0,368.6 367.2,367.8 367.3,367.0 367.4,366.5 367.6,366.2 367.7,365.2 367.8,364.5 368.0,364.6 368.1,364.0 368.2,363.5 368.4,363.1 368.5,362.3 368.6,361.6 368.9,362.2 369.2,362.9 369.4,363.2 369.7,363.8 370.0,364.4 370.2,364.7 370.5,365.3 370.7,366.1 370.9,366.6 371.1,366.8 371.4,367.1 371.6,367.7 371.8,368.8 372.0,369.2 372.2,369.1 372.4,369.9 372.5,370.2 372.6,370.2 372.8,369.5 372.9,368.7 373.0,367.8 373.1,367.0 373.3,366.2 373.4,365.4 373.5,364.8 373.6,364.8 373.8,364.7 373.9,363.9 374.0,363.0 374.1,362.1 374.3,362.5 374.5,363.3 374.7,363.9 374.9,364.3 375.0,364.8 375.2,365.2 375.4,365.8 375.6,366.7 375.7,366.6 375.8,366.2 375.9,365.6" stroke-width="2.78"/>
<path d="M375.9,365.6 375.9,364.8 376.0,364.0 376.1,363.3 376.2,362.7 376.3,362.6 376.4,362.0 376.5,360.8 376.6,360.1 376.7,359.9 376.8,359.5 376.9,358.8 377.0,358.1 377.0,357.4 377.1,357.1 377.2,356.9 377.3,356.1 377.6,356.0 377.9,356.4 378.3,356.7 378.6,357.3 378.9,358.0 379.2,358.1 379.5,357.3 379.7,357.5 380.0,357.7 380.3,357.1 380.6,356.3 380.8,355.4 381.1,354.2 381.4,353.8 381.7,353.9 382.0,353.6 382.3,353.3 382.6,352.7 382.9,352.0 383.2,351.7 383.5,351.3 384.3,350.8 385.0,350.0 385.2,350.4 385.4,351.0 385.6,351.6 385.9,352.0 386.1,352.2 386.3,352.7 386.5,353.6 386.7,354.5 387.0,354.5 387.2,354.2 387.3,355.0 387.4,356.4 387.5,356.9 387.6,357.4 387.7,358.1 387.8,358.5 387.9,358.8 388.1,359.6 388.2,360.3 388.3,360.7 388.4,361.3 388.5,361.8 388.6,362.4 388.8,363.2 388.9,363.6 389.1,364.1 389.3,364.4 389.4,364.6 389.6,365.6 389.7,366.5 389.9,367.0 390.1,367.5 390.5,367.9 390.9,368.2 391.4,368.6 391.8,368.8 392.2,368.9 392.4,368.3 392.6,367.9 392.7,367.7 392.9,367.3 393.1,366.7 393.2,366.3 393.4,365.9 393.6,365.1 393.7,364.5 393.9,364.2 394.1,363.6 394.2,362.7 394.4,362.1 394.6,361.6 394.7,360.3 394.8,359.3 395.0,359.2 395.1,359.2 395.3,358.9 395.4,358.4 395.6,357.9 395.7,357.7 395.9,357.3 396.0,356.3 396.2,355.3 396.4,354.7 396.6,354.1 396.8,353.4 396.9,352.9 397.1,352.6 397.3,352.3 397.5,351.5 397.7,350.5 397.8,349.8 398.0,349.5 398.2,349.2 398.4,348.9 398.6,348.3 398.8,347.7 398.9,347.3 399.1,347.2 399.3,346.8 399.5,345.9 399.8,346.3" stroke-width="2.79"/>
<path d="M399.8,346.3 400.2,347.0 400.6,347.3 400.9,347.6 401.3,348.3 401.7,348.5 401.9,348.8 402.1,349.6 402.3,350.0 402.5,349.8 402.7,350.3 402.9,351.5 403.1,352.4 403.5,352.7 403.8,352.8 404.2,353.4 404.5,354.0 404.9,354.2 405.3,354.9 405.5,354.7 405.8,353.9 406.1,352.9 406.4,352.8 406.6,352.8 406.9,351.8 407.2,351.2 407.4,350.8 408.0,350.9 408.5,351.3 409.1,351.3 409.6,351.1 410.1,350.6 410.5,350.3 410.9,349.9 411.4,349.1 411.8,348.4 412.2,349.1 412.5,350.0 412.9,350.9 413.2,351.4 413.6,351.9 414.0,352.4 414.3,352.6 414.5,352.9 414.8,353.7 415.1,354.8 415.4,355.6 415.5,355.8 415.6,355.9 415.7,356.3 415.8,356.9 415.9,357.7 416.0,358.1 416.0,358.5 416.1,358.8 416.2,358.9 416.3,359.4 416.4,360.5 416.5,361.4 416.6,362.0 416.7,362.4 416.8,362.7 416.9,363.2 416.9,363.9 417.0,365.0 417.0,366.0 417.1,366.0 417.2,366.3 417.2,367.1 417.3,367.7 417.4,368.2 417.4,368.8 417.5,369.8 417.5,370.8 417.6,370.7 417.7,370.9 417.7,371.7 417.8,372.2 417.9,372.6 417.9,373.2 418.0,374.1 418.1,374.7 418.1,374.8 418.2,375.4 418.2,376.3 418.3,376.7 418.4,377.4 418.4,377.9 418.5,378.3 418.5,378.9 418.6,379.2 418.7,379.5 418.7,380.2 418.8,381.2 418.8,381.9 418.9,382.4 419.0,382.9 419.0,383.6 419.1,384.4 419.1,384.5 419.2,384.7 419.3,385.5 419.3,386.6 419.4,385.9 419.5,384.8 419.5,384.0 419.6,384.1 419.7,384.1 419.8,383.4 419.9,382.5 419.9,381.5 420.0,380.7 420.1,380.0 420.2,379.7 420.2,379.7 420.3,379.3 420.4,378.8 420.5,377.7 420.5,376.8 420.6,376.6 420.7,375.8" stroke-width="2.79"/>
<path d="M420.7,375.8 420.8,375.3 421.0,375.4 421.3,374.6 421.6,373.4 421.8,372.8 422.1,372.5 422.4,372.4 422.7,372.2 423.0,371.5 423.3,370.9 423.6,370.4 423.9,370.0 424.2,369.1 424.5,368.4 424.8,367.9 425.1,367.4 425.4,367.1 425.6,366.4 425.9,365.7 426.2,365.1 426.5,364.7 426.7,364.2 427.0,363.7 427.4,363.2 427.7,362.7 428.1,362.6 428.4,361.7 428.8,360.9 429.2,361.0 429.4,360.9 429.7,360.2 430.0,359.1 430.3,358.0 430.5,357.5 430.8,357.2 431.1,356.8 431.3,356.4 432.1,356.6 432.8,356.8 432.9,356.4 433.0,356.1 433.1,355.5 433.3,354.6 433.4,354.4 433.5,354.2 433.6,353.4 433.8,353.1 433.9,352.8 434.0,352.1 434.1,351.6 434.2,351.3 435.0,351.2 435.7,350.8 436.4,350.7 436.6,351.3 436.8,351.7 437.1,352.1 437.3,352.4 437.5,352.7 437.7,354.0 437.9,354.9 438.1,355.2 438.7,355.1 439.3,355.2 439.9,355.3 440.5,355.8 440.8,355.8 441.2,355.6 441.5,354.6 441.9,353.4 442.2,352.8 442.6,352.9 442.9,352.3 443.0,351.3 443.1,350.5 443.2,350.3 443.2,350.1 443.3,349.3 443.4,348.5 443.5,348.3 443.6,347.8 443.6,347.1 443.7,346.5 443.8,345.9 443.9,345.3 444.0,344.4 444.1,343.6 444.1,343.2 444.2,342.7 444.3,342.3 444.4,341.8 444.6,341.5 444.8,341.1 445.0,340.6 445.2,340.2 445.4,339.8 445.6,338.8 445.8,338.1 446.4,338.5 446.9,338.7 447.5,338.2 448.0,337.8 448.3,337.1 448.5,336.6 448.8,336.3 449.1,335.6 449.4,335.1 449.6,334.8 449.9,334.2 450.2,333.6 450.5,333.1 450.9,332.6 451.3,332.0 451.6,331.3 451.8,332.1 452.0,333.1 452.2,333.6 452.4,333.9 452.6,334.1 452.9,334.3" stroke-width="2.79"/>
<path d="M452.9,334.3 453.1,335.0 453.8,334.4 454.5,333.6 454.8,333.4 455.1,333.1 455.4,332.5 455.7,332.3 456.0,331.6 456.2,331.7 456.5,332.3 456.8,332.9 457.0,333.1 457.3,333.6 457.6,334.1 457.9,334.5 458.1,335.3 458.2,336.3 458.3,337.2 458.4,337.6 458.5,337.7 458.6,338.0 458.6,338.7 458.7,339.3 458.8,339.4 458.9,339.8 459.0,340.7 459.1,341.5 459.2,342.1 459.2,342.7 459.3,343.3 459.4,343.7 459.5,344.1 459.6,344.7 460.1,345.4 460.7,345.9 461.2,346.2 461.8,346.4 461.9,347.2 462.1,347.9 462.3,348.2 462.5,348.6 462.7,349.2 462.8,349.8 463.0,350.5 463.2,351.2 463.3,351.7 463.5,352.2 463.6,352.5 463.8,352.8 463.9,353.5 464.1,354.1 464.2,354.4 464.4,355.0 464.5,355.7 464.6,356.6 464.7,357.7 464.8,358.3 464.8,358.4 464.9,359.0 464.9,359.6 465.0,360.2 465.0,361.0 465.1,361.4 465.2,361.4 465.2,361.4 465.3,362.2 465.3,363.1 465.4,363.6 465.4,364.1 465.5,364.7 465.5,365.3 465.6,365.7 465.7,366.0 465.7,366.7 465.8,367.2 465.8,367.9 465.9,368.9 465.9,369.4 466.0,369.9 466.0,370.6 466.1,371.1 466.1,371.5 466.2,371.7 466.2,372.2 466.3,373.4 466.3,374.2 466.3,374.5 466.4,374.8 466.4,375.2 466.4,375.8 466.5,376.3 466.5,377.0 466.6,377.6 466.6,377.8 466.6,378.4 466.7,379.0 466.7,379.7 466.8,380.7 466.8,381.3 466.8,381.6 466.9,381.7 466.9,382.3 467.0,383.0 467.0,383.6 467.0,384.5 467.1,385.0 467.1,385.1 467.2,384.3 467.2,384.0 467.2,383.8 467.3,383.2 467.3,382.5 467.4,381.9 467.4,381.3 467.5,381.0 467.5,380.7 467.6,380.1 467.6,379.3 467.6,378.6 467.7,378.2" stroke-width="2.80"/>
<path d="M467.7,378.2 467.7,378.1 467.8,377.5 467.8,376.7 467.9,376.1 467.9,375.6 468.0,375.2 468.0,374.4 468.0,373.5 468.1,373.3 468.1,373.1 468.2,372.5 468.2,371.8 468.3,370.9 468.4,371.3 468.4,372.1 468.5,372.4 468.6,372.8 468.7,373.6 468.8,374.7 468.8,375.3 468.9,375.1 469.0,375.4 469.1,376.6 469.2,377.3 469.3,377.7 469.3,378.5 469.4,379.4 469.5,379.0 469.6,378.2 469.6,377.5 469.7,376.7 469.8,376.0 469.8,375.5 469.9,374.7 470.0,374.2 470.1,373.8 470.1,373.0 470.2,372.6 470.3,372.2 470.3,371.5 470.4,370.6 470.5,369.9 470.5,369.5 470.6,369.1 470.7,368.8 470.7,368.3 470.8,367.6 470.9,367.0 471.0,366.7 471.0,366.0 471.1,365.3 471.2,365.0 471.5,366.1 471.7,367.1 472.0,367.4 472.3,367.2 472.6,367.6 472.8,368.5 473.0,369.3 473.2,370.0 473.3,371.0 473.5,371.6 473.7,371.9 473.9,371.9 474.1,372.0 474.8,372.0 475.5,372.1 475.6,372.5 475.7,373.1 475.8,374.0 475.9,374.7 476.0,374.9 476.1,375.2 476.1,375.9 476.2,376.8 476.3,377.4 476.4,377.8 476.5,378.6 476.6,379.4 476.7,379.8 476.8,380.1 476.9,380.4 477.0,380.6 477.0,381.1 477.1,382.0 477.2,382.7 477.3,383.3 477.4,383.9 477.5,384.4 477.6,385.1 477.7,385.8 477.8,386.4 477.9,386.8 478.0,387.1 478.0,387.8 478.1,388.2 478.2,388.3 478.3,388.8 478.4,389.4 478.5,389.8 478.5,390.2 478.6,390.8 478.7,391.6 478.7,392.3 478.8,393.0 478.8,393.5 478.9,393.7 479.0,394.1 479.0,395.0 479.1,395.8 479.2,396.5 479.2,397.0 479.3,397.6 479.4,398.4 479.4,398.7 479.5,398.0 479.5,397.9 479.5,397.4 479.6,396.4 479.6,395.8" stroke-width="2.80"/>
<path d="M479.6,395.8 479.7,395.3 479.7,394.7 479.8,394.0 479.8,393.3 479.9,392.7 479.9,392.5 479.9,391.9 480.0,391.0 480.0,390.5 480.1,390.1 480.1,389.4 480.2,388.6 480.2,387.9 480.3,387.5 480.3,387.4 480.3,387.1 480.4,386.4 480.4,385.7 480.6,385.0 480.8,384.3 480.9,384.1 481.1,383.9 481.3,383.3 481.5,382.3 481.6,381.4 481.8,381.0 482.0,380.8 482.1,380.7 482.3,380.4 482.5,381.0 482.8,381.3 483.0,381.6 483.3,382.0 483.5,382.6 483.7,383.4 484.0,383.9 484.2,384.1 484.4,383.4 484.5,382.9 484.7,382.3 484.9,382.1 485.1,381.5 485.2,380.4 485.4,379.7 485.6,379.1 485.8,378.8 485.9,378.5 486.2,377.6 486.5,376.8 486.8,376.5 487.1,376.1 487.4,375.3 487.6,375.6 487.8,376.3 488.0,377.0 488.2,377.7 488.5,378.6 488.7,378.8 488.9,379.0 489.1,379.5 489.3,379.8 489.6,380.7 490.3,380.9 491.0,380.5 491.7,380.6 492.0,380.0 492.3,379.4 492.6,379.1 492.9,378.5 493.2,377.9 493.5,377.6 493.7,378.3 493.9,378.9 494.1,379.5 494.3,380.1 494.5,380.7 494.7,381.1 494.9,381.3 495.1,381.9 495.3,382.5 495.5,382.8 495.6,383.4 495.7,384.2 495.8,384.9 495.9,385.3 496.0,385.9 496.1,386.5 496.2,387.0 496.3,388.2 496.5,389.0 496.6,389.1 496.7,389.5 496.8,390.0 497.1,390.5 497.4,391.3 497.7,392.0 498.0,392.3 498.3,392.8 498.7,393.2 499.0,393.1 499.7,392.9 500.4,393.5 501.1,393.8 501.3,394.0 501.5,394.5 501.7,395.4 501.8,396.1 502.0,396.6 502.2,396.8 502.3,396.9 502.5,397.1 502.7,397.6 502.8,398.8 503.0,399.9 503.1,399.2 503.2,398.1 503.3,397.2 503.4,396.7 503.5,396.5 503.6,396.1" stroke-width="2.80"/>
<path d="M503.6,396.1 503.7,395.7 503.8,395.1 503.9,394.5 504.0,393.8 504.1,393.4 504.2,392.9 504.3,392.1 504.5,391.2 504.6,390.7 504.7,390.5 504.8,390.3 504.9,390.9 505.1,391.4 505.3,392.0 505.5,392.5 505.7,393.0 505.8,393.3 506.0,393.6 506.2,394.4 506.7,394.1 507.3,393.5 507.8,393.3 508.4,393.1 508.6,392.2 508.8,391.4 509.0,391.3 509.2,391.0 509.4,390.1 509.6,389.4 509.8,388.9 510.0,388.4 510.2,388.3 510.4,387.9 510.6,386.9 510.7,386.1 510.9,385.4 511.1,384.8 511.2,384.1 511.4,383.8 511.6,383.6 511.7,383.3 511.9,382.8 512.1,381.9 512.2,381.0 512.4,380.6 512.6,380.3 512.7,379.9 513.2,380.2 513.7,380.5 514.1,381.1 514.6,381.6 514.7,380.7 514.8,380.0 514.9,379.5 515.0,379.1 515.1,379.0 515.3,378.4 515.4,377.5 515.5,376.4 515.6,375.8 515.7,375.8 515.8,375.4 515.9,374.5 516.0,373.8 516.1,373.4 516.2,373.2 516.3,372.6 516.8,371.9 517.2,371.5 517.6,371.0 518.1,370.5 518.5,370.1 518.8,370.9 519.1,372.2 519.5,372.9 519.8,372.9 520.1,372.9 520.4,373.4 520.6,373.2 520.8,372.4 521.0,371.7 521.2,371.4 521.4,370.6 521.6,369.7 521.7,369.1 521.9,368.6 522.1,368.2 522.6,368.9 523.0,369.5 523.4,369.9 523.9,370.2 524.3,370.9 524.9,371.2 525.4,371.1 525.9,371.3 526.5,371.4 526.6,370.9 526.8,371.1 527.0,370.7 527.1,369.8 527.3,369.2 527.5,368.6 527.7,367.8 527.8,367.3 528.0,367.1 528.2,366.5 528.3,365.1 528.5,364.1 528.7,364.3 528.9,364.2 529.1,363.5 529.3,362.8 529.5,362.2 529.7,361.7 530.0,361.6 530.2,361.2 530.4,360.2 530.6,359.4 530.8,359.2 531.5,359.4" stroke-width="2.80"/>
<path d="M531.5,359.4 532.3,359.6 533.0,359.9 533.2,360.5 533.3,361.2 533.5,361.3 533.7,361.5 533.9,362.3 534.0,362.7 534.2,363.1 534.4,363.8 534.5,364.1 534.7,364.3 534.9,365.0 535.0,365.0 535.1,364.5 535.3,364.0 535.4,363.7 535.5,363.0 535.7,361.9 535.8,361.0 535.9,360.4 536.1,359.9 536.2,359.4 536.4,359.0 536.5,358.7 536.6,358.0 537.0,357.2 537.3,356.7 537.7,356.5 538.1,355.8 538.3,355.8 538.5,356.4 538.7,357.0 538.9,357.5 539.1,358.5 539.3,359.1 539.5,359.0 539.6,358.4 539.7,358.6 539.8,358.1 540.0,357.0 540.1,356.4 540.2,356.2 540.3,355.6 540.4,355.1 540.5,354.9 540.6,354.0 540.7,353.0 540.9,352.5 541.0,352.0 541.5,352.6 542.0,353.1 542.6,353.2 543.1,353.6 543.3,353.2 543.4,352.3 543.5,351.2 543.6,350.5 543.7,350.1 543.9,349.3 544.0,348.6 544.1,348.1 544.2,347.4 544.3,347.1 544.5,346.9 544.6,346.4 545.1,346.5 545.7,346.5 546.2,346.5 546.8,347.0 546.9,346.7 547.1,346.1 547.3,345.3 547.4,344.7 547.6,344.6 547.8,343.8 547.9,342.9 548.1,342.4 548.3,341.9 548.4,341.6 548.6,341.1 548.8,340.4 548.9,340.0 549.3,339.7 549.7,339.2 550.0,338.7 550.4,338.4 550.7,338.0 551.1,337.5 551.4,336.7 551.7,335.9 552.0,335.4 552.3,334.7 552.7,334.0 553.0,333.6 553.3,333.4 553.4,334.1 553.6,334.6 553.8,335.1 554.0,335.7 554.1,336.0 554.3,336.6 554.5,337.2 554.6,337.3 554.8,337.8 555.0,338.7 555.2,339.5 555.3,338.7 555.5,337.7 555.7,337.3 555.9,337.3 556.0,336.6 556.2,335.6 556.4,335.5 556.5,335.7 556.7,334.7 556.9,333.1 557.3,333.7 557.6,334.6 558.0,335.2" stroke-width="2.80"/>
<path d="M558.0,335.2 558.3,336.1 558.6,335.7 558.8,334.9 559.1,334.1 559.3,333.7 559.6,333.4 559.8,333.2 560.1,332.3 560.2,332.5 560.4,333.1 560.5,333.8 560.7,334.7 560.8,335.3 560.9,335.7 561.1,336.0 561.2,336.5 561.4,337.1 561.5,337.8 561.7,338.4 561.8,338.7 562.0,339.2 562.2,339.9 562.4,340.3 562.6,340.8 562.8,341.6 563.0,342.1 563.1,341.3 563.1,341.0 563.2,340.5 563.3,340.1 563.4,339.5 563.4,338.5 563.5,337.8 563.6,337.6 563.7,337.1 563.7,336.2 563.8,335.6 563.9,335.5 564.0,335.3 564.0,334.6 564.1,333.3 564.2,332.3 564.3,332.3 564.3,331.9 564.4,331.0 564.7,331.7 565.0,332.4 565.2,332.9 565.5,333.3 565.8,333.9 566.0,334.3 566.3,334.6 566.7,335.3 567.2,335.9 567.6,336.3 568.0,336.3 568.5,336.7 568.6,337.9 568.7,338.5 568.8,338.3 568.9,338.8 569.0,339.6 569.1,340.3 569.2,341.0 569.3,341.4 569.4,342.0 569.5,342.5 569.6,342.7 569.7,343.8 569.8,345.0 569.9,345.3 570.1,345.5 570.2,346.6 570.4,347.6 570.6,347.8 570.7,347.8 570.9,348.1 571.1,348.7 571.2,349.2 571.4,349.8 571.5,349.2 571.6,348.6 571.7,348.3 571.8,347.7 571.9,347.4 572.0,347.3 572.1,346.7 572.2,346.0 572.3,345.3 572.4,344.5 572.5,343.5 572.6,342.9 572.7,342.5 572.8,342.0 573.3,341.6 573.7,341.3 574.1,340.9 574.6,340.5 575.0,340.1 575.2,339.7 575.4,338.9 575.6,338.0 575.8,337.2 576.0,336.7 576.3,336.6 576.5,336.1 576.7,335.4 576.9,335.0 577.3,334.5 577.7,333.8 578.2,333.4 578.6,333.2 578.8,333.5 579.0,334.1 579.2,334.8 579.4,335.5 579.6,336.1 579.8,336.5 580.0,336.9 580.2,337.4" stroke-width="2.80"/>
<path d="M580.2,337.4 580.4,338.1 580.6,338.8 580.8,339.3 581.1,339.8 581.4,340.3 581.7,340.7 582.0,341.2 582.3,341.5 582.7,341.6 583.0,342.3 583.1,343.0 583.3,343.6 583.5,344.3 583.7,344.8 583.9,345.5 584.0,346.2 584.2,346.7 584.4,347.2 584.6,347.7 584.8,348.4 585.0,349.0 585.1,349.5 585.3,349.2 585.5,348.4 585.7,347.7 585.9,347.6 586.1,347.2 586.3,346.4 586.5,345.9 586.7,345.8 586.9,345.3 587.1,344.3 587.3,343.4 587.6,343.0 587.8,342.6 588.1,341.7 588.4,341.0 588.7,340.7 588.9,340.4 589.2,340.1 589.5,339.3 590.0,339.2 590.6,339.7 591.1,340.3 591.7,340.7 591.8,340.3 591.9,339.9 592.1,339.3 592.2,338.5 592.3,337.9 592.5,337.4 592.6,336.9 592.7,336.3 592.9,335.2 593.0,334.7 593.1,334.9 593.3,334.4 593.4,333.8 593.5,334.1 593.6,334.3 593.8,335.0 593.9,335.4 594.0,335.9 594.1,336.7 594.2,337.2 594.4,338.0 594.5,338.7 594.6,338.8 594.7,339.3 594.8,340.2 595.4,340.2 596.0,339.6 596.6,339.3 597.2,339.5 597.3,338.8 597.4,337.5 597.5,336.9 597.6,336.5 597.7,336.2 597.8,335.8 597.9,335.4 598.0,335.2 598.1,334.7 598.2,333.7 598.3,332.9 598.4,332.5 598.5,332.3 598.6,331.8 598.7,331.0 598.8,330.2 598.9,329.5 599.2,329.1 599.5,329.1 599.8,328.6 600.1,327.6 600.3,326.7 600.7,326.0 601.1,325.5 601.4,325.4 601.8,325.3 602.2,324.7 602.5,324.2 603.2,324.2 604.0,324.3 604.7,324.4 605.0,324.0 605.4,323.6 605.8,323.1 606.1,322.2 606.5,321.4 606.9,321.2 607.0,322.1 607.1,322.9 607.2,323.1 607.3,323.1 607.4,323.8 607.5,324.7 607.6,325.0 607.7,325.4 607.8,326.3" stroke-width="2.80"/>
<path d="M607.8,326.3 607.9,327.0 608.0,327.5 608.1,328.2 608.2,328.9 608.3,329.4 608.7,329.7 609.0,330.4 609.4,331.3 609.8,331.7 610.4,331.6 611.0,331.9 611.6,332.5 611.8,331.7 611.9,330.9 612.0,330.7 612.2,330.4 612.3,329.5 612.4,328.7 612.6,328.1 612.7,327.4 612.8,327.1 613.0,326.8 613.1,326.0 613.2,325.4 613.4,324.8 613.9,324.9 614.5,325.1 615.0,325.6 615.5,326.2 615.8,325.8 616.0,325.2 616.2,324.8 616.4,324.0 616.6,323.1 616.8,322.4 617.0,321.6 617.2,321.1 617.4,321.1 617.6,321.7 617.8,321.8 618.0,322.3 618.2,322.9 618.4,323.7 618.6,324.4 618.8,324.6 619.0,325.0 619.2,325.9 619.4,326.8 619.6,327.3 619.8,327.7 620.0,328.2 620.3,328.7 620.5,329.2 620.7,329.6 620.9,330.0 621.1,330.7 621.3,331.4 622.0,331.1 622.6,330.6 623.2,330.2 623.3,330.9 623.4,331.6 623.5,332.0 623.6,332.8 623.7,333.6 623.8,333.9 623.9,334.3 623.9,335.2 624.0,335.9 624.1,336.1 624.2,336.5 624.3,336.9 624.4,337.2 624.5,337.9 624.6,338.7 624.7,339.0 625.2,338.9 625.8,339.5 626.4,340.1 627.0,339.9 627.5,339.9 628.0,339.8 628.6,339.4 628.7,338.6 628.9,338.0 629.1,337.3 629.2,336.9 629.4,336.6 629.5,336.2 629.7,335.7 629.9,334.7 630.0,333.6 630.4,333.2 630.8,333.2 631.1,333.4 631.5,333.1 631.8,332.1 632.2,331.5 632.6,331.1 633.1,330.2 633.5,329.8 633.9,329.7 634.4,329.3 634.7,329.5 635.1,329.9 635.5,330.7 635.8,331.4 636.0,330.6 636.1,330.3 636.3,330.2 636.5,329.5 636.6,328.5 636.8,327.6 636.9,327.0 637.1,326.5 637.3,325.8 637.5,325.1 637.7,324.6 637.9,324.5 638.1,324.5" stroke-width="2.80"/>
<path d="M638.1,324.5 638.4,324.0 638.6,323.5 638.8,322.9 639.0,322.0 639.2,321.3 639.4,320.9 639.8,320.5 640.1,320.1 640.5,319.8 640.8,319.5 641.2,319.0 641.4,319.7 641.5,320.4 641.7,320.4 641.9,320.7 642.0,321.2 642.2,321.8 642.4,322.6 642.5,323.2 642.7,323.5 642.9,324.0 643.1,324.8 643.5,325.2 643.9,325.7 644.4,326.5 644.8,326.7 645.2,326.8 645.4,326.2 645.6,325.5 645.8,325.1 645.9,324.7 646.1,323.7 646.3,323.2 646.5,322.8 646.6,322.0 646.8,321.8 647.0,321.6 647.3,321.8 647.7,322.0 648.1,322.4 648.5,322.9 648.9,323.3 649.2,323.6 649.6,324.1 650.0,324.5 650.4,324.7 650.7,325.2 650.8,326.0 650.9,326.7 651.0,327.4 651.1,327.9 651.2,328.2 651.3,328.5 651.4,329.1 651.5,330.1 651.6,330.7 651.7,331.3 651.7,332.0 651.8,332.5 651.9,333.3 652.0,334.6 652.1,335.3 652.2,335.0 652.3,334.8 652.4,335.4 652.5,336.3 653.0,336.4 653.6,336.3 654.1,336.4 654.6,337.1 654.8,336.7 654.9,335.8 655.0,335.1 655.1,334.4 655.3,333.6 655.4,333.3 655.5,332.9 655.6,332.2 655.7,331.8 655.9,331.6 656.0,331.3 656.1,330.6 656.3,329.8 656.5,329.3 656.7,328.9 657.0,328.6 657.2,328.4 657.4,327.9 657.6,326.8 657.8,326.0 658.1,325.7 658.3,325.4 658.6,325.2 659.0,324.7 659.4,324.0 659.7,323.9 660.1,323.6 660.4,323.0 661.0,323.1 661.5,323.1 662.1,323.5 662.6,324.3 663.2,324.4 663.7,324.4 664.2,324.6 664.8,324.9 664.9,324.2 665.1,323.4 665.3,322.9 665.4,322.4 665.6,321.8 665.8,321.3 665.9,320.6 666.1,320.3 666.2,320.2 666.8,319.8 667.3,319.3 667.9,318.7 668.4,318.3 668.8,319.0" stroke-width="2.80"/>
<path d="M668.8,319.0 669.1,319.5 669.5,319.9 669.8,320.3 670.2,320.5 670.5,320.6 670.9,321.0 671.1,320.5 671.4,320.0 671.7,319.1 671.9,318.6 672.2,318.6 672.5,318.2 672.8,317.3 673.0,316.7 673.3,317.2 673.5,317.8 673.7,318.5 673.9,319.0 674.1,319.4 674.3,319.9 674.6,320.5 674.8,320.8 675.0,321.3 675.2,322.0 675.4,321.5 675.6,321.0 675.7,320.5 675.9,319.8 676.1,319.1 676.3,318.5 676.5,317.6 676.7,317.0 676.8,316.7 677.0,316.0 677.2,315.7 677.4,315.7 677.7,315.1 678.0,314.3 678.3,313.6 678.6,312.9 678.9,312.4 679.2,312.3 679.6,312.0 679.9,312.4 680.2,312.8 680.5,313.2 680.8,314.0 681.1,314.8 681.4,315.4 681.7,315.7 681.9,315.1 682.1,314.6 682.3,314.0 682.5,313.3 682.7,312.6 682.9,312.0 683.1,311.8 683.3,311.8 683.5,311.1 683.7,310.1 683.9,309.7 684.4,309.4 684.8,308.9 685.3,308.5 685.8,308.3 685.8,308.8 685.9,309.4 685.9,309.9 685.9,310.2 686.0,310.6 686.0,311.1 686.1,312.0 686.1,312.8 686.1,313.2 686.2,313.4 686.2,313.6 686.3,314.2 686.3,315.1 686.3,316.0 686.4,316.7 686.4,317.0 686.5,317.5 686.5,318.2 686.5,318.7 686.6,319.2 686.6,320.0 686.7,320.8 686.7,321.2 686.8,321.6 686.8,322.4 687.2,322.0 687.5,321.4 687.9,320.8 688.2,320.1 688.6,319.7 689.0,319.7 689.0,320.1 689.1,320.2 689.2,320.6 689.2,321.1 689.3,321.7 689.4,322.3 689.5,322.9 689.5,323.5 689.6,324.2 689.7,324.8 689.7,325.2 689.8,325.8 689.9,326.4 689.9,327.1 690.0,327.8 690.1,328.1 690.1,328.3 690.2,328.5 690.3,329.0 690.4,329.8 690.4,330.4 690.5,330.6 690.6,331.2 690.6,332.1" stroke-width="2.80"/>
<path d="M690.6,332.1 690.7,333.0 691.0,332.8 691.2,332.4 691.5,331.6 691.8,330.9 692.0,330.3 692.3,329.7 692.6,329.4 692.8,329.4 692.9,328.7 693.1,327.7 693.3,327.1 693.5,326.3 693.6,325.3 693.8,324.7 694.0,324.6 694.1,324.3 694.3,323.9 694.4,324.3 694.5,324.7 694.6,325.5 694.7,326.6 694.8,327.2 694.9,327.3 695.0,327.6 695.1,328.0 695.2,328.4 695.3,329.1 695.4,330.0 695.4,330.5 695.5,331.0 695.6,331.7 695.7,332.0 695.8,332.2 695.9,333.0 696.1,333.3 696.3,333.6 696.5,334.4 696.6,334.9 696.8,335.5 697.0,336.4 697.2,336.9 697.4,337.2 697.6,336.6 697.9,336.1 698.1,335.6 698.4,335.5 698.6,335.3 698.9,334.3 699.1,333.4 699.4,332.9 699.7,332.2 700.0,331.8 700.3,331.6 700.7,331.4 701.0,331.0 701.3,330.2 701.8,330.6 702.4,331.4 702.9,332.0 703.4,332.0 703.9,331.2 704.3,330.7 704.8,330.5 705.2,330.0 705.6,329.5 706.2,329.6 706.7,329.8 707.2,330.2 707.8,330.6 707.9,329.8 708.1,329.1 708.2,328.6 708.4,328.2 708.5,327.5 708.7,326.8 708.8,326.2 709.0,325.6 709.1,324.7 709.2,324.5 709.4,324.5 709.5,324.0 709.7,323.0 709.8,321.9 710.0,321.6 710.3,321.4 710.7,321.0 711.1,320.5 711.5,320.2 711.8,320.1 712.1,320.6 712.3,320.8 712.5,321.5 712.7,322.4 712.9,323.1 713.1,323.4 713.4,323.4 713.6,323.9 713.7,323.6 713.9,323.0 714.0,322.5 714.2,322.0 714.3,321.6 714.5,321.2 714.6,320.5 714.7,319.8 714.9,319.5 715.0,319.2 715.2,318.5 715.3,318.1 715.5,318.0 715.6,317.7 715.8,316.9 716.3,316.1 716.8,315.5 717.4,315.0 717.9,314.6 718.5,314.3 719.0,314.1 719.6,314.1" stroke-width="2.80"/>
<path d="M719.6,314.1 720.1,314.2 720.5,314.9 720.8,315.6 721.2,315.9 721.5,315.9 721.9,316.2 722.3,316.5 722.6,316.8 723.0,317.4 723.4,318.2 723.7,318.7 724.1,318.8 724.4,319.6 724.8,319.3 725.2,318.7 725.5,318.3 725.9,318.0 726.3,317.8 726.6,317.6 726.8,316.7 727.0,315.7 727.2,315.1 727.4,314.9 727.6,314.8 727.8,314.3 728.0,313.5 728.2,312.5 728.4,311.9 728.6,311.6 728.8,311.2 729.1,310.9 729.4,310.4 729.7,309.2 730.0,308.1 730.3,307.8 730.7,307.7 731.0,307.8 731.1,308.7 731.1,309.2 731.2,309.7 731.3,310.2 731.4,310.6 731.5,311.1 731.6,311.4 731.7,311.7 731.8,312.4 731.9,313.4 732.0,313.8 732.0,313.9 732.1,314.8 732.2,315.6 732.3,315.8 732.4,316.2 732.5,316.7 732.6,317.3 732.7,317.9 732.8,318.3 732.9,318.8 733.0,319.4 733.1,320.0 733.2,320.5 733.3,321.1 733.4,321.7 733.5,322.0 733.6,322.6 733.8,322.4 734.0,321.9 734.1,321.0 734.3,320.3 734.5,319.6 734.7,318.8 734.9,318.6 735.1,318.5 735.3,317.9 735.6,317.2 735.9,316.6 736.1,316.1 736.4,315.7 736.7,315.1 736.9,314.4 737.2,313.7 737.5,313.1 737.8,312.7 738.2,312.1 738.6,311.6 738.9,311.4 739.3,311.3 739.7,311.0 740.2,310.2 740.7,309.5 741.3,309.1 741.8,309.1 742.4,309.1 742.9,308.6 743.5,307.7 744.0,307.3 744.5,307.6 745.1,307.3 745.6,306.4 746.2,306.0 746.3,305.5 746.4,305.3 746.5,305.0 746.7,304.5 746.8,304.0 746.9,303.4 747.0,303.6 747.1,303.9 747.3,304.8 747.4,305.4 747.5,305.5 747.6,306.1 747.7,307.4 747.9,308.0 748.0,308.0 748.1,308.1 748.2,308.7 748.3,309.3 748.7,310.0 749.1,310.6" stroke-width="2.80"/>
<path d="M749.1,310.6 749.4,310.5 749.8,311.1 750.2,312.2 750.5,312.8 750.8,312.0 751.1,311.3 751.3,310.8 751.6,310.0 751.9,309.2 752.1,308.9 752.4,308.6 752.7,307.9 753.2,308.1 753.8,308.9 754.3,309.3 754.9,309.3 754.9,309.8 754.9,310.6 755.0,311.2 755.0,311.3 755.1,311.8 755.1,312.9 755.2,313.4 755.2,313.5 755.3,314.2 755.3,314.8 755.3,315.1 755.4,315.3 755.4,315.7 755.5,316.6 755.5,317.6 755.6,318.3 755.6,318.6 755.7,319.3 755.7,320.0 755.7,320.8 755.8,321.4 755.8,321.6 755.9,321.8 756.0,322.1 756.1,322.9 756.2,324.3 756.3,325.0 756.4,325.1 756.5,325.5 756.6,326.1 756.7,327.0 756.8,327.6 756.9,327.5 757.0,327.6 757.1,328.2 757.2,328.9 757.3,329.8 757.6,330.3 757.8,330.7 758.0,331.3 758.3,332.1 758.5,332.6 758.7,333.0 759.0,333.5 759.2,334.4 759.3,333.9 759.4,333.0 759.5,332.3 759.6,332.0 759.7,331.6 759.8,331.2 759.9,330.4 760.0,329.8 760.1,329.1 760.2,328.4 760.3,327.9 760.4,327.3 760.5,327.0 760.7,327.0 760.9,327.4 761.2,328.0 761.5,328.8 761.7,329.0 762.0,328.8 762.3,329.0 762.6,329.6 762.8,330.3 763.0,329.8 763.3,329.4 763.5,329.4 763.7,329.1 763.9,328.2 764.1,327.8 764.3,327.5 764.6,326.7 764.8,326.2 765.0,326.4 765.3,325.9 765.5,324.6 765.8,323.6 766.1,323.1 766.4,322.9 766.6,322.5 766.9,321.9 767.2,321.1 767.3,321.3 767.4,321.9 767.5,322.7 767.6,323.5 767.7,324.2 767.8,325.0 767.9,325.7 768.0,326.2 768.1,326.8 768.2,327.8 768.3,328.3 768.4,328.1 768.5,328.4 768.6,329.4 768.9,330.2 769.2,330.6 769.5,330.8 769.8,331.2 770.1,332.2" stroke-width="2.80"/>
<path d="M770.1,332.2 770.4,332.0 770.6,331.2 770.9,330.5 771.2,329.6 771.5,328.8 771.6,329.2 771.7,329.6 771.7,330.5 771.8,331.6 771.9,332.0 771.9,332.3 772.0,333.0 772.1,333.8 772.1,334.4 772.2,334.7 772.3,335.3 772.3,336.1 772.4,336.6 772.5,336.7 772.5,337.0 772.6,337.4 772.7,338.2 772.8,339.4 772.8,340.2 772.9,340.4 773.0,340.6 773.1,340.9 773.2,341.3 773.3,342.2 773.3,342.9 773.4,343.1 773.5,343.8 773.6,344.4 773.7,345.0 773.8,345.7 773.9,346.1 774.0,346.6 774.1,347.1 774.2,347.4 774.3,348.0 774.4,348.7 774.5,349.5 774.6,350.5 774.7,350.9 774.8,350.1 774.9,349.7 774.9,349.5 775.0,349.2 775.1,348.6 775.2,347.7 775.3,347.2 775.4,346.5 775.4,345.7 775.5,344.9 775.6,344.6 775.7,344.8 775.8,344.4 775.8,343.5 775.9,342.8 776.0,342.3 776.1,341.5 776.2,340.7 776.3,340.2 776.3,339.6 776.4,339.5 776.5,339.1 776.6,337.8 776.7,338.1 776.7,339.1 776.8,339.6 776.9,339.7 777.0,340.5 777.1,341.6 777.1,342.3 777.2,342.7 777.3,342.9 777.4,343.3 777.5,344.3 777.5,345.1 777.6,345.3 777.7,345.7 777.8,346.3 777.9,346.9 777.9,347.5 778.0,348.0 778.2,347.4 778.3,347.0 778.4,346.5 778.5,345.9 778.6,345.3 778.8,345.1 778.9,345.0 779.0,344.3 779.1,343.0 779.2,342.1 779.4,341.6 779.5,341.2 779.6,341.9 779.6,342.5 779.7,343.1 779.8,343.6 779.9,344.0 780.0,344.4 780.1,345.2 780.2,345.7 780.2,346.3 780.3,347.0 780.4,347.5 780.5,348.3 780.6,349.0 780.7,349.2 780.8,349.3 780.8,349.9 780.9,350.7 781.0,351.3 781.0,351.8 781.1,352.4 781.2,352.9 781.2,353.6 781.3,354.3" stroke-width="2.80"/>
<path d="M781.3,354.3 781.3,354.5 781.4,355.0 781.4,355.7 781.5,356.3 781.6,356.9 781.6,357.3 781.7,357.9 781.7,358.8 781.8,359.4 781.9,359.6 781.9,360.0 782.0,360.6 782.0,361.1 782.1,361.6 782.1,362.1 782.2,362.9 782.3,364.0 782.3,364.6 782.4,364.9 782.5,365.3 782.6,365.7 782.7,365.9 782.8,366.1 782.9,367.0 783.1,368.1 783.2,368.4 783.3,368.4 783.4,369.2 783.5,369.0 783.5,368.3 783.6,367.7 783.6,367.2 783.7,367.1 783.8,366.9 783.8,366.2 783.9,365.5 784.0,364.9 784.0,364.2 784.1,363.4 784.2,362.9 784.2,362.3 784.3,361.5 784.4,361.2 784.4,361.2 784.5,360.8 784.6,359.6 784.6,358.8 784.7,358.8 784.8,358.7 784.8,358.0 784.9,357.0 784.9,356.2 785.0,355.7 785.1,355.1 785.1,354.6 785.2,354.2 785.3,353.7 785.4,354.4 785.6,355.0 785.8,355.2 786.0,355.9 786.1,356.6 786.3,356.7 786.5,356.8 786.6,357.9 786.8,359.2 787.0,359.5 787.2,359.4 787.4,358.8 787.7,358.5 788.0,358.2 788.3,357.9 788.6,357.5 788.9,356.8 789.0,357.2 789.0,357.9 789.1,358.4 789.2,359.2 789.2,360.1 789.3,360.1 789.4,360.3 789.4,361.2 789.5,361.8 789.6,362.1 789.7,362.9 789.7,363.3 789.8,363.7 789.9,364.4 789.9,364.8 790.0,365.1 790.1,365.7 790.1,366.4 790.2,367.0 790.3,367.5 790.3,368.3 790.5,368.8 790.7,369.1 790.9,370.0 791.1,370.6 791.2,370.6 791.4,371.0 791.6,371.7 791.8,372.6 791.9,372.4 792.0,371.9 792.1,371.3 792.2,370.7 792.3,370.1 792.5,369.2 792.6,368.3 792.7,367.8 792.8,367.6 792.9,367.1 793.0,366.2 793.1,365.7 793.2,365.5 793.4,364.9 793.6,364.3 793.8,364.0 794.0,363.4" stroke-width="2.80"/>
<path d="M794.0,363.4 794.1,362.9 794.3,362.6 794.5,361.8 794.7,361.0 794.9,360.7 795.0,360.8 795.2,360.4 795.4,359.4 795.7,359.4 796.0,359.8 796.3,360.5 796.7,360.8 797.0,361.2 797.3,362.1 797.6,362.7 797.8,362.1 798.0,361.5 798.2,360.8 798.4,360.0 798.6,359.4 798.8,359.1 799.0,358.8 799.2,358.4 799.4,357.7 799.6,357.2 799.8,356.9 800.2,356.5 800.6,356.1 801.1,355.5 801.5,354.8 801.9,354.4 802.5,354.8 803.0,354.9 803.6,354.3 804.1,353.9 804.8,354.2 805.5,354.2 805.7,354.9 805.8,355.8 805.9,356.5 806.0,356.9 806.2,357.0 806.3,357.5 806.4,358.4 806.5,359.1 806.6,359.6 806.8,360.0 806.9,360.5 807.0,361.2 807.1,361.4 807.2,361.8 807.3,362.2 807.4,362.7 807.6,363.8 807.7,364.7 807.8,365.0 807.9,365.1 808.0,365.3 808.1,366.1 808.2,367.2 808.3,368.0 808.4,368.4 808.5,368.9 808.6,369.3 808.7,369.7 808.7,370.6 808.8,371.4 808.9,371.9 808.9,372.2 809.0,372.6 809.1,373.1 809.1,373.7 809.2,374.6 809.3,375.1 809.3,375.4 809.4,376.3 809.5,377.0 809.5,377.3 809.6,378.1 809.7,378.7 809.8,379.2 809.8,379.7 809.9,380.3 810.0,381.1 810.1,381.4 810.2,381.7 810.3,382.4 810.4,383.1 810.5,383.4 810.6,383.7 810.7,384.4 810.8,385.3 810.9,385.8 811.0,386.3 811.1,386.9 811.2,387.8 811.3,388.4 811.4,387.6 811.5,387.1 811.6,386.5 811.7,385.8 811.8,385.3 811.8,384.9 811.9,384.2 812.0,383.4 812.1,382.6 812.2,382.1 812.3,381.4 812.4,380.9 812.4,380.8 812.5,380.8 812.6,380.3 812.7,379.4 812.8,378.9 812.9,378.1 812.9,376.9 813.0,376.3 813.3,376.1 813.7,375.5 814.0,374.9" stroke-width="2.80"/>
<path d="M814.0,374.9 814.3,374.7 814.6,374.6 814.8,374.1 815.0,373.3 815.2,372.7 815.4,371.9 815.5,370.9 815.7,370.4 815.9,369.9 816.1,369.6 816.3,369.4 816.5,369.8 816.7,370.1 816.9,370.8 817.2,371.5 817.4,371.8 817.6,371.8 817.8,372.3 818.0,373.1 818.2,373.8 818.8,373.7 819.3,373.5 819.8,373.2 820.1,372.6 820.3,371.9 820.5,371.2 820.8,370.7 821.0,370.3 821.3,370.1 821.5,369.5 821.6,369.7 821.6,370.0 821.7,370.4 821.7,371.4 821.7,372.3 821.8,372.8 821.8,373.4 821.9,374.0 821.9,374.4 822.0,374.9 822.0,375.3 822.1,375.5 822.1,375.8 822.2,376.4 822.2,377.2 822.3,377.9 822.3,378.3 822.4,378.7 822.4,379.1 822.5,379.7 822.6,380.6 822.6,381.4 822.7,381.7 822.8,382.3 822.8,383.0 822.9,383.4 823.0,383.9 823.0,384.4 823.1,384.7 823.2,385.4 823.2,386.2 823.3,386.7 823.4,387.4 823.4,387.8 823.5,388.1 823.6,389.0 823.7,390.0 823.7,390.2 823.8,390.4 823.8,391.0 823.8,391.4 823.9,391.8 823.9,392.6 823.9,393.3 824.0,394.2 824.0,395.0 824.1,395.3 824.1,395.5 824.1,395.9 824.2,396.5 824.2,397.2 824.2,397.8 824.3,398.3 824.3,399.1 824.4,399.5 824.4,399.7 824.4,400.3 824.5,401.2 824.5,402.0 824.5,402.5 824.6,402.8 824.6,403.2 824.7,403.7 824.7,404.2 824.7,404.7 824.8,405.5 824.8,406.5 824.8,407.0 824.9,407.2 824.9,407.8 824.9,408.6 825.0,409.0 825.0,409.5 825.0,410.2 825.1,410.7 825.1,411.5 825.1,412.3 825.2,412.9 825.2,413.5 825.3,414.3 825.3,414.6 825.3,414.6 825.4,414.9 825.4,415.5 825.4,416.0 825.5,416.6 825.5,417.5 825.5,418.2 825.6,418.6 825.6,419.0" stroke-width="2.80"/>
<path d="M825.6,419.0 825.6,419.4 825.7,420.0 825.7,420.9 825.7,421.7 825.8,421.9 825.8,422.1 826.0,421.8 826.3,421.4 826.5,420.7 826.7,420.3 826.9,419.6 827.1,418.7 827.4,418.2 827.4,419.1 827.4,419.7 827.4,420.3 827.4,420.6 827.5,420.8 827.5,421.7 827.5,422.5 827.5,422.7 827.5,423.1 827.6,424.2 827.6,425.4 827.6,426.2 827.6,426.4 827.6,426.5 827.7,427.0 827.7,427.6 827.7,428.3 827.7,428.5 827.7,428.8 827.7,429.5 827.8,430.2 827.8,431.6 827.8,432.4 827.8,432.2 827.8,432.5 827.9,433.2 827.9,433.9 827.9,434.3 827.9,434.4 827.9,435.0 827.9,436.1 828.0,436.7 828.0,436.8 828.0,437.3 828.0,438.1 828.1,437.7 828.1,437.4 828.1,437.1 828.2,436.4 828.2,435.7 828.3,435.1 828.3,434.5 828.3,433.5 828.4,432.8 828.4,432.7 828.5,432.3 828.5,431.7 828.5,430.7 828.6,430.2 828.6,430.7 828.7,430.4 828.7,429.1 828.7,428.4 828.8,427.9 828.8,427.3 828.9,426.9 828.9,426.3 828.9,425.5 829.0,425.1 829.0,424.3 829.1,423.4 829.1,423.4 829.1,423.0 829.2,422.1 829.2,421.6 829.2,421.2 829.3,420.6 829.3,419.8 829.4,420.1 829.4,421.0 829.5,422.1 829.5,422.6 829.6,422.8 829.6,423.1 829.7,423.6 829.7,424.1 829.7,424.8 829.8,425.6 829.8,426.4 829.9,427.2 829.9,427.5 830.0,427.5 830.0,427.9 830.1,428.4 830.1,429.0 830.2,429.9 830.2,431.1 830.3,431.7 830.3,431.7 830.4,432.5 830.4,433.2 830.4,433.3 830.5,434.1 830.5,435.1 830.6,435.3 830.6,435.6 830.7,436.7 830.7,437.4 830.7,437.7 830.8,438.0 830.8,438.3 830.9,438.9 830.9,439.6 830.9,439.9 831.0,440.5 831.0,441.3 831.1,441.9" stroke-width="2.80"/>
<path d="M831.1,441.9 831.1,442.0 831.1,442.5 831.2,443.2 831.2,443.4 831.3,444.0 831.3,445.1 831.3,445.8 831.4,446.3 831.4,446.9 831.5,447.7 831.5,448.0 831.5,447.9 831.6,448.3 831.6,449.2 831.7,449.9 831.7,450.4 831.7,450.9 831.8,451.5 831.8,452.2 831.9,453.1 831.9,453.9 831.9,454.1 832.0,453.2 832.0,452.7 832.1,452.1 832.2,451.5 832.2,450.9 832.3,450.5 832.3,449.8 832.4,448.9 832.4,448.7 832.5,448.4 832.6,447.8 832.6,447.0 832.7,446.2 832.7,445.5 832.8,445.1 832.8,444.9 832.9,444.4 833.0,443.7 833.0,443.1 833.1,442.7 833.1,442.3 833.2,441.9 833.2,441.4 833.3,440.7 833.5,440.1 833.6,439.4 833.7,438.8 833.8,438.3 833.9,437.8 834.0,437.4 834.1,436.7 834.2,435.7 834.3,435.4 834.4,435.2 834.5,434.8 835.0,434.7 835.5,434.0 836.0,433.3 836.5,433.0 836.8,432.5 837.0,432.0 837.3,431.5 837.5,430.6 837.8,429.9 838.0,429.7 838.1,429.2 838.3,428.4 838.5,427.8 838.6,427.4 838.8,426.9 838.9,426.6 839.1,426.4 839.2,427.0 839.2,427.3 839.3,427.7 839.3,428.4 839.4,428.9 839.5,429.2 839.5,429.8 839.6,430.2 839.6,430.5 839.7,431.3 839.8,432.4 839.8,433.1 839.9,433.4 839.9,433.4 840.0,433.9 840.1,434.5 840.1,434.9 840.2,435.8 840.2,436.7 840.3,437.1 840.3,437.3 840.4,437.7 840.6,438.6 840.8,439.6 841.0,439.9 841.2,440.4 841.3,441.1 841.5,441.9 841.7,442.3 842.0,441.4 842.3,440.8 842.5,440.6 842.8,440.4 843.1,439.7 843.4,438.9 843.7,438.5 843.8,439.3 844.0,439.6 844.1,439.8 844.2,440.4 844.4,441.3 844.5,442.0 844.7,442.9 844.8,443.3 845.0,443.2 845.1,443.7" stroke-width="2.80"/>
<path d="M845.1,443.7 845.2,444.3 845.2,444.7 845.3,445.5 845.4,446.4 845.5,446.8 845.6,447.1 845.7,447.3 845.8,447.9 845.9,448.6 846.0,449.2 846.1,450.0 846.2,450.4 846.3,450.8 846.4,451.6 846.4,452.4 846.5,453.0 846.6,454.1 846.7,454.7 846.8,454.4 846.8,454.3 846.9,454.9 847.0,455.8 847.1,456.5 847.2,457.4 847.2,458.6 847.3,459.3 847.4,459.5 847.5,459.8 847.6,460.5 847.7,461.1 847.8,461.6 847.9,462.6 848.0,463.3 848.1,463.2 848.3,463.3 848.4,463.9 848.5,464.9 848.6,464.8 848.6,464.5 848.7,463.5 848.8,462.2 848.8,461.8 848.9,461.5 849.0,460.7 849.0,460.2 849.1,459.7 849.2,459.1 849.3,458.5 849.3,457.7 849.4,457.2 849.5,457.1 849.5,457.0 849.6,456.2 849.7,455.2 849.8,454.6 849.9,454.0 850.0,453.5 850.1,452.8 850.2,452.6 850.3,452.2 850.4,451.4 850.5,450.9 850.6,450.4 850.6,449.9 850.7,449.2 850.8,448.6 851.0,448.2 851.1,448.0 851.3,447.4 851.4,446.7 851.6,446.3 851.7,445.8 851.8,445.2 852.0,444.3 852.1,443.5 852.3,443.0 852.5,442.3 852.7,441.8 852.9,441.2 853.1,440.4 853.3,440.2 853.5,440.1 853.7,439.6 853.9,438.9 854.1,438.0 854.5,437.2 854.9,436.8 855.3,436.3 855.7,435.8 856.0,435.4 856.1,434.9 856.2,434.2 856.3,434.0 856.4,433.9 856.5,433.1 856.6,432.4 856.7,432.1 856.8,431.6 856.9,431.1 857.0,430.4 857.1,429.6 857.2,429.1 857.3,428.7 857.4,428.1 857.8,427.7 858.2,427.2 858.7,426.1 858.8,426.7 858.9,427.6 859.0,427.9 859.1,428.5 859.3,429.3 859.4,430.0 859.5,430.5 859.6,430.8 859.7,431.3 859.9,431.7 860.0,432.1 860.1,432.8 860.2,433.4" stroke-width="2.80"/>
<path d="M860.2,433.4 860.3,432.5 860.4,432.0 860.6,431.7 860.7,431.3 860.8,430.9 860.9,430.4 861.0,429.6 861.1,428.8 861.2,428.4 861.3,428.0 861.5,427.3 861.6,426.9 861.7,426.7 861.8,426.4 861.9,425.7 862.4,426.0 862.9,425.9 863.4,426.1 863.9,426.8 864.0,427.3 864.1,427.8 864.2,428.5 864.3,429.0 864.4,428.9 864.5,429.3 864.6,430.6 864.7,431.5 864.8,431.6 865.0,432.2 865.1,433.1 865.2,433.8 865.7,433.2 866.1,432.1 866.6,431.2 867.1,430.9 867.3,431.9 867.4,432.7 867.5,433.2 867.6,433.9 867.8,434.5 867.9,435.0 868.0,435.6 868.1,434.8 868.3,434.3 868.4,434.3 868.5,434.1 868.6,433.2 868.7,432.2 868.8,431.8 868.9,431.4 869.0,430.7 869.1,429.6 869.2,428.7 869.3,428.6 869.4,428.3 869.5,427.6 869.6,426.6 869.7,425.8 869.8,425.8 870.0,425.8 870.1,425.1 870.2,424.3 870.3,423.6 870.4,422.9 870.5,422.1 870.6,422.1 870.7,422.3 870.8,421.7 870.9,420.8 871.0,419.8 871.2,418.8 871.4,418.3 871.6,418.3 871.8,417.7 872.0,416.7 872.2,416.1 872.3,415.8 872.7,416.6 873.0,417.2 873.3,417.8 873.6,418.6 874.0,418.9 874.3,419.1 874.8,418.7 875.3,418.3 875.9,418.2 876.4,418.2 876.9,417.8 877.0,417.2 877.1,416.6 877.2,416.0 877.3,415.4 877.5,414.8 877.6,414.2 877.7,413.6 877.8,413.2 877.9,412.8 878.0,412.1 878.1,411.1 878.2,410.3 878.4,410.2 878.5,410.1 879.0,409.9 879.6,409.5 880.2,409.9 880.3,410.6 880.4,411.1 880.6,411.2 880.7,411.9 880.8,413.4 880.9,414.4 881.1,414.9 881.2,415.1 881.3,415.4 881.5,416.0 881.6,415.0 881.8,414.5 882.0,414.1 882.1,413.3 882.3,412.4" stroke-width="2.76"/>
<path d="M882.3,412.4 882.4,412.0 882.6,412.1 882.8,411.9 882.9,411.2 883.1,410.7 883.3,410.4 883.4,409.8 883.7,410.1 884.1,410.6 884.4,410.9 884.7,411.4 884.8,411.8 884.9,412.2 885.0,412.7 885.2,413.0 885.3,413.8 885.4,414.8 885.5,415.5 885.6,416.0 885.7,416.4 885.8,416.6 885.9,417.3 886.0,418.3 886.2,417.8 886.4,417.3 886.6,417.0 886.7,416.1 886.9,415.1 887.1,414.5 887.3,414.0 887.4,413.8 887.6,413.2 887.8,412.6 888.0,412.1 888.4,412.4 888.8,412.3 889.2,412.8 889.5,413.9 889.9,414.8 890.3,414.3 890.6,413.5 890.9,412.9 891.2,412.4 891.6,411.8 891.9,411.2 892.2,410.5 892.5,409.8 892.7,409.5 893.0,409.4 893.3,408.9 893.6,408.3 893.8,407.6 894.2,407.1 894.6,406.7 895.0,406.1 895.4,405.7 895.8,405.5 896.3,405.3 896.8,404.9 897.3,404.7 897.8,404.4 897.9,404.8 898.1,405.4 898.2,406.2 898.4,406.8 898.6,407.4 898.7,407.9 898.9,408.3 899.1,408.9 899.2,409.1 899.4,409.5 899.6,410.7 899.7,411.4 899.9,411.2 900.1,411.4 900.3,412.1 900.5,413.1 900.7,414.0 900.9,414.2 901.1,414.5 901.3,415.2 901.5,415.6 901.7,416.1 901.8,416.1 902.0,415.5 902.2,414.5 902.3,414.1 902.5,413.9 902.6,413.2 902.8,412.1 903.0,411.2 903.1,410.5 903.3,410.1 903.5,410.0 903.6,409.3 903.8,408.2 904.0,407.8 904.2,407.6 904.4,407.4 904.6,406.9 904.8,406.2 905.0,405.8 905.2,405.5 905.4,405.2 905.6,404.9 905.8,404.0 906.0,403.0 906.2,402.6 906.4,402.3 906.6,401.7 906.8,401.2 906.9,401.2 907.1,401.0 907.3,400.2 907.5,399.0 908.1,398.7 908.6,398.7 909.1,398.8 909.6,398.7 910.1,398.1" stroke-width="2.68"/>
<path d="M910.1,398.1 910.3,396.9 910.5,396.3 910.7,396.3 910.9,396.1 911.1,395.2 911.3,394.6 911.5,394.1 911.7,393.6 911.9,393.5 912.1,393.1 912.3,392.0 912.5,390.9 912.8,390.5 913.0,390.3 913.2,389.8 913.4,389.3 913.7,388.6 913.8,389.1 914.0,389.8 914.2,390.5 914.4,391.0 914.6,391.7 914.8,392.5 915.0,393.0 915.2,393.1 915.4,393.4 915.4,394.5 915.5,395.7 915.6,396.3 915.6,396.8 915.7,397.2 915.8,397.5 915.8,397.9 915.9,398.2 916.0,398.7 916.0,399.4 916.1,399.8 916.2,400.3 916.2,401.1 916.3,401.9 916.4,402.4 916.5,402.5 916.5,402.9 916.6,403.5 916.7,404.3 916.8,403.7 916.9,403.1 917.1,402.6 917.2,402.2 917.4,401.9 917.5,401.6 917.7,400.8 917.8,399.6 918.0,399.0 918.0,400.0 918.1,400.5 918.2,400.9 918.3,401.6 918.3,402.0 918.4,402.3 918.5,403.1 918.6,403.9 918.7,404.4 918.7,405.0 918.8,405.9 918.9,406.1 919.0,406.3 919.0,407.0 919.1,407.6 919.2,408.2 919.3,408.6 919.5,408.9 919.6,409.6 919.8,410.4 920.0,411.2 920.2,411.5 920.4,411.7 920.6,412.6 920.7,412.5 920.8,411.7 921.0,411.1 921.1,410.9 921.2,410.3 921.4,409.4 921.5,409.0 921.6,408.9 921.7,408.5 921.9,407.7 922.0,407.0 922.1,406.7 922.3,406.5 922.3,407.0 922.4,407.2 922.5,407.5 922.6,408.0 922.7,408.4 922.8,408.9 922.8,409.4 922.9,409.9 923.0,410.5 923.1,411.1 923.2,411.7 923.3,412.3 923.3,412.9 923.4,413.5 923.5,414.3 923.6,415.2 923.7,415.3 923.7,415.0 923.8,415.6 924.0,416.8 924.3,417.5 924.5,417.8 924.7,418.2 924.9,418.8 925.1,419.4 925.2,418.8 925.3,417.9 925.4,417.4 925.5,417.1" stroke-width="2.61"/>
<path d="M925.5,417.1 925.6,416.5 925.7,416.0 925.8,415.3 925.9,414.5 926.0,414.3 926.1,414.1 926.2,414.1 926.3,413.4 926.4,412.1 926.7,411.3 927.0,410.9 927.3,410.2 927.6,409.5 927.8,408.6 928.1,408.0 928.4,407.9 928.7,408.9 928.9,409.9 929.2,410.9 929.5,411.1 929.8,410.9 930.1,411.6 930.3,412.6 930.5,413.1 930.6,413.3 930.8,413.6 930.9,414.0 931.1,414.6 931.2,415.8 931.4,416.6 931.5,417.0 931.6,417.2 932.0,417.5 932.4,418.3 932.8,419.3 933.2,419.9 933.6,419.9 933.8,419.0 933.9,418.9 934.1,418.6 934.2,418.0 934.4,417.6 934.5,417.2 934.7,416.3 934.8,415.7 935.0,415.3 935.1,414.7 935.3,414.2 935.4,413.6 935.6,412.7 935.9,411.9 936.2,411.6 936.5,411.3 936.9,410.6 937.2,410.0 937.5,409.4 937.8,408.8 938.1,408.5 938.4,407.9 938.6,407.1 938.9,406.4 939.2,405.8 939.5,405.5 940.1,405.7 940.8,405.6 941.4,405.3 942.1,405.3 942.3,404.9 942.4,404.1 942.6,403.2 942.8,402.6 943.0,402.0 943.2,401.4 943.4,400.6 943.8,401.3 944.2,402.1 944.6,402.7 944.9,403.2 945.3,403.7 945.8,403.1 946.3,402.3 946.8,402.0 947.3,402.2 947.5,401.9 947.6,401.3 947.8,400.6 948.0,400.1 948.2,399.4 948.4,398.8 948.5,398.3 948.7,397.6 948.9,396.7 949.1,395.9 949.2,395.5 949.5,395.2 949.8,395.0 950.1,394.5 950.4,393.3 950.6,392.2 950.9,391.8 951.2,391.5 951.9,391.4 952.5,391.4 953.2,391.4 953.8,391.2 954.5,390.9 955.1,390.8 955.8,390.6 956.2,390.3 956.5,389.7 956.9,389.1 957.3,388.5 957.7,387.8 958.0,387.1 958.3,386.5 958.6,386.0 958.8,385.6 959.1,385.0 959.4,384.2 959.7,383.9" stroke-width="2.53"/>
<path d="M959.7,383.9 960.0,385.2 960.3,386.2 960.6,386.5 961.0,386.3 961.3,386.4 961.6,387.3 962.0,387.9 962.3,388.3 962.6,389.0 962.9,389.8 963.3,390.6 963.6,391.1 963.9,391.1 964.2,391.2 964.4,390.5 964.5,389.8 964.7,389.2 964.8,388.8 964.9,388.8 965.1,388.4 965.2,387.5 965.4,387.0 965.5,386.5 965.6,386.0 965.8,385.4 965.9,384.8 966.0,384.2 966.2,383.8 966.5,384.5 966.8,384.8 967.2,385.2 967.5,385.8 967.8,386.4 968.1,387.0 968.5,386.5 968.9,386.0 969.3,385.8 969.7,385.7 970.1,385.3 970.8,384.8 971.4,384.8 972.1,384.6 972.4,384.8 972.7,385.1 973.0,385.6 973.4,386.3 973.7,386.7 974.0,387.0 974.2,387.7 974.4,388.4 974.6,389.0 974.8,389.8 975.0,390.3 975.2,390.4 975.4,390.8 975.6,391.4 975.8,392.2 976.0,392.9 976.1,393.4 976.3,393.6 976.5,394.2 976.7,395.2 976.9,395.9 977.0,395.9 977.2,396.2 977.4,397.0 977.6,397.4 977.7,397.9 977.9,398.8 978.2,398.1 978.5,397.2 978.8,396.8 979.2,396.4 979.5,396.0 979.8,395.8 980.1,395.4 980.4,395.0 980.7,394.7 980.9,394.2 981.0,393.6 981.1,392.9 981.3,392.4 981.4,391.7 981.6,390.9 981.7,390.2 981.9,389.5 982.0,388.9 982.2,388.5 982.3,387.8 982.5,388.0 982.6,388.7 982.8,389.3 982.9,389.4 983.1,389.9 983.3,390.6 983.4,391.3 983.6,392.0 983.7,392.5 983.9,393.0 984.5,392.8 985.2,392.6 985.2,393.0 985.3,392.9 985.3,393.5 985.4,394.6 985.5,395.3 985.5,395.9 985.6,396.7 985.6,397.1 985.7,397.7 985.7,398.1 985.8,398.5 985.8,399.2 985.9,400.1 986.0,400.7 986.0,401.2 986.1,401.6 986.1,402.1 986.2,402.6 986.2,403.0" stroke-width="2.50"/>
<path d="M986.2,403.0 986.3,403.7 986.3,404.3 986.4,404.8 986.4,405.6 986.4,406.2 986.5,406.9 986.5,407.7 986.5,408.1 986.5,408.5 986.6,409.2 986.6,409.5 986.6,409.8 986.7,410.4 986.7,411.3 986.7,411.5 986.8,411.7 986.8,412.8 986.8,413.3 986.9,413.7 986.9,414.4 986.9,414.9 987.0,415.4 987.0,415.9 987.0,416.5 987.1,417.3 987.1,418.1 987.1,418.6 987.2,418.6 987.2,418.8 987.2,419.6 987.3,420.7 987.3,421.3 987.3,421.6 987.4,422.1 987.4,423.0 987.5,422.8 987.6,422.3 987.7,421.2 987.9,420.1 988.0,419.6 988.1,419.3 988.2,418.6 988.3,418.1 988.4,418.1 988.5,417.7 988.7,416.7 988.8,415.9 988.9,415.3 989.0,414.9 989.1,415.8 989.1,416.5 989.2,416.8 989.3,417.3 989.4,417.9 989.4,418.3 989.5,419.1 989.6,419.9 989.7,420.2 989.7,420.5 989.8,421.2 989.9,422.1 990.0,422.7 990.0,423.0 990.1,423.3 990.2,423.7 990.3,424.4 990.3,423.8 990.4,423.1 990.5,422.9 990.6,422.7 990.7,422.0 990.7,421.0 990.8,420.2 990.9,419.7 991.0,419.5 991.1,419.2 991.1,418.7 991.2,417.9 991.3,417.2 991.4,416.6 991.5,416.1 991.5,415.5 991.6,415.1 991.7,414.8 991.8,414.2 991.9,413.2 992.0,413.5 992.2,414.6 992.3,415.5 992.4,415.9 992.6,416.3 992.7,416.7 992.9,417.2 993.0,417.8 993.2,418.3 993.3,418.8 993.5,419.4 993.5,420.1 993.6,420.8 993.7,421.5 993.8,422.1 993.9,422.3 994.0,422.6 994.1,423.1 994.2,423.8 994.2,424.8 994.3,425.3 994.4,425.3 994.5,425.8 994.6,426.8 994.7,427.3 994.8,427.5 994.8,428.0 994.9,429.2 995.0,430.1 995.1,430.2 995.2,430.5 995.3,431.4 995.4,431.8 995.4,431.3" stroke-width="2.50"/>
<path d="M995.4,431.3 995.5,430.8 995.6,430.0 995.7,429.2 995.7,428.6 995.8,428.2 995.9,427.4 996.0,426.9 996.0,426.9 996.1,426.1 996.2,424.9 996.3,424.2 996.4,424.0 996.4,423.8 996.5,423.1 996.6,422.4 996.7,422.1 996.7,421.3 996.8,420.7 996.9,420.3 997.0,419.7 997.1,418.8 997.1,417.6 997.2,417.0 997.3,417.0 997.4,416.7 997.5,416.3 997.6,415.4 997.7,414.7 997.8,414.4 997.9,414.0 998.0,413.7 998.0,413.3 998.1,412.4 998.2,411.9 998.3,411.5 998.4,410.7 998.5,409.9 998.6,409.7 998.7,409.0 998.8,407.9 998.9,407.6 998.9,407.6 999.0,407.2 999.4,407.6 999.7,407.8 1000.1,408.1 1000.4,409.0 1000.8,410.1 1001.1,410.3 1001.3,410.1 1001.5,410.5 1001.6,411.4 1001.8,412.4 1002.0,413.3 1002.2,414.0 1002.3,414.2 1002.5,414.2 1002.7,414.7 1002.9,415.1 1003.0,415.5 1003.2,416.6 1003.4,417.3 1003.6,417.8 1003.8,418.6 1003.9,419.1 1004.1,419.2 1004.3,419.6 1004.4,419.5 1004.5,418.9 1004.6,418.0 1004.8,417.5 1004.9,417.4 1005.0,417.1 1005.1,416.4 1005.2,415.9 1005.4,415.0 1005.5,414.2 1005.6,414.1 1005.7,413.7 1005.8,412.7 1006.0,412.0 1006.1,411.2 1006.2,410.6 1006.4,411.7 1006.7,412.5 1006.9,412.8 1007.1,413.2 1007.3,414.1 1007.6,414.7 1007.8,414.9 1008.1,414.0 1008.3,413.5 1008.6,412.9 1008.9,412.2 1009.1,412.2 1009.4,412.3 1009.7,411.6 1009.9,410.8 1010.2,410.1 1010.4,409.6 1010.7,409.1 1011.0,408.3 1011.2,407.6 1011.5,407.2 1011.8,407.1 1012.0,406.4 1012.3,405.6 1012.6,405.2 1012.8,404.8 1013.1,404.3 1013.4,403.9 1013.6,403.1 1013.9,402.7 1014.2,402.5 1014.4,401.5 1014.7,400.5 1015.0,400.0 1015.6,400.2 1016.2,400.3 1016.8,400.1" stroke-width="2.49"/>
<path d="M1016.8,400.1 1017.4,399.7 1017.7,400.2 1018.1,400.9 1018.4,401.6 1018.8,401.7 1019.1,401.9 1019.5,402.5 1019.9,403.1 1020.2,403.7 1020.4,403.1 1020.6,402.4 1020.9,401.8 1021.1,401.2 1021.3,400.9 1021.5,400.6 1021.7,400.2 1021.9,399.4 1022.1,398.7 1022.5,399.8 1022.9,400.6 1023.3,400.3 1023.7,400.3 1024.1,401.0 1024.5,401.6 1024.7,402.0 1024.8,402.6 1025.0,403.3 1025.2,404.0 1025.3,404.5 1025.5,404.6 1025.6,404.8 1025.8,405.5 1026.0,406.7 1026.1,407.7 1026.5,407.0 1026.8,406.1 1027.1,405.3 1027.5,404.6 1027.8,403.9 1028.2,403.4 1028.5,403.1 1028.7,403.8 1028.9,404.4 1029.1,405.0 1029.3,405.6 1029.5,406.2 1029.7,406.8 1029.9,407.3 1030.1,407.8 1030.3,408.3 1030.5,408.8 1030.7,409.5 1030.9,410.0 1031.1,410.5 1031.2,411.1 1031.4,411.5 1031.6,412.3 1031.8,413.2 1032.0,414.1 1032.1,414.5 1032.3,414.6 1032.5,415.2 1032.8,415.8 1033.2,416.2 1033.5,416.6 1033.9,417.0 1034.2,417.6 1034.6,418.3 1034.8,417.8 1035.0,417.3 1035.3,417.0 1035.5,416.7 1035.8,416.1 1036.0,415.4 1036.2,414.6 1036.5,413.9 1036.8,413.6 1037.1,413.1 1037.4,412.5 1037.7,411.9 1038.0,411.7 1038.3,411.4 1038.6,410.7 1038.9,409.8 1039.1,410.2 1039.4,411.1 1039.6,412.0 1039.9,412.3 1040.2,412.3 1040.4,412.5 1040.7,413.6 1040.9,414.7 1041.6,414.4 1042.2,414.1 1042.8,414.2 1043.1,413.6 1043.4,413.0 1043.7,412.5 1044.0,412.3 1044.3,412.2 1044.6,411.4 1044.9,410.2 1045.2,409.5 1045.7,409.2 1046.2,409.2 1046.7,409.4 1047.1,409.4 1047.6,408.7 1047.9,407.5 1048.2,406.7 1048.4,406.3 1048.7,406.0 1048.9,405.8 1049.2,405.4 1049.5,404.8 1049.7,404.3 1050.0,403.9 1050.3,404.1 1050.6,404.4 1050.9,404.8" stroke-width="2.49"/>
<path d="M1050.9,404.8 1051.2,405.5 1051.5,406.1 1051.8,406.2 1052.1,406.7 1052.4,407.4 1053.0,407.7 1053.6,408.0 1054.2,408.1 1054.8,408.3 1055.4,408.6 1056.0,408.6 1056.6,408.4 1057.2,408.5 1057.8,409.2 1058.4,409.8 1059.0,409.8 1059.6,410.0 1059.7,410.5 1059.9,410.8 1060.0,411.7 1060.2,412.8 1060.4,413.3 1060.5,413.6 1060.7,413.9 1060.9,413.6 1061.2,413.2 1061.5,412.6 1061.7,412.2 1062.0,411.9 1062.2,411.1 1062.5,410.7 1062.8,410.7 1063.1,410.0 1063.4,409.1 1063.8,408.5 1064.1,408.1 1064.5,408.2 1064.8,408.1 1065.1,407.5 1065.6,407.1 1066.1,407.0 1066.6,407.6 1067.1,408.3 1067.5,408.6 1067.7,407.7 1067.9,407.0 1068.1,406.8 1068.3,406.4 1068.5,405.7 1068.7,405.2 1068.9,404.8 1069.1,403.8 1069.3,403.2 1069.5,403.2 1069.7,402.9 1069.9,402.1 1070.3,401.3 1070.6,401.2 1070.9,401.0 1071.3,400.2 1071.6,399.7 1072.0,399.3 1072.3,398.8 1072.7,398.0 1073.1,397.6 1073.5,397.7 1073.9,397.5 1074.3,396.8 1074.7,396.3 1075.1,397.0 1075.5,397.7 1075.9,397.8 1076.3,398.1 1076.7,398.6 1077.1,399.0 1077.4,398.3 1077.7,397.9 1078.0,397.7 1078.3,397.1 1078.6,396.3 1078.9,396.1 1079.2,396.1 1079.5,395.5 1080.1,395.7 1080.7,395.5 1081.3,395.4 1081.9,395.9 1082.1,396.5 1082.3,396.6 1082.5,397.3 1082.7,398.2 1083.0,398.6 1083.2,399.4 1083.4,399.8 1083.6,399.6 1083.8,399.8 1084.0,400.0 1084.3,400.5 1084.5,400.7 1084.7,400.5 1084.9,399.9 1085.1,399.5 1085.3,398.9 1085.5,398.2 1085.7,397.8 1085.9,397.4 1086.1,396.9 1086.3,396.2 1086.5,395.3 1086.7,394.6 1087.0,394.2 1087.3,393.5 1087.5,393.1 1087.8,393.0 1088.1,392.5 1088.4,391.9 1088.7,391.6 1089.0,391.0 1089.4,391.2 1089.8,391.4" stroke-width="2.49"/>
<path d="M1089.8,391.4 1090.2,392.0 1090.6,393.0 1091.0,393.3 1091.4,393.2 1091.7,393.6 1092.0,394.2 1092.2,394.9 1092.5,395.6 1092.8,396.2 1093.0,396.6 1093.3,396.9 1093.6,397.7 1093.8,398.4 1094.2,398.4 1094.6,398.6 1095.0,398.9 1095.4,399.3 1095.5,399.0 1095.7,398.7 1095.8,398.2 1095.9,398.0 1096.0,397.4 1096.2,396.4 1096.3,395.6 1096.4,394.7 1096.5,394.2 1096.6,394.3 1096.8,393.9 1096.9,393.4 1097.0,393.0 1097.3,392.2 1097.5,391.5 1097.8,391.1 1098.1,390.6 1098.3,389.7 1098.6,389.4 1098.9,389.4 1099.1,388.6 1099.4,387.9 1099.9,388.0 1100.4,387.8 1101.0,387.4 1101.5,387.2 1101.7,387.6 1101.9,388.1 1102.2,388.7 1102.4,389.1 1102.7,389.2 1102.9,389.7 1103.1,390.6 1103.4,391.2 1103.7,391.6 1104.0,392.4 1104.3,393.0 1104.6,393.0 1104.9,393.2 1105.2,393.9 1105.5,394.5 1105.8,395.2 1106.0,394.7 1106.2,394.1 1106.4,393.8 1106.6,393.2 1106.9,392.2 1107.1,391.2 1107.3,390.9 1107.5,391.5 1107.7,391.5 1107.9,390.5 1108.2,389.7 1108.6,389.3 1109.1,388.8 1109.6,388.3 1110.1,388.0 1110.5,388.0 1110.9,388.6 1111.2,388.9 1111.5,389.2 1111.8,390.0 1112.1,390.5 1112.3,389.7 1112.5,388.9 1112.6,388.2 1112.8,387.8 1112.9,387.5 1113.1,387.2 1113.3,386.4 1113.4,385.7 1113.6,385.2 1113.7,384.5 1114.1,384.1 1114.5,383.7 1114.9,383.2 1115.3,382.6 1115.7,382.2 1116.1,382.1 1116.7,382.3 1117.3,382.3 1117.9,382.7 1118.5,383.2 1119.1,382.7 1119.7,382.4 1120.3,382.8 1120.9,382.8 1121.3,382.7 1121.7,382.7 1122.1,383.1 1122.5,383.6 1122.8,383.0 1123.0,382.4 1123.3,382.1 1123.6,381.9 1123.8,381.4 1124.1,380.5 1124.4,379.5 1124.6,379.0 1124.9,378.6 1125.5,378.8 1126.1,379.0 1126.7,379.2" stroke-width="2.48"/>
<path d="M1126.7,379.2 1127.3,379.3 1127.5,379.5 1127.8,379.8 1128.1,380.5 1128.3,380.8 1128.6,381.2 1128.9,381.8 1129.0,382.7 1129.1,383.8 1129.2,384.3 1129.4,384.6 1129.5,385.0 1129.6,385.4 1129.7,385.5 1129.9,386.2 1130.0,387.2 1130.1,387.9 1130.2,388.4 1130.3,388.8 1130.5,389.6 1130.6,389.2 1130.8,388.6 1130.9,388.4 1131.1,388.0 1131.3,386.7 1131.4,385.8 1131.6,385.6 1131.7,385.6 1131.9,385.0 1132.1,383.9 1132.2,383.2 1132.4,383.2 1132.7,383.1 1133.1,382.5 1133.4,381.5 1133.8,380.7 1134.1,380.2 1134.4,379.6 1135.0,379.4 1135.6,379.8 1136.2,380.0 1136.8,379.5 1137.4,378.8 1138.0,378.5 1138.6,378.3 1139.2,378.1 1139.5,378.8 1139.8,379.2 1140.0,379.7 1140.3,380.4 1140.6,380.9 1140.8,381.4 1141.1,382.0 1141.3,382.3 1141.6,382.5 1142.2,382.6 1142.8,383.0 1143.4,382.6 1144.0,382.3 1144.6,382.5 1145.2,382.2 1145.8,382.6 1146.4,383.2 1146.7,382.7 1147.0,382.3 1147.3,381.7 1147.6,381.3 1147.9,380.8 1148.2,379.7 1148.5,379.0 1148.8,379.3 1149.4,379.5 1150.0,378.9 1150.6,378.4 1151.2,378.2 1151.7,378.1 1152.1,378.0 1152.6,377.4 1153.1,376.7 1153.6,376.4 1153.9,377.3 1154.2,377.9 1154.5,377.8 1154.8,378.1 1155.1,379.2 1155.4,379.9 1155.7,380.0 1156.0,379.9 1156.2,380.2 1156.4,381.3 1156.6,382.1 1156.8,382.5 1157.0,382.9 1157.3,383.3 1157.5,383.9 1157.7,384.4 1157.9,384.8 1158.1,385.3 1158.3,386.0 1158.9,386.7 1159.4,386.8 1159.9,386.6 1160.2,386.1 1160.5,386.2 1160.7,385.8 1161.0,384.8 1161.2,383.9 1161.5,383.4 1161.7,383.1 1162.0,382.8 1162.6,382.7 1163.3,382.5 1163.9,382.1 1164.2,382.8 1164.5,383.7 1164.8,383.9 1165.1,384.1 1165.4,384.7 1165.7,385.2 1166.0,385.6" stroke-width="2.48"/>
<path d="M1166.0,385.6 1166.3,386.1 1166.5,387.0 1166.6,387.5 1166.8,387.7 1166.9,388.1 1167.1,388.8 1167.3,389.8 1167.4,390.7 1167.6,390.9 1167.7,391.2 1167.9,392.0 1168.1,392.8 1168.2,393.4 1168.4,393.8 1168.5,394.3 1168.7,394.7 1168.9,395.1 1169.0,395.5 1169.2,396.1 1169.3,396.9 1169.5,397.2 1169.7,396.8 1169.8,397.6 1170.0,399.3 1170.1,399.0 1170.2,398.1 1170.4,397.4 1170.5,397.0 1170.7,396.5 1170.8,396.1 1170.9,395.6 1171.1,394.7 1171.2,393.9 1171.3,393.2 1171.5,392.6 1171.6,392.1 1171.7,391.5 1171.9,390.5 1172.2,390.0 1172.5,389.8 1172.8,389.5 1173.1,389.1 1173.4,388.5 1173.7,387.8 1174.0,387.4 1174.3,387.2 1174.9,386.9 1175.5,386.7 1176.1,386.8 1176.7,386.8 1177.1,386.8 1177.5,386.8 1177.9,387.2 1178.3,387.6 1178.7,387.8 1179.1,388.4 1179.2,389.4 1179.3,390.2 1179.4,390.7 1179.6,391.1 1179.7,391.6 1179.8,392.1 1179.9,393.1 1180.1,393.0 1180.2,392.4 1180.4,391.4 1180.5,390.7 1180.7,390.4 1180.8,389.7 1181.0,388.9 1181.2,388.5 1181.3,387.9 1181.5,386.7 1181.6,386.0 1181.8,385.9 1181.9,385.6 1182.1,386.0 1182.2,386.7 1182.4,387.8 1182.5,388.4 1182.7,388.6 1182.8,389.3 1183.0,390.2 1183.1,390.7 1183.3,390.8 1183.4,391.1 1183.6,391.7 1183.8,392.4 1184.3,393.1 1184.8,393.8 1185.3,394.1 1185.7,393.8 1186.2,393.4 1186.7,392.6 1187.1,392.1 1187.6,391.5 1187.8,390.8 1188.0,390.5 1188.2,390.1 1188.4,389.6 1188.7,389.0 1188.9,388.2 1189.1,387.8 1189.6,387.3 1190.0,386.9 1190.5,386.6 1190.9,385.9 1191.4,385.4 1191.6,386.1 1191.8,387.1 1192.0,388.0 1192.3,388.3 1192.5,388.6 1192.7,389.0 1192.9,389.2 1193.4,388.9 1193.8,388.8 1194.3,388.2 1194.8,387.6 1195.2,387.2" stroke-width="2.47"/>
<path d="M1195.2,387.2 1195.7,386.8 1196.1,386.7 1196.6,386.4 1197.0,385.9 1197.5,385.4 1198.1,386.1 1198.6,386.8 1199.2,386.9 1199.8,386.7 1200.3,386.9 1200.7,387.2 1201.2,387.7 1201.6,388.2 1202.1,388.4 1202.7,388.2 1203.2,388.4 1203.8,388.5 1204.4,388.4 1205.0,388.5 1205.5,388.8 1206.1,388.9 1206.7,388.8 1207.2,388.6 1207.8,388.5 1208.4,388.8 1209.0,388.9 1209.2,389.4 1209.5,390.0 1209.8,390.3 1210.1,390.8 1210.4,391.8 1210.7,392.2 1211.0,392.6 1211.3,393.2 1211.8,393.3 1212.4,393.6 1213.0,393.7 1213.5,393.7 1213.7,394.1 1213.9,394.8 1214.1,395.4 1214.3,395.6 1214.5,395.9 1214.7,396.6 1214.9,397.3 1215.1,398.2 1215.6,398.6 1216.2,398.1 1216.8,397.6 1217.4,397.7 1217.9,398.0 1218.4,398.5 1218.9,398.7 1218.9,398.8 1219.0,399.3 1219.0,400.5 1219.0,401.4 1219.1,401.6 1219.1,401.9 1219.1,402.6 1219.2,403.0 1219.2,403.7 1219.2,404.7 1219.3,405.2 1219.3,405.6 1219.3,406.2 1219.4,406.7 1219.4,407.1 1219.4,407.7 1219.5,408.3 1219.5,408.8 1219.6,409.2 1219.6,409.8 1219.6,410.6 1219.7,411.1 1219.9,410.2 1220.2,409.7 1220.4,409.6 1220.7,409.4 1220.9,408.9 1221.2,407.9 1221.4,407.1 1221.7,407.1 1221.9,407.1 1222.5,407.2 1223.0,407.2 1223.5,407.1 1223.6,407.4 1223.8,408.1 1223.9,409.0 1224.0,409.8 1224.2,410.2 1224.3,410.6 1224.4,411.5 1224.6,412.2 1224.7,412.4 1224.9,412.8 1225.0,413.1 1225.2,412.4 1225.3,412.5 1225.5,412.2 1225.6,411.4 1225.8,410.6 1225.9,410.0 1226.1,409.4 1226.2,408.6 1226.4,407.9 1226.5,407.5 1226.7,407.0 1226.8,406.6 1227.5,406.5 1228.2,405.9 1228.8,405.4 1229.3,405.0 1229.7,405.0 1230.2,404.8 1230.7,404.3 1231.1,404.1 1231.4,405.0 1231.7,405.2" stroke-width="2.47"/>
<path d="M1231.7,405.2 1232.0,405.4 1232.3,406.0 1232.6,406.8 1232.9,407.3 1233.4,407.0 1233.9,406.5 1234.4,406.0 1234.9,405.9 1235.0,406.8 1235.2,407.2 1235.3,407.1 1235.4,407.5 1235.5,408.3 1235.6,408.8 1235.7,409.5 1235.8,409.9 1235.9,410.3 1236.0,410.8 1236.1,411.2 1236.2,411.8 1236.4,412.6 1236.5,413.2 1236.8,413.7 1237.1,414.6 1237.4,415.0 1237.7,415.2 1238.0,415.9 1238.5,415.9 1239.0,415.3 1239.5,414.9 1239.6,415.4 1239.7,415.8 1239.8,416.2 1239.9,416.9 1240.0,417.7 1240.1,418.3 1240.2,418.7 1240.3,419.0 1240.4,419.7 1240.5,420.5 1240.6,420.7 1240.7,420.9 1240.8,421.8 1240.9,422.7 1241.0,423.5 1241.2,424.1 1241.4,424.5 1241.5,424.7 1241.7,424.7 1241.8,425.2 1242.0,426.2 1242.1,427.3 1242.3,427.7 1242.4,427.7 1242.6,428.1 1243.0,428.3 1243.5,428.1 1243.9,427.6 1244.4,427.7 1244.9,427.6 1245.1,427.6 1245.4,428.1 1245.6,428.8 1245.9,429.0 1246.1,429.3 1246.4,430.1 1246.6,429.5 1246.9,429.0 1247.1,428.5 1247.3,428.1 1247.5,427.6 1247.8,426.5 1248.0,425.8 1248.2,425.2 1248.3,424.5 1248.4,423.9 1248.5,423.4 1248.6,422.9 1248.7,422.2 1248.8,421.6 1248.9,421.0 1249.0,420.7 1249.1,420.5 1249.2,419.9 1249.3,419.1 1249.4,418.4 1249.5,417.9 1249.6,417.6 1249.7,417.1 1249.8,416.5 1250.3,416.3 1250.7,415.9 1251.2,415.4 1251.7,414.9 1252.2,414.5 1252.7,414.5 1253.1,414.3 1253.6,413.7 1254.0,413.2 1254.5,413.5 1255.1,413.9 1255.6,414.2 1255.8,413.4 1256.1,412.6 1256.3,412.2 1256.6,411.9 1256.8,411.6 1257.1,411.0 1257.3,410.3 1257.6,409.8 1257.9,409.0 1258.3,409.2 1258.8,409.7 1259.2,410.2 1259.7,410.8 1260.1,411.0 1260.4,411.5 1260.7,412.2 1260.9,412.5 1261.2,412.6" stroke-width="2.47"/>
<path d="M1261.2,412.6 1261.4,413.5 1261.7,414.5 1261.9,413.9 1262.2,413.2 1262.4,412.8 1262.7,412.4 1262.9,411.6 1263.2,410.8 1263.5,410.2 1263.7,410.1 1264.0,409.9 1264.3,409.0 1264.6,408.2 1264.9,407.6 1265.2,407.3 1265.5,407.2 1265.7,407.8 1266.0,408.4 1266.3,409.2 1266.5,409.4 1266.8,409.2 1267.0,409.7 1267.1,410.9 1267.3,411.5 1267.4,411.6 1267.5,411.9 1267.7,412.7 1267.8,413.8 1267.9,414.2 1268.0,414.6 1268.2,415.2 1268.3,415.9 1268.4,416.4 1268.5,416.3 1268.6,415.6 1268.7,415.5 1268.8,415.1 1268.9,414.6 1269.0,414.0 1269.1,413.0 1269.2,412.9 1269.3,412.8 1269.4,412.4 1269.5,411.6 1269.6,410.8 1269.7,410.6 1269.8,410.3 1269.9,409.6 1270.0,408.8 1270.1,407.9 1270.6,407.3 1271.2,407.3 1271.8,407.6 1272.4,407.3 1272.9,406.7 1273.5,406.5 1274.1,406.4 1274.7,406.4 1275.2,406.4 1275.8,406.0 1276.4,405.7 1277.0,405.6 1277.5,405.5 1278.1,405.4 1278.7,405.7 1279.2,405.8 1279.5,406.5 1279.7,407.2 1279.9,407.2 1280.1,407.5 1280.3,408.5 1280.6,409.4 1280.8,409.5 1281.2,409.1 1281.7,408.9 1282.1,408.2 1282.6,407.3 1283.1,406.8 1283.5,407.8 1284.0,408.2 1284.4,408.5 1284.9,409.0 1285.4,409.3 1285.8,410.0 1286.3,410.4 1286.7,410.6 1287.2,411.4 1287.6,411.8 1288.0,412.1 1288.3,412.9 1288.6,413.5 1288.9,414.0 1288.9,413.5 1289.0,413.0 1289.1,412.6 1289.2,412.3 1289.2,411.6 1289.3,410.8 1289.4,410.2 1289.5,409.6 1289.5,409.1 1289.6,408.6 1289.7,408.0 1289.7,407.6 1289.8,407.1 1289.9,406.6 1290.0,405.5 1290.0,404.6 1290.1,404.5 1290.2,404.0 1290.3,403.4 1290.3,403.0 1290.4,402.7 1290.7,402.3 1290.9,401.7 1291.2,400.8 1291.4,400.1 1291.7,399.7 1292.0,399.0 1292.2,398.2" stroke-width="2.46"/>
<path d="M1292.2,398.2 1292.5,398.1 1292.7,397.6 1292.9,397.0 1293.1,396.8 1293.4,396.3 1293.6,395.5 1293.8,394.9 1294.1,394.5 1294.5,394.8 1294.9,395.2 1295.3,395.8 1295.7,395.9 1296.1,396.1 1296.6,396.3 1297.2,396.4 1297.8,396.7 1298.3,397.0 1298.8,396.8 1299.3,396.8 1299.7,397.0 1300.2,397.0 1300.6,397.5 1301.1,397.8 1301.6,397.8 1302.0,397.8 1302.5,397.6 1302.9,396.7 1303.4,395.8 1303.8,395.7 1304.3,395.6 1304.8,395.5 1305.2,395.0 1305.8,394.9 1306.4,395.2 1306.9,395.3 1307.5,395.0 1307.8,395.3 1308.0,396.2 1308.3,397.0 1308.6,397.3 1308.8,397.6 1309.1,398.1 1309.3,399.0 1309.8,399.4 1310.3,399.6 1310.8,399.8 1311.3,400.1 1311.8,399.8 1312.2,399.7 1312.7,399.8 1313.2,399.6 1313.6,398.9 1314.1,398.1 1314.5,397.9 1315.0,398.1 1315.5,398.3 1315.9,398.2 1316.3,398.4 1316.7,398.4 1317.1,398.6 1317.5,399.0 1317.9,399.4 1318.3,400.0 1318.6,400.6 1319.0,401.1 1319.4,401.4 1319.7,401.8 1320.2,401.4 1320.6,400.8 1321.1,400.5 1321.6,400.5 1322.0,400.5 1322.6,400.6 1323.2,400.4 1323.7,400.2 1324.3,400.0 1324.8,399.9 1325.2,399.9 1325.7,400.3 1326.1,400.8 1326.6,401.3 1327.1,401.0 1327.5,400.5 1328.0,400.5 1328.4,400.5 1328.9,399.9 1329.5,399.4 1330.1,399.1 1330.3,399.3 1330.5,399.5 1330.7,400.4 1330.9,401.1 1331.0,401.3 1331.2,401.8 1331.4,402.4 1331.6,402.8 1331.8,403.4 1332.0,403.9 1332.3,404.2 1332.7,405.0 1333.1,405.8 1333.4,406.4 1333.8,406.5 1334.3,405.8 1334.8,405.3 1335.3,404.8 1335.8,404.5 1336.2,404.6 1336.7,404.5 1337.2,404.2 1337.6,403.5 1338.1,403.1 1338.3,402.8 1338.5,402.3 1338.7,401.7 1338.9,401.2 1339.2,400.4 1339.4,399.8 1339.6,399.4 1340.1,398.9" stroke-width="2.46"/>
<path d="M1340.1,398.9 1340.5,398.5 1341.0,398.2 1341.4,398.0 1341.9,397.5 1342.5,397.3 1343.0,397.5 1343.6,398.2 1344.2,398.6 1344.8,398.5 1345.3,399.0 1345.9,399.0 1346.5,398.9 1347.0,399.2 1347.5,399.3 1348.0,399.5 1348.4,398.8 1348.8,398.6 1349.1,398.2 1349.5,397.4 1349.9,396.6 1350.3,396.0 1350.9,396.5 1351.4,397.0 1352.0,397.0 1352.6,397.0 1353.0,396.9 1353.5,396.9 1354.0,396.4 1354.4,395.9 1354.9,395.4 1355.2,394.8 1355.4,394.2 1355.7,393.7 1356.0,392.9 1356.3,392.3 1356.6,391.8 1356.9,391.2 1357.2,390.9 1357.7,391.1 1358.3,391.2 1358.9,391.1 1359.5,390.7 1359.5,391.0 1359.6,391.5 1359.6,392.3 1359.7,393.1 1359.7,393.5 1359.8,393.6 1359.8,393.8 1359.9,394.3 1359.9,395.0 1360.0,395.7 1360.0,396.5 1360.1,397.3 1360.1,397.7 1360.2,397.7 1360.3,398.2 1360.3,399.0 1360.4,400.0 1360.4,400.7 1360.5,401.1 1360.5,401.7 1360.6,402.5 1360.6,402.9 1360.7,403.1 1360.9,402.8 1361.2,402.5 1361.4,401.5 1361.7,401.1 1362.0,400.9 1362.2,400.2 1362.8,400.4 1363.4,400.5 1364.0,400.4 1364.3,400.0 1364.6,399.9 1364.8,399.5 1365.1,398.9 1365.3,398.2 1365.6,397.8 1365.8,398.7 1366.1,399.4 1366.4,399.9 1366.6,400.5 1366.9,401.1 1367.1,401.5 1367.4,402.0 1367.6,402.5 1367.7,403.2 1367.9,403.9 1368.0,404.3 1368.2,404.6 1368.3,404.8 1368.5,405.5 1368.6,406.6 1369.2,406.4 1369.8,406.0 1370.5,405.7 1370.9,405.0 1371.3,404.6 1371.7,404.1 1372.0,403.3 1372.4,403.2 1372.9,404.1 1373.4,404.6 1373.9,404.6 1374.4,404.8 1374.7,404.7 1375.0,404.4 1375.3,404.1 1375.7,403.5 1376.0,402.5 1376.3,401.8 1376.8,401.8 1377.4,401.7 1378.0,402.0 1378.6,402.1" stroke-width="2.45"/>
</g>
<g font-family='"Liberation Sans", "DejaVu Sans", sans-serif' font-size="23.8" fill="#000">
<text x="176.2" y="499.1" text-anchor="middle">1997</text>
<text x="320.1" y="499.1" text-anchor="middle">2000</text>
<text x="464.1" y="499.1" text-anchor="middle">2002</text>
<text x="608.1" y="499.1" text-anchor="middle">2005</text>
<text x="753.1" y="499.1" text-anchor="middle">2007</text>
<text x="896.2" y="499.1" text-anchor="middle">2010</text>
<text x="1039.1" y="499.1" text-anchor="middle">2012</text>
<text x="1183.2" y="499.1" text-anchor="middle">2015</text>
<text x="1327.6" y="499.1" text-anchor="middle">2017</text>
<text x="77.6" y="292.6" text-anchor="end">1.4</text>
<text x="77.6" y="329.4" text-anchor="end">1.2</text>
<text x="77.6" y="366.2" text-anchor="end">1</text>
<text x="77.6" y="402.7" text-anchor="end">0.8</text>
<text x="77.6" y="439.4" text-anchor="end">0.6</text>
<text x="77.6" y="475.7" text-anchor="end">0.4</text>
</g>
<g stroke="#262626" stroke-width="1" fill="none">
<rect x="87.5" y="542.8" width="1291.0" height="192.7"/>
<path d="M175.6 542.4v12.8M175.6 735.5v-12.8"/>
<path d="M319.5 542.4v12.8M319.5 735.5v-12.8"/>
<path d="M463.5 542.4v12.8M463.5 735.5v-12.8"/>
<path d="M607.5 542.4v12.8M607.5 735.5v-12.8"/>
<path d="M752.5 542.4v12.8M752.5 735.5v-12.8"/>
<path d="M895.6 542.4v12.8M895.6 735.5v-12.8"/>
<path d="M1038.5 542.4v12.8M1038.5 735.5v-12.8"/>
<path d="M1182.6 542.4v12.8M1182.6 735.5v-12.8"/>
<path d="M1327.0 542.4v12.8M1327.0 735.5v-12.8"/>
<path d="M87.5 596.8h12.8M1378.5 596.8h-12.8"/>
<path d="M87.5 656.5h12.8M1378.5 656.5h-12.8"/>
<path d="M87.5 716.3h12.8M1378.5 716.3h-12.8"/>
</g>
<g shape-rendering="auto">
<rect x="87.15" y="542.1" width="1.8" height="193.9" fill="#d2cdc9"/>
<rect x="91.9" y="542.1" width="3.0" height="193.9" fill="#d2cdc9"/>
<rect x="96.2" y="542.1" width="1.1" height="193.9" fill="#d2cdc9"/>
<rect x="98.2" y="542.1" width="1.5" height="193.9" fill="#d2cdc9"/>
<rect x="105.0" y="542.1" width="1.8" height="193.9" fill="#d2cdc9"/>
<rect x="115.9" y="542.1" width="16.9" height="193.9" fill="#d2cdc9"/>
<rect x="144.1" y="542.1" width="1.7" height="193.9" fill="#e6e3e1"/>
<rect x="341.3" y="542.1" width="8.0" height="193.9" fill="#d2cdc9"/>
<rect x="351.0" y="542.1" width="54.7" height="193.9" fill="#d2cdc9"/>
<rect x="416.0" y="542.1" width="17.1" height="193.9" fill="#d2cdc9"/>
<rect x="825.2" y="542.1" width="28.5" height="193.9" fill="#d2cdc9"/>
<rect x="172.1" y="542.1" width="64.7" height="193.9" fill="#83818e"/>
<rect x="642.0" y="542.1" width="5.9" height="193.9" fill="#83818e"/>
<rect x="647.9" y="542.1" width="3.7" height="193.9" fill="#b3b2bc"/>
<rect x="660.0" y="542.1" width="26.7" height="193.9" fill="#83818e"/>
<rect x="1013.0" y="542.1" width="1.6" height="193.9" fill="#b5b4c0"/>
<rect x="1097.0" y="542.1" width="2.9" height="193.9" fill="#9493a0"/>
<rect x="1150.7" y="542.1" width="16.9" height="193.9" fill="#83818e"/>
<rect x="1172.0" y="542.1" width="1.8" height="193.9" fill="#8f8e9b"/>
<rect x="1173.8" y="542.1" width="2.2" height="193.9" fill="#c4c3cc"/>
<rect x="1190.7" y="542.1" width="2.3" height="193.9" fill="#9c9ba7"/>
<rect x="1197.0" y="542.1" width="13.8" height="193.9" fill="#83818e"/>
</g>
<path d="M241.3 542.6V735.5" stroke="#97200a" stroke-width="3.3" stroke-dasharray="3.2 3.38" fill="none"/>
<path d="M247.9 542.6V735.5" stroke="#97200a" stroke-width="3.3" stroke-dasharray="3.2 3.38" fill="none"/>
<path d="M363.9 542.6V735.5" stroke="#97200a" stroke-width="3.3" stroke-dasharray="3.2 3.38" fill="none"/>
<path d="M388.0 542.6V735.5" stroke="#97200a" stroke-width="3.3" stroke-dasharray="3.2 3.38" fill="none"/>
<path d="M417.9 542.6V735.5" stroke="#97200a" stroke-width="3.3" stroke-dasharray="3.2 3.38" fill="none"/>
<path d="M478.6 542.6V735.5" stroke="#97200a" stroke-width="3.3" stroke-dasharray="3.2 3.38" fill="none"/>
<path d="M755.0 542.6V735.5" stroke="#97200a" stroke-width="3.3" stroke-dasharray="3.2 3.38" fill="none"/>
<path d="M782.3 542.6V735.5" stroke="#97200a" stroke-width="3.3" stroke-dasharray="3.2 3.38" fill="none"/>
<path d="M790.0 542.6V735.5" stroke="#97200a" stroke-width="3.3" stroke-dasharray="3.2 3.38" fill="none"/>
<path d="M807.0 542.6V735.5" stroke="#97200a" stroke-width="6.9" stroke-dasharray="3.2 3.38" fill="none"/>
<path d="M824.6 542.6V735.5" stroke="#97200a" stroke-width="6.4" stroke-dasharray="3.2 3.38" fill="none"/>
<path d="M832.0 542.6V735.5" stroke="#97200a" stroke-width="6.0" stroke-dasharray="3.2 3.38" fill="none"/>
<path d="M839.6 542.6V735.5" stroke="#97200a" stroke-width="3.0" stroke-dasharray="3.2 3.38" fill="none"/>
<path d="M846.4 542.6V735.5" stroke="#97200a" stroke-width="5.8" stroke-dasharray="3.2 3.38" fill="none"/>
<path d="M915.7 542.6V735.5" stroke="#97200a" stroke-width="5.8" stroke-dasharray="3.2 3.38" fill="none"/>
<path d="M930.1 542.6V735.5" stroke="#97200a" stroke-width="3.3" stroke-dasharray="3.2 3.38" fill="none"/>
<path d="M984.8 542.6V735.5" stroke="#97200a" stroke-width="4.2" stroke-dasharray="3.2 3.38" fill="none"/>
<path d="M993.1 542.6V735.5" stroke="#97200a" stroke-width="3.3" stroke-dasharray="3.2 3.38" fill="none"/>
<path d="M1003.0 542.6V735.5" stroke="#97200a" stroke-width="3.3" stroke-dasharray="3.2 3.38" fill="none"/>
<path d="M1240.3 542.6V735.5" stroke="#97200a" stroke-width="3.3" stroke-dasharray="3.2 3.38" fill="none"/>
<path d="M1246.0 542.6V735.5" stroke="#97200a" stroke-width="3.3" stroke-dasharray="3.2 3.38" fill="none"/>
<path d="M1360.4 542.6V735.5" stroke="#97200a" stroke-width="3.3" stroke-dasharray="3.2 3.38" fill="none"/>
<g stroke="#000" fill="none" stroke-linejoin="round" stroke-linecap="round" clip-path="url(#c2)">
<path d="M86.4,735.5 87.0,735.3 87.6,735.1 88.2,735.1 88.8,734.8 89.3,734.7 89.9,735.0 90.4,735.0 91.0,735.1 91.5,735.4 92.1,735.4 92.6,735.2 93.1,734.6 93.7,734.0 94.3,734.0 94.8,734.0 95.4,734.0 96.0,734.0 96.6,733.8 97.2,733.7 97.7,733.5 98.3,733.5 98.9,733.5 99.5,733.3 100.1,733.1 100.6,733.0 101.2,732.8 101.8,732.5 102.4,732.4 103.0,732.4 103.5,732.5 104.1,732.4 104.7,731.9 105.3,731.8 105.9,731.9 106.4,731.8 107.0,731.5 107.6,731.1 108.2,730.9 108.8,730.8 109.3,730.6 109.9,730.4 110.5,730.2 111.1,730.3 111.6,730.3 112.2,730.1 112.8,730.0 113.4,729.8 114.0,729.7 114.5,730.1 115.1,730.5 115.6,730.6 116.1,730.9 116.7,731.1 117.2,731.4 117.8,731.5 118.3,731.6 118.7,731.9 119.2,732.2 119.6,732.4 120.0,732.8 120.5,733.4 121.1,733.8 121.7,734.0 122.4,734.2 122.8,733.8 123.2,733.4 123.7,732.9 124.1,732.7 124.7,732.6 125.3,732.4 125.8,732.3 126.4,732.1 127.0,731.9 127.6,731.8 128.2,731.6 128.7,731.3 129.3,731.2 129.9,731.2 130.5,730.9 131.1,730.8 131.6,730.8 132.2,730.9 132.8,730.7 133.4,730.4 134.0,730.2 134.5,730.4 135.1,730.4 135.7,730.1 136.3,729.9 136.8,729.8 137.4,729.6 138.0,729.4 138.6,729.2 139.2,728.8 139.7,728.7 140.3,728.6 140.9,728.3 141.5,728.0 142.1,727.9 142.6,728.2 143.2,728.3 143.8,728.2 144.4,728.3 145.0,728.4 145.5,728.5 146.1,728.4 146.7,727.9 147.3,727.5 147.9,727.3 148.4,727.2 149.0,727.0 149.6,726.8 150.2,726.7 150.7,726.8 151.3,726.7 151.9,726.7 152.5,726.9 153.1,727.1 153.6,726.7 154.2,726.5" stroke-width="2.00"/>
<path d="M154.2,726.5 154.8,726.6 155.4,726.6 156.0,726.6 156.5,726.7 157.1,726.8 157.7,726.7 158.3,726.6 158.9,726.6 159.4,726.7 159.9,726.9 160.5,727.2 161.0,727.5 161.6,727.9 162.1,728.2 162.7,728.4 163.2,728.6 163.8,728.7 164.4,728.8 164.9,728.6 165.4,728.0 165.9,727.5 166.4,726.9 166.8,726.7 167.4,726.9 167.9,726.7 168.5,726.1 169.0,725.6 169.5,725.2 170.0,724.9 170.4,724.5 170.9,724.0 171.4,723.4 171.9,723.0 172.5,723.0 173.1,722.9 173.6,722.6 174.2,722.3 174.8,722.0 175.3,721.4 175.8,720.9 176.2,720.8 176.7,720.3 177.2,719.8 177.7,719.6 178.3,719.5 178.8,719.2 179.4,719.2 180.0,719.3 180.6,718.8 181.1,718.5 181.7,718.4 182.2,718.7 182.8,719.1 183.2,718.4 183.6,717.9 184.1,717.6 184.5,717.1 184.9,716.7 185.5,716.6 186.0,716.4 186.6,715.8 187.1,715.3 187.5,715.0 188.0,714.7 188.4,714.1 188.8,713.3 189.3,713.0 189.8,712.9 190.4,712.6 190.9,712.3 191.4,711.8 191.9,712.0 192.4,712.3 192.9,713.0 193.2,713.9 193.5,714.4 193.8,714.8 194.1,715.3 194.3,715.5 194.9,715.1 195.4,714.9 196.0,714.9 196.5,714.9 197.2,714.9 198.0,714.7 198.7,715.0 199.2,714.7 199.8,714.2 200.3,713.8 200.9,713.6 201.4,713.9 201.9,714.1 202.5,714.1 203.0,714.4 203.5,714.0 204.0,713.6 204.5,713.2 204.9,713.7 205.3,714.0 205.8,714.7 206.2,715.5 206.7,715.7 207.1,715.1 207.5,714.7 208.0,714.4 208.4,714.3 208.8,714.1 209.3,713.7 209.7,713.3 210.1,712.8 210.6,712.3 211.0,711.7 211.6,711.2 212.2,710.8 212.7,710.4 213.3,710.2 213.9,710.2 214.3,709.7 214.8,709.2 215.2,708.7" stroke-width="2.08"/>
<path d="M215.2,708.7 215.6,708.2 216.1,708.1 216.6,707.9 217.2,707.6 217.7,707.3 218.2,706.9 218.8,706.8 219.4,706.6 220.0,706.3 220.6,706.1 221.1,706.0 221.7,706.2 222.2,706.1 222.8,706.0 223.3,706.4 223.8,706.9 224.4,707.0 224.9,707.4 225.5,707.7 225.9,708.0 226.3,708.3 226.8,708.5 227.2,708.8 227.7,709.3 228.2,709.6 228.7,710.1 229.3,710.4 229.8,710.7 230.4,710.7 230.9,710.8 231.5,711.1 232.0,711.4 232.5,711.1 233.1,710.9 233.6,710.8 234.2,710.8 234.7,711.2 235.3,711.3 235.8,711.5 236.3,711.8 236.5,711.9 236.8,712.3 237.0,713.1 237.2,713.8 237.4,714.3 237.6,714.6 237.8,714.9 238.1,715.6 238.5,716.6 238.9,717.2 239.2,717.6 239.7,718.0 240.2,718.1 240.6,718.4 241.1,718.8 241.3,719.3 241.5,719.9 241.6,720.6 241.8,721.2 242.0,722.0 242.2,722.5 242.3,722.8 242.5,723.4 242.7,724.1 242.9,724.7 243.3,724.1 243.8,723.8 244.3,723.4 244.9,723.1 245.5,722.7 246.0,722.2 246.5,721.7 247.0,721.5 247.5,720.9 247.6,721.4 247.7,722.0 247.9,722.6 248.0,723.2 248.1,723.6 248.2,724.4 248.3,725.4 248.5,725.6 248.6,725.8 248.7,726.5 248.8,727.3 248.9,727.9 249.1,727.2 249.4,726.6 249.6,726.3 249.8,725.6 250.0,724.9 250.2,724.5 250.4,724.1 250.5,723.6 250.7,723.0 250.8,722.5 251.0,722.0 251.1,721.4 251.3,720.7 251.4,720.1 251.5,719.7 252.0,719.4 252.4,719.0 252.8,718.7 253.3,718.2 253.7,717.8 254.3,718.1 254.8,718.1 255.3,718.1 255.9,718.2 256.4,718.5 257.0,718.9 257.5,719.0 258.1,719.1 258.5,719.2 259.0,719.6 259.5,720.2 259.9,719.9 260.2,719.8 260.6,719.2" stroke-width="2.09"/>
<path d="M260.6,719.2 261.0,718.3 261.3,717.8 261.7,717.4 262.3,717.3 262.8,717.1 263.4,717.0 263.8,717.5 264.2,717.6 264.6,717.9 264.9,718.5 265.3,719.0 265.7,719.5 266.2,719.9 266.6,720.4 267.0,720.8 267.5,721.1 267.9,721.5 268.3,722.2 268.8,722.9 269.2,723.2 269.6,723.4 270.4,723.4 271.1,723.2 271.8,723.1 272.4,723.2 272.9,723.3 273.5,722.9 274.0,722.7 274.5,723.3 275.1,723.8 275.6,724.1 276.2,724.4 276.7,724.4 277.3,724.1 277.8,723.7 278.3,723.3 278.5,722.7 278.7,722.2 278.9,721.7 279.1,721.2 279.2,720.7 279.4,720.1 279.6,719.5 279.8,718.9 280.2,718.2 280.7,717.7 281.1,717.5 281.5,717.2 282.0,716.9 282.6,716.9 283.2,716.8 283.8,716.7 284.4,716.8 285.0,716.9 285.5,716.7 286.1,716.4 286.6,716.1 287.1,715.8 287.6,715.8 288.2,715.7 288.7,715.2 289.2,714.8 289.7,714.8 290.1,714.6 290.6,714.1 291.1,713.8 291.6,713.7 292.1,713.8 292.7,714.1 293.2,714.4 293.8,714.4 294.2,714.8 294.6,715.3 295.1,715.7 295.5,715.9 295.9,716.3 296.5,716.6 297.1,717.1 297.7,717.2 298.2,717.2 298.8,717.3 299.4,717.4 300.0,717.6 300.6,717.7 301.1,717.7 301.7,718.0 302.2,718.5 302.7,719.0 303.2,719.6 303.7,720.1 304.1,720.2 304.6,720.5 305.1,720.9 305.6,721.2 306.1,721.4 306.6,721.5 307.0,721.8 307.5,722.2 308.1,721.8 308.6,721.4 309.1,721.2 309.7,720.9 310.1,720.5 310.6,720.2 311.0,719.5 311.4,718.8 311.9,718.4 312.4,719.0 313.0,719.4 313.6,719.5 314.2,719.8 314.8,720.1 315.3,720.3 315.9,720.6 316.5,720.8 317.1,720.6 317.7,720.8 318.1,720.7 318.5,720.6 319.0,720.2" stroke-width="2.08"/>
<path d="M319.0,720.2 319.4,719.5 319.8,719.3 320.4,719.3 320.9,719.0 321.5,718.7 322.0,718.5 322.4,718.8 322.9,719.2 323.3,719.7 323.7,719.8 324.2,720.1 324.6,720.8 325.0,721.5 325.5,722.0 325.9,722.4 326.3,722.8 326.9,723.0 327.5,723.4 328.1,723.7 328.7,723.7 329.2,723.7 329.7,723.5 330.1,723.1 330.5,722.5 331.0,722.1 331.4,722.0 331.8,721.7 332.1,720.9 332.5,720.2 332.9,719.9 333.2,719.5 333.6,719.2 334.1,719.4 334.7,719.5 335.2,719.8 335.8,720.2 336.2,719.9 336.6,719.4 337.1,719.0 337.5,718.8 337.9,718.4 338.5,718.4 339.1,718.7 339.7,718.8 340.2,718.6 340.8,718.4 341.4,718.1 342.0,717.9 342.6,717.9 343.1,717.6 343.7,717.4 344.3,717.6 344.9,717.9 345.5,718.2 346.0,718.7 346.6,719.0 347.2,718.5 347.8,718.0 348.4,717.5 348.9,717.4 349.5,717.5 350.1,717.6 350.7,717.7 351.3,718.1 351.8,718.4 352.4,718.6 353.0,718.4 353.6,717.7 354.1,717.2 354.7,717.1 355.3,716.9 355.9,716.6 356.5,716.4 357.0,716.5 357.6,716.5 358.2,716.1 358.7,715.7 359.3,715.4 359.8,715.2 360.4,715.1 360.8,715.5 361.2,715.7 361.7,716.0 362.1,716.5 362.5,717.1 362.9,717.4 363.2,717.5 363.5,717.9 363.8,718.6 364.1,719.1 364.4,719.5 364.7,720.0 365.2,719.8 365.6,719.6 366.0,719.2 366.5,718.7 366.9,718.3 367.5,718.0 368.1,718.0 368.6,717.7 369.2,717.4 369.8,717.1 370.4,717.5 370.9,718.0 371.5,718.1 372.1,718.2 372.7,718.4 373.2,718.0 373.7,717.7 374.1,717.4 374.6,717.2 375.1,717.0 375.6,716.8 376.1,716.4 376.5,715.8 377.0,715.3 377.5,714.8 378.0,714.3 378.5,714.0 379.1,713.9" stroke-width="2.08"/>
<path d="M379.1,713.9 379.6,713.7 380.2,713.2 380.8,712.7 381.4,712.2 382.0,712.1 382.5,712.3 383.1,712.4 383.7,712.2 384.3,711.8 384.9,711.9 385.4,712.3 386.0,712.8 386.6,713.2 387.2,713.4 387.5,713.8 387.9,714.3 388.3,714.9 388.6,715.3 389.0,715.5 389.3,715.7 389.9,716.1 390.4,716.6 391.0,716.9 391.5,717.0 392.1,716.6 392.6,716.2 393.1,716.0 393.7,715.7 394.0,715.2 394.4,714.8 394.8,714.4 395.1,713.7 395.5,712.8 395.9,712.3 396.2,712.0 396.6,711.4 396.9,711.0 397.3,710.8 397.7,710.3 398.0,709.7 398.6,709.2 399.1,709.1 399.7,709.0 400.2,708.8 400.8,709.5 401.4,709.9 401.9,709.8 402.5,710.0 403.1,710.7 403.7,710.5 404.3,710.0 404.8,709.7 405.4,709.8 406.0,709.9 406.6,709.8 407.2,709.5 407.7,709.3 408.3,709.3 408.9,709.4 409.5,709.5 410.1,709.3 410.6,708.9 411.2,708.7 411.8,708.7 412.4,708.9 412.9,708.9 413.5,708.8 414.1,709.0 414.7,709.4 415.0,710.1 415.3,710.7 415.6,711.1 415.9,711.3 416.2,711.6 416.5,712.1 416.9,712.5 417.0,713.0 417.1,713.7 417.3,714.5 417.4,715.0 417.6,715.2 417.7,715.7 417.9,716.5 418.0,717.1 418.2,717.8 418.3,718.2 418.5,718.5 418.7,719.2 418.9,720.0 419.1,720.5 419.3,720.9 419.5,720.3 419.7,719.9 419.9,719.5 420.2,718.9 420.4,718.4 420.6,717.8 420.8,717.2 421.0,716.9 421.2,716.4 421.7,715.7 422.2,715.3 422.7,714.7 423.1,714.2 423.6,714.1 424.1,714.1 424.6,713.8 425.1,713.3 425.5,712.9 426.0,712.6 426.5,712.3 427.0,711.9 427.5,711.4 428.0,711.4 428.4,711.5 428.9,711.4 429.4,711.0 429.9,710.4 430.4,710.0 430.9,709.6" stroke-width="2.12"/>
<path d="M430.9,709.6 431.3,709.0 431.8,708.4 432.3,708.2 432.8,708.1 433.3,707.8 433.8,707.3 434.2,706.8 434.7,706.6 435.2,706.4 435.7,706.1 436.3,706.4 436.8,706.6 437.4,706.8 438.0,707.2 438.6,707.4 439.2,707.0 439.7,707.0 440.3,706.9 440.9,706.8 441.5,706.8 441.9,706.4 442.3,705.8 442.8,705.3 443.2,705.0 443.6,704.7 444.0,704.0 444.3,703.4 444.6,702.9 444.9,702.5 445.2,702.1 445.5,701.6 445.8,700.9 446.3,700.3 446.8,699.9 447.3,699.9 447.8,700.1 448.2,700.1 448.7,699.6 449.2,698.7 449.7,698.2 450.2,698.2 450.6,697.9 451.1,697.5 451.6,697.4 452.2,697.5 452.8,697.2 453.4,697.3 453.9,697.7 454.5,697.9 455.1,697.4 455.6,697.1 456.1,697.1 456.7,697.2 457.0,697.8 457.4,698.4 457.8,698.7 458.1,698.9 458.5,699.3 458.9,699.5 459.3,699.6 459.7,700.1 460.2,700.7 460.6,701.0 461.0,701.4 461.5,702.0 461.9,702.6 462.3,702.8 462.8,703.0 463.2,703.7 463.5,704.5 463.8,705.1 464.1,705.4 464.5,705.8 464.8,706.2 465.1,706.9 465.2,707.9 465.3,708.3 465.4,708.3 465.5,708.7 465.6,709.2 465.7,709.5 465.8,710.1 466.0,711.1 466.1,711.8 466.2,712.4 466.3,712.8 466.4,713.2 466.5,713.8 466.6,714.3 466.7,714.9 466.8,715.6 467.1,715.3 467.4,714.8 467.7,713.9 468.0,713.0 468.3,712.3 468.6,711.9 469.0,711.2 469.4,710.6 469.7,710.3 470.1,709.9 470.4,709.2 470.8,708.5 471.2,708.0 471.7,708.1 472.3,708.5 472.8,709.2 473.3,709.7 473.8,710.1 474.2,710.4 474.6,710.9 475.1,711.6 475.5,712.3 475.9,712.4 476.4,712.6 476.8,713.2 477.2,713.6 477.7,714.0 477.9,714.7 478.1,715.3" stroke-width="2.16"/>
<path d="M478.1,715.3 478.3,715.8 478.5,716.2 478.7,716.5 478.9,717.0 479.2,717.6 479.4,718.2 479.6,718.9 479.8,719.3 480.0,719.7 480.1,719.3 480.2,718.8 480.3,718.3 480.3,717.8 480.4,717.2 480.5,716.3 480.6,715.3 480.7,714.7 480.8,714.3 480.9,714.3 481.4,714.1 481.9,713.4 482.5,712.9 483.0,712.7 483.6,713.0 484.1,713.1 484.7,713.3 485.2,713.3 485.6,712.8 485.9,712.4 486.3,711.8 486.7,711.2 487.0,711.0 487.4,711.0 487.9,711.5 488.5,711.6 489.0,711.5 489.6,711.8 490.1,711.8 490.6,711.8 491.2,711.5 491.7,711.3 492.3,711.0 492.8,711.0 493.4,711.2 493.9,711.1 494.3,711.5 494.8,712.0 495.2,712.5 495.6,712.8 496.1,713.4 496.5,714.0 496.9,714.4 497.4,715.0 497.8,715.5 498.2,715.8 498.8,715.9 499.3,716.1 499.9,716.5 500.4,716.7 500.9,716.9 501.5,717.3 502.0,717.6 502.5,717.9 503.0,718.1 503.4,717.7 503.7,717.3 504.1,716.6 504.4,716.0 504.8,715.6 505.5,715.7 506.2,715.8 506.9,715.8 507.5,715.3 508.0,715.0 508.6,714.8 509.1,714.5 509.5,714.0 509.8,713.9 510.2,713.6 510.6,712.9 510.9,712.1 511.3,711.6 511.6,711.4 512.0,711.1 512.4,710.6 512.7,710.1 513.1,709.5 513.4,709.0 514.2,709.3 514.9,709.5 515.1,709.1 515.4,708.5 515.6,707.7 515.9,707.0 516.1,706.6 516.3,706.2 516.9,705.7 517.4,705.2 518.0,705.1 518.5,705.0 519.1,705.0 519.6,704.9 520.1,705.2 520.7,705.5 521.2,704.9 521.8,704.3 522.3,703.9 522.9,703.6 523.4,703.6 523.9,703.6 524.5,703.8 525.0,704.1 525.6,704.5 526.1,704.6 526.7,704.4 527.2,704.6 527.5,704.2 527.8,703.6 528.1,703.1 528.4,702.7" stroke-width="2.12"/>
<path d="M528.4,702.7 528.8,702.2 529.1,701.5 529.4,700.9 529.8,700.6 530.2,700.2 530.7,699.6 531.1,699.2 531.5,698.9 532.1,699.2 532.6,699.2 533.2,699.0 533.7,699.0 534.2,699.7 534.7,700.4 535.2,700.8 535.5,700.1 535.7,699.4 536.0,698.6 536.3,697.9 536.6,697.4 536.9,697.1 537.5,697.5 538.2,697.5 538.8,697.4 539.2,696.8 539.5,696.5 539.9,696.2 540.2,695.8 540.6,695.2 541.0,694.7 541.7,694.3 542.4,694.5 543.1,694.9 543.4,694.3 543.7,693.5 544.0,693.0 544.3,692.3 544.6,691.7 545.1,691.6 545.7,691.6 546.2,691.4 546.8,691.2 547.1,690.7 547.4,690.3 547.7,689.9 548.0,689.5 548.3,689.0 548.6,688.5 548.9,687.9 549.4,687.4 549.8,687.1 550.2,686.9 550.7,686.6 551.1,685.9 551.6,685.4 552.2,685.1 552.7,684.9 553.3,684.8 553.7,685.4 554.1,685.6 554.6,685.4 555.0,685.6 555.4,686.3 555.9,686.1 556.3,685.6 556.7,685.1 557.2,684.6 557.6,683.9 558.3,683.8 559.1,683.7 559.8,683.7 560.2,684.3 560.7,684.4 561.1,684.7 561.5,685.2 562.0,685.4 562.4,685.9 562.9,686.6 563.4,687.5 563.6,687.2 563.8,686.1 564.0,685.0 564.1,684.7 564.3,684.3 564.5,683.5 564.7,683.3 564.9,683.0 565.4,683.1 565.9,683.1 566.5,683.2 567.0,683.5 567.5,684.0 567.9,684.7 568.3,685.2 568.8,685.1 569.2,685.4 569.4,686.4 569.7,687.1 569.9,687.5 570.2,688.2 570.4,688.9 570.7,689.5 571.4,689.2 572.1,688.8 572.4,688.1 572.7,687.8 573.0,687.3 573.3,686.5 573.7,686.0 574.0,685.5 574.3,685.0 574.7,684.6 575.1,684.0 575.6,683.7 576.0,683.8 576.4,683.6 577.0,683.2 577.5,682.7 578.1,682.2 578.6,681.9" stroke-width="2.26"/>
<path d="M578.6,681.9 579.1,682.4 579.5,682.9 579.9,683.1 580.4,683.4 580.8,683.9 581.3,684.1 581.9,683.9 582.4,684.0 583.0,684.4 583.4,685.1 583.8,686.0 584.3,686.6 584.7,687.0 585.1,687.5 585.6,686.7 586.0,686.1 586.4,685.9 586.9,685.5 587.3,684.8 587.7,684.2 588.2,684.2 588.6,683.9 589.0,683.1 589.5,682.4 590.0,682.2 590.6,682.0 591.1,681.9 591.7,682.1 592.0,681.9 592.3,681.2 592.7,680.4 593.0,679.8 593.4,679.2 593.8,679.9 594.1,680.3 594.5,680.4 594.9,680.8 595.3,681.5 595.9,681.8 596.5,681.5 597.2,680.9 597.3,680.3 597.5,679.9 597.7,679.4 597.8,679.0 598.0,678.4 598.2,677.7 598.4,677.5 598.5,677.4 598.7,676.7 598.9,675.9 599.3,675.1 599.8,674.6 600.2,674.2 600.6,673.4 601.1,672.9 601.6,673.0 602.2,672.8 602.7,672.6 603.2,672.5 603.8,672.4 604.3,672.2 604.9,671.8 605.4,671.5 606.0,671.3 606.7,671.0 607.3,670.6 607.5,671.1 607.7,671.5 607.9,672.2 608.1,673.0 608.3,673.4 608.5,673.4 608.7,673.7 609.3,674.3 609.9,674.9 610.5,675.2 610.8,674.7 611.2,674.1 611.6,673.3 611.9,672.8 612.3,672.7 612.7,672.5 613.2,672.2 613.7,671.6 614.3,671.1 614.8,670.7 615.4,670.2 615.9,669.9 616.5,669.7 617.0,669.3 617.4,669.9 617.9,670.6 618.3,671.2 618.7,671.6 619.2,672.1 619.7,672.6 620.3,672.9 620.8,672.9 621.3,673.0 622.0,673.3 622.6,673.3 623.2,673.1 623.5,673.6 623.8,674.3 624.1,675.0 624.4,675.5 624.7,675.9 625.0,676.5 625.5,676.4 626.0,676.4 626.6,676.2 627.1,675.7 627.6,675.4 628.0,675.0 628.4,674.3 628.9,674.2 629.3,674.2 629.7,673.6 630.2,673.0" stroke-width="2.35"/>
<path d="M630.2,673.0 630.6,672.8 631.0,672.2 631.5,671.5 632.0,671.2 632.6,671.2 633.1,671.0 633.6,670.7 634.2,670.5 634.7,670.2 635.3,669.9 635.8,669.7 636.2,669.3 636.5,669.0 636.9,668.4 637.3,667.9 637.6,668.0 638.0,667.8 638.4,667.0 638.9,666.3 639.3,665.6 639.7,665.2 640.2,665.0 640.7,665.7 641.3,666.0 641.8,665.8 642.3,666.2 642.9,666.9 643.4,667.0 644.0,666.8 644.5,667.1 644.9,667.1 645.4,666.7 645.8,665.9 646.2,665.2 646.7,664.8 647.2,665.5 647.8,665.9 648.3,665.4 648.9,665.2 649.4,665.4 649.9,665.9 650.5,666.5 651.0,666.9 651.2,667.1 651.5,667.2 651.7,668.0 651.9,669.1 652.1,669.4 652.3,669.6 652.5,670.1 652.8,670.6 653.3,670.4 653.9,670.1 654.5,669.7 655.1,669.7 655.4,669.8 655.7,669.5 656.0,668.9 656.2,668.3 656.5,667.5 656.8,666.8 657.2,666.7 657.5,666.4 657.9,665.8 658.3,664.9 658.6,664.3 659.0,664.2 659.5,664.0 660.1,663.5 660.6,663.0 661.2,662.6 661.9,662.3 662.6,662.2 663.3,662.4 663.9,662.4 664.4,662.2 665.0,662.0 665.5,661.6 665.9,661.0 666.2,661.1 666.6,661.1 667.0,660.3 667.3,659.8 667.7,659.5 668.1,659.0 668.6,658.3 669.1,657.5 669.5,657.5 670.0,657.7 670.3,658.3 670.6,659.0 670.9,659.6 671.2,658.7 671.6,658.5 671.9,658.0 672.3,656.9 672.7,656.7 673.0,656.6 673.5,656.8 673.9,657.3 674.3,658.1 674.8,658.6 675.2,659.0 675.5,658.5 675.8,658.1 676.1,658.0 676.4,657.8 676.8,656.9 677.1,656.0 677.4,655.7 677.8,655.8 678.2,655.6 678.7,654.5 679.1,653.9 679.6,653.9 680.1,654.0 680.6,653.5 681.2,653.5 681.7,654.2 682.1,654.1" stroke-width="2.43"/>
<path d="M682.1,654.1 682.4,653.6 682.8,653.0 683.2,652.5 683.5,652.1 683.9,651.4 684.5,651.0 685.2,650.8 685.8,650.0 685.9,650.1 685.9,651.0 686.0,651.9 686.1,652.4 686.2,653.1 686.3,653.7 686.4,654.1 686.5,654.7 686.5,655.6 686.6,656.3 686.7,656.8 686.8,657.4 687.3,657.1 687.9,656.6 688.4,655.8 689.0,655.7 689.1,656.5 689.3,656.9 689.4,657.2 689.5,657.7 689.7,658.1 689.8,658.5 690.0,659.5 690.1,660.7 690.3,661.3 690.4,661.6 690.6,661.7 690.7,662.0 691.2,661.3 691.6,660.7 692.1,660.6 692.6,660.6 692.8,660.5 693.1,660.1 693.3,659.3 693.6,658.3 693.8,658.0 694.1,657.9 694.3,657.5 694.5,657.9 694.7,658.4 694.9,658.9 695.0,659.3 695.2,659.7 695.4,660.4 695.6,660.7 695.7,661.3 695.9,662.5 696.3,662.9 696.6,663.0 697.0,663.5 697.4,664.1 697.8,663.0 698.2,662.4 698.7,662.4 699.1,661.7 699.5,660.8 700.0,660.1 700.4,659.8 700.8,659.9 701.3,659.7 701.8,659.8 702.4,659.6 702.9,659.4 703.4,659.5 704.0,659.4 704.5,658.8 705.1,657.8 705.6,657.5 706.3,657.9 707.1,657.8 707.8,657.3 708.0,656.5 708.3,655.8 708.5,654.8 708.8,654.6 709.0,654.7 709.2,654.4 709.5,654.2 709.7,653.6 710.0,653.2 710.6,653.5 711.2,652.9 711.8,652.0 712.4,652.1 713.0,652.2 713.6,652.5 713.9,652.4 714.1,652.0 714.4,651.5 714.7,651.1 714.9,650.1 715.2,649.1 715.5,648.7 715.8,648.7 716.2,648.8 716.6,648.6 717.1,647.9 717.5,647.5 717.9,647.4 718.5,647.5 719.0,647.3 719.6,647.1 720.1,647.7 720.8,648.4 721.5,648.2 722.3,647.8 722.8,647.9 723.4,648.7 723.9,649.3 724.4,649.0 724.9,648.3" stroke-width="2.48"/>
<path d="M724.9,648.3 725.3,648.1 725.7,647.8 726.2,647.7 726.6,648.0 726.9,647.2 727.2,646.0 727.4,645.7 727.7,645.5 728.0,645.0 728.2,644.3 728.5,643.6 728.8,643.2 729.2,642.9 729.5,642.5 729.9,641.8 730.2,641.2 730.6,640.9 731.0,640.7 731.1,641.0 731.3,641.1 731.4,641.6 731.6,642.4 731.8,643.0 731.9,643.6 732.1,644.5 732.3,645.6 732.4,646.4 732.6,646.7 732.8,646.4 733.0,646.1 733.2,647.0 733.4,648.1 733.6,648.7 733.9,648.4 734.3,647.8 734.6,647.3 735.0,646.8 735.3,646.2 735.7,645.5 736.0,645.0 736.4,644.5 736.8,643.8 737.1,643.5 737.5,643.4 737.9,643.0 738.3,642.6 738.8,642.2 739.2,641.7 739.7,641.1 740.1,640.4 740.5,640.2 741.0,640.6 741.4,640.3 741.8,639.0 742.4,637.9 742.9,637.6 743.5,637.7 744.0,637.6 744.5,637.4 745.1,637.3 745.6,637.2 746.2,637.2 746.4,636.5 746.7,635.3 746.9,634.3 747.3,635.1 747.6,636.1 748.0,636.6 748.3,636.8 748.9,637.0 749.4,637.6 750.0,638.0 750.5,638.1 750.9,637.4 751.4,637.0 751.8,637.0 752.3,636.7 752.7,635.9 753.4,636.1 754.1,636.4 754.9,636.1 754.9,636.4 755.0,636.8 755.1,637.6 755.1,638.5 755.2,638.9 755.3,639.2 755.3,639.9 755.4,640.6 755.5,641.2 755.5,641.7 755.6,642.2 755.7,642.4 755.7,643.1 755.8,644.3 755.9,644.8 756.1,644.8 756.3,645.5 756.5,646.5 756.7,646.9 756.9,647.2 757.1,647.9 757.3,648.4 757.7,648.3 758.1,648.9 758.5,649.8 758.8,650.3 759.2,650.7 759.4,649.9 759.6,649.0 759.7,648.7 759.9,648.4 760.1,647.8 760.3,647.3 760.5,646.4 760.7,645.9 761.2,646.3 761.7,646.3 762.3,646.3 762.8,646.5" stroke-width="2.56"/>
<path d="M762.8,646.5 763.2,646.4 763.5,646.3 763.9,645.9 764.3,645.5 764.6,645.0 765.0,644.5 765.3,644.3 765.6,643.7 765.9,642.8 766.2,642.2 766.5,642.0 766.9,641.9 767.2,641.1 767.3,641.5 767.5,642.4 767.7,643.1 767.9,643.8 768.1,644.3 768.3,644.8 768.4,645.4 768.6,645.5 769.2,645.2 769.7,644.9 770.2,644.2 770.8,644.1 771.0,645.2 771.1,645.9 771.3,646.4 771.5,646.9 771.6,647.5 771.8,648.3 772.0,648.9 772.1,649.1 772.3,649.5 772.5,650.1 772.6,650.6 772.8,651.4 773.0,652.3 773.1,652.9 773.3,653.1 773.5,653.3 773.7,654.2 773.8,655.2 774.0,655.6 774.2,655.9 774.4,656.6 774.5,657.4 774.7,657.5 774.8,656.4 775.0,656.1 775.1,655.8 775.2,655.1 775.3,654.8 775.5,654.9 775.6,654.8 775.7,654.1 775.8,652.8 776.0,651.7 776.1,651.2 776.2,650.5 776.3,650.1 776.5,650.0 776.6,649.4 776.7,650.0 776.9,650.8 777.0,651.3 777.2,651.6 777.3,652.3 777.5,653.2 777.6,653.7 777.7,654.0 777.9,654.5 778.0,655.0 778.2,654.5 778.4,654.0 778.7,653.1 778.9,652.0 779.1,651.4 779.3,651.6 779.5,652.0 779.6,652.5 779.8,652.4 779.9,652.6 780.1,653.3 780.2,654.2 780.3,655.0 780.5,655.1 780.6,655.3 780.8,655.9 780.9,656.8 781.0,657.8 781.1,658.3 781.2,658.7 781.3,658.9 781.4,659.2 781.5,660.2 781.6,661.0 781.7,661.4 781.7,661.9 781.8,662.4 781.9,663.1 782.0,663.7 782.1,664.2 782.2,664.8 782.3,665.3 782.4,665.7 782.6,666.1 782.8,666.6 783.0,667.6 783.2,668.4 783.4,669.1 783.5,668.5 783.6,667.5 783.7,666.7 783.8,666.5 783.9,666.1 784.0,665.7 784.1,665.2 784.2,664.6 784.3,663.4" stroke-width="2.49"/>
<path d="M784.3,663.4 784.4,662.4 784.5,662.3 784.6,662.2 784.7,661.7 784.9,661.2 785.0,660.5 785.1,659.7 785.2,658.8 785.3,658.4 785.5,659.4 785.8,659.7 786.1,659.6 786.3,659.8 786.6,660.7 786.9,661.6 787.2,662.5 787.5,662.4 787.8,661.7 788.2,660.9 788.5,660.4 788.9,660.1 789.0,660.6 789.1,661.2 789.2,661.8 789.3,662.2 789.4,662.4 789.6,663.1 789.7,664.0 789.8,664.6 789.9,665.2 790.0,665.7 790.1,666.2 790.2,667.1 790.3,667.7 790.7,667.8 791.1,668.1 791.4,668.5 791.8,669.0 792.0,668.7 792.2,668.1 792.4,667.3 792.6,666.6 792.8,666.4 793.0,666.3 793.2,665.2 793.5,663.7 793.9,663.2 794.2,663.2 794.5,662.7 794.8,662.4 795.1,662.2 795.4,662.0 796.0,662.4 796.5,662.3 797.0,662.4 797.6,662.5 797.9,661.8 798.1,661.6 798.4,661.7 798.7,661.2 798.9,660.2 799.2,659.7 799.5,659.3 799.8,658.6 800.1,658.0 800.5,657.5 800.8,657.0 801.2,656.3 801.6,655.7 801.9,655.4 802.5,655.6 803.0,656.0 803.6,656.1 804.1,655.7 804.8,655.6 805.5,655.4 805.8,655.6 806.0,656.4 806.2,657.3 806.4,657.7 806.6,658.0 806.8,658.8 807.0,659.4 807.2,659.8 807.3,660.4 807.5,661.0 807.6,661.5 807.8,661.8 808.0,662.6 808.1,663.6 808.3,664.4 808.4,664.6 808.6,664.7 808.7,665.6 808.8,666.4 808.9,667.0 809.0,667.8 809.1,668.4 809.2,668.6 809.3,668.8 809.4,669.2 809.6,670.0 809.7,670.5 809.8,671.1 809.9,672.2 810.1,672.9 810.3,673.4 810.5,674.0 810.7,674.3 810.9,674.5 811.1,675.4 811.3,676.1 811.5,675.0 811.6,674.1 811.7,673.7 811.8,672.8 811.9,672.2 812.1,672.0 812.2,671.7 812.3,671.4" stroke-width="2.43"/>
<path d="M812.3,671.4 812.4,670.7 812.5,670.2 812.7,669.7 812.8,668.9 813.3,668.1 813.8,667.6 814.2,667.6 814.4,667.0 814.6,666.0 814.7,665.5 814.9,665.0 815.0,664.5 815.2,663.9 815.4,663.2 815.5,662.4 815.7,661.9 816.0,662.6 816.4,663.3 816.8,663.8 817.1,664.1 817.5,664.5 817.9,664.9 818.3,665.3 818.7,665.9 819.2,666.3 819.6,666.6 820.0,667.0 820.2,666.4 820.3,665.7 820.5,665.3 820.6,665.0 820.8,664.4 820.9,663.3 821.0,662.4 821.2,661.9 821.3,661.7 821.5,661.1 821.5,661.6 821.6,662.6 821.7,663.6 821.7,664.4 821.8,664.7 821.8,664.9 821.9,665.5 822.0,665.9 822.0,666.5 822.1,667.0 822.1,667.2 822.2,667.9 822.3,668.9 822.3,669.7 822.4,670.0 822.4,670.4 822.5,670.9 822.6,671.2 822.7,671.8 822.8,672.8 822.9,673.6 822.9,673.8 823.0,673.6 823.1,673.9 823.2,675.1 823.3,676.1 823.4,676.6 823.5,676.7 823.6,677.3 823.7,678.4 823.8,678.9 823.8,679.0 823.9,679.4 824.0,680.3 824.0,681.2 824.1,681.7 824.2,682.0 824.2,682.2 824.3,682.8 824.3,683.4 824.4,684.0 824.4,684.6 824.5,684.9 824.5,685.5 824.6,686.2 824.7,686.5 824.7,686.7 824.8,687.3 824.8,688.2 824.9,688.9 824.9,689.2 825.0,689.7 825.0,690.5 825.1,690.9 825.2,691.4 825.3,692.3 825.4,693.0 825.5,693.5 825.6,694.1 825.6,694.7 825.7,695.4 825.8,695.8 825.9,696.1 826.0,696.8 826.1,697.2 826.2,697.5 826.3,697.9 826.4,698.4 826.5,698.7 826.5,699.4 826.7,698.9 826.8,698.2 826.9,697.6 827.0,697.0 827.1,696.5 827.2,696.1 827.4,695.8 827.5,695.4 827.6,694.8 827.7,694.0 827.7,694.4 827.8,695.2 827.8,696.1" stroke-width="2.34"/>
<path d="M827.8,696.1 827.9,696.7 827.9,696.9 828.0,697.4 828.0,698.0 828.1,698.4 828.1,698.6 828.1,699.1 828.2,699.5 828.2,700.0 828.3,701.0 828.3,701.9 828.4,702.7 828.4,703.5 828.5,704.0 828.5,704.4 828.5,704.8 828.6,705.2 828.6,705.5 828.7,706.1 828.7,707.2 828.8,706.9 828.9,706.0 829.1,705.2 829.2,704.7 829.3,704.5 829.4,704.0 829.5,703.4 829.6,703.0 829.7,702.4 829.8,701.6 829.9,701.1 830.1,700.8 830.2,699.9 830.2,700.2 830.3,700.7 830.3,701.3 830.4,701.8 830.4,702.4 830.5,703.0 830.6,703.5 830.6,703.9 830.7,704.4 830.7,705.1 830.8,705.9 830.8,706.4 830.9,706.8 831.0,707.5 831.0,708.1 831.1,708.6 831.1,709.4 831.2,709.7 831.2,710.0 831.3,710.8 831.3,711.5 831.4,712.0 831.5,712.5 831.5,713.2 831.6,713.9 831.6,714.5 831.7,715.0 831.7,715.6 831.8,716.2 831.8,716.7 831.9,717.2 832.0,716.6 832.0,716.1 832.1,715.7 832.1,715.2 832.2,714.5 832.2,713.9 832.3,713.3 832.3,712.9 832.4,712.4 832.5,711.9 832.5,711.2 832.6,710.6 832.6,710.1 832.7,709.6 832.7,709.1 832.8,708.7 832.8,708.2 832.9,707.4 833.0,706.9 833.0,706.4 833.1,705.8 833.6,705.4 834.1,705.0 834.7,704.5 835.2,704.0 835.8,703.8 836.3,703.6 836.9,703.2 837.4,702.7 837.6,702.4 837.8,702.0 838.1,701.2 838.3,700.6 838.5,700.2 838.7,699.7 838.9,699.2 839.1,698.5 839.2,698.7 839.3,699.3 839.4,699.9 839.5,700.5 839.6,701.1 839.7,701.8 839.8,702.5 839.9,703.0 840.0,703.4 840.1,703.9 840.2,704.5 840.3,704.9 840.4,705.4 840.5,706.0 840.6,706.3 840.7,706.8 841.2,706.6 841.6,706.5 842.0,706.1" stroke-width="2.16"/>
<path d="M842.0,706.1 842.5,705.5 842.8,706.0 843.2,706.7 843.6,707.1 843.9,707.5 844.3,708.1 844.6,708.6 844.8,709.0 844.9,709.6 845.0,710.4 845.1,711.0 845.2,711.4 845.4,712.1 845.5,712.7 845.6,713.1 845.7,713.5 845.8,714.1 845.9,714.4 846.1,714.9 846.2,715.6 846.3,716.3 846.4,716.8 846.5,717.0 846.7,717.5 846.8,718.2 846.9,718.8 847.1,719.4 847.2,720.1 847.3,720.7 847.5,721.2 847.6,721.6 847.7,722.3 847.9,723.1 848.0,723.6 848.1,723.7 848.3,724.1 848.4,723.6 848.5,723.2 848.6,722.7 848.7,722.4 848.8,722.0 848.9,721.3 849.0,720.6 849.2,719.9 849.3,719.3 849.4,718.5 849.5,718.0 849.6,717.6 849.7,717.1 849.9,716.5 850.0,715.9 850.2,715.6 850.3,715.2 850.4,714.4 850.6,713.7 850.7,713.3 850.9,712.8 851.0,712.0 851.2,711.1 851.4,710.6 851.7,710.5 852.0,710.0 852.3,709.1 852.5,708.3 852.8,707.7 853.1,707.6 853.3,707.1 853.6,706.5 853.9,705.9 854.2,705.4 854.4,704.8 854.7,704.1 855.0,703.6 855.2,703.4 855.5,703.0 855.7,702.4 855.9,701.7 856.2,701.0 856.4,700.5 856.6,700.2 856.8,699.7 857.0,699.1 857.2,698.5 857.5,697.6 857.7,697.2 857.9,697.0 858.2,696.4 858.4,695.6 858.7,695.5 859.1,696.3 859.6,696.3 860.0,696.5 860.4,696.8 860.9,697.1 861.2,696.7 861.6,696.4 861.9,695.7 862.3,695.1 862.7,695.0 863.0,694.5 863.3,695.1 863.6,695.6 863.8,696.2 864.1,696.8 864.4,697.1 864.7,697.7 864.9,698.2 865.2,698.4 865.9,698.5 866.7,699.0 867.4,699.3 867.6,698.3 867.8,697.4 868.0,697.0 868.2,696.3 868.4,695.8 868.6,695.5 868.8,695.1 869.0,694.5 869.2,694.2" stroke-width="2.15"/>
<path d="M869.2,694.2 869.4,693.8 869.6,692.9 869.7,692.5 869.9,692.2 870.1,691.5 870.3,690.7 870.5,690.6 870.7,690.2 870.9,689.2 871.1,688.7 871.3,688.5 871.5,687.8 871.7,687.0 872.3,686.9 872.8,686.5 873.4,686.0 873.9,685.9 874.6,686.2 875.3,686.2 876.1,686.1 876.3,685.8 876.5,685.5 876.7,685.1 876.9,684.6 877.2,684.1 877.4,683.9 877.6,683.4 877.8,682.6 878.0,681.7 878.2,680.9 878.8,680.9 879.3,681.1 879.9,680.5 880.4,679.5 880.7,679.9 880.9,680.7 881.2,681.4 881.4,682.0 881.7,682.6 881.9,683.1 882.2,683.5 882.4,682.9 882.7,682.2 883.0,681.3 883.2,680.9 883.5,680.9 883.8,680.6 884.0,680.3 884.2,681.0 884.4,681.4 884.6,681.7 884.8,682.2 885.0,682.6 885.2,683.0 885.4,683.5 885.6,684.0 885.8,684.4 886.0,685.1 886.2,686.0 886.5,685.4 886.7,684.4 887.0,683.9 887.3,683.7 887.6,683.0 887.8,682.4 888.1,681.9 888.4,681.4 888.9,681.5 889.5,681.7 890.0,682.3 890.6,683.0 890.9,682.3 891.3,681.6 891.6,681.4 892.0,680.7 892.4,680.4 892.7,680.1 893.0,679.3 893.3,678.4 893.5,677.7 893.8,677.5 894.1,677.8 894.4,677.4 894.6,676.3 894.9,675.2 895.4,674.7 896.0,674.5 896.5,674.7 897.1,674.6 897.6,674.4 898.2,674.7 898.7,675.3 899.2,675.5 899.4,676.0 899.6,676.7 899.8,677.2 900.0,677.4 900.2,677.8 900.4,678.4 900.6,679.0 900.8,679.9 901.0,681.0 901.2,681.2 901.4,681.0 901.6,679.9 901.8,679.3 902.0,679.0 902.2,678.6 902.4,678.5 902.6,678.6 902.8,678.0 903.0,677.1 903.2,676.5 903.4,676.1 903.6,675.7 903.9,675.3 904.1,674.9 904.4,674.2 904.7,673.2 904.9,672.7" stroke-width="2.32"/>
<path d="M904.9,672.7 905.2,672.3 905.5,671.6 905.8,671.2 906.1,671.1 906.4,670.6 906.7,669.5 907.0,668.9 907.3,668.7 907.6,667.8 907.9,666.7 908.5,666.7 909.0,667.2 909.6,667.5 910.1,667.2 910.3,666.3 910.5,665.6 910.7,665.3 910.9,664.9 911.1,664.2 911.3,663.9 911.5,663.7 911.7,662.8 911.9,662.0 912.1,661.5 912.3,661.0 912.6,660.5 913.0,660.2 913.4,659.8 913.7,659.1 913.9,659.6 914.1,660.4 914.3,661.1 914.5,661.1 914.8,661.4 915.0,661.9 915.2,662.3 915.3,663.1 915.3,664.0 915.4,664.4 915.5,664.7 915.6,665.0 915.7,665.7 915.8,666.4 915.9,666.9 916.0,667.5 916.1,667.9 916.2,668.2 916.2,669.0 916.3,669.6 916.8,669.4 917.2,669.9 917.6,670.6 918.1,671.2 918.3,672.0 918.6,672.6 918.9,673.0 919.2,673.5 919.4,673.8 919.7,673.9 920.0,674.6 920.2,675.6 920.4,675.2 920.6,674.5 920.8,674.1 921.0,673.4 921.1,672.4 921.3,671.8 921.5,671.7 921.7,671.3 921.9,671.9 922.0,672.6 922.2,672.8 922.4,673.3 922.6,673.9 922.8,673.9 923.0,674.4 923.1,675.6 923.3,676.5 923.5,677.1 923.6,677.4 923.8,677.7 923.9,678.5 924.1,679.1 924.3,679.1 924.4,679.6 924.6,680.7 924.8,680.6 924.9,679.8 925.1,678.8 925.3,678.2 925.5,677.6 925.7,677.2 925.9,677.1 926.0,676.4 926.2,675.3 926.4,674.7 926.6,674.5 926.8,674.3 927.2,674.1 927.6,673.6 928.1,673.0 928.5,672.8 928.9,672.5 929.1,672.5 929.3,672.9 929.5,673.6 929.8,674.0 930.0,674.5 930.2,675.0 930.4,675.7 930.6,676.3 930.9,676.5 931.2,676.9 931.5,677.7 931.7,678.2 932.0,678.6 932.3,679.4 932.5,680.1 932.9,679.9 933.3,679.5" stroke-width="2.38"/>
<path d="M933.3,679.5 933.6,678.8 934.0,678.0 934.4,677.2 934.7,676.9 935.0,676.5 935.3,675.5 935.5,675.1 935.8,675.1 936.1,674.8 936.4,674.3 936.6,673.3 936.9,671.9 937.2,671.5 937.4,671.4 937.7,671.1 938.0,670.5 938.3,669.8 938.5,669.2 938.8,668.8 939.1,668.4 939.6,667.8 940.2,667.5 940.7,667.3 941.2,666.9 941.5,666.2 941.9,665.6 942.2,665.3 942.5,664.7 942.8,663.7 943.1,662.9 943.4,662.8 943.8,663.9 944.3,664.5 944.7,665.1 945.1,665.5 945.6,665.4 945.9,664.7 946.3,664.4 946.7,664.2 947.0,663.9 947.4,663.3 947.8,662.6 948.0,661.7 948.2,661.2 948.3,661.3 948.5,660.7 948.7,659.9 948.9,659.7 949.1,659.5 949.3,658.5 949.5,657.5 949.7,656.9 949.9,656.2 950.3,655.8 950.7,655.9 951.0,655.4 951.4,654.7 951.7,654.5 952.1,654.1 952.6,654.0 953.2,653.7 953.7,653.3 954.3,653.3 954.7,652.8 955.1,652.1 955.6,651.6 956.0,651.1 956.4,650.0 956.8,649.3 957.2,649.6 957.5,649.7 957.9,649.4 958.3,648.9 958.6,648.6 959.0,648.2 959.3,647.1 959.7,646.1 960.1,645.5 960.4,646.0 960.7,646.5 961.0,647.4 961.3,648.2 961.6,648.6 961.9,649.1 962.2,649.4 962.8,649.8 963.3,650.0 963.9,650.0 964.4,650.7 964.6,650.8 964.7,650.6 964.9,649.8 965.1,648.7 965.2,647.9 965.4,647.3 965.6,647.0 965.7,646.8 965.9,646.0 966.1,645.3 966.2,645.1 966.4,644.3 966.6,643.4 966.9,644.6 967.3,645.6 967.7,645.7 968.0,645.5 968.4,645.6 968.8,646.5 969.1,646.5 969.5,645.9 969.8,645.1 970.2,644.7 970.6,644.6 970.9,643.6 971.5,643.3 972.0,643.8 972.6,644.1 973.1,644.1 973.3,644.5 973.5,644.9" stroke-width="2.47"/>
<path d="M973.5,644.9 973.8,645.6 974.0,646.5 974.2,646.7 974.4,647.1 974.6,648.0 974.8,648.8 975.1,649.2 975.3,649.4 975.5,649.8 975.8,650.4 976.1,651.0 976.4,651.7 976.6,652.5 976.9,653.0 977.2,653.5 977.4,653.8 978.2,654.0 978.9,654.6 979.1,654.0 979.2,653.0 979.4,652.7 979.5,652.8 979.7,652.0 979.9,650.8 980.0,650.0 980.2,649.8 980.3,649.9 980.5,649.4 980.7,648.3 980.9,647.8 981.1,647.7 981.2,647.2 981.4,646.4 981.6,645.8 981.8,645.2 982.0,645.7 982.2,646.4 982.3,647.0 982.5,647.6 982.7,648.4 982.9,648.9 983.1,648.9 983.2,649.3 983.7,649.1 984.2,648.8 984.7,648.3 984.7,648.7 984.8,649.5 984.9,650.7 984.9,651.3 985.0,651.4 985.1,651.8 985.1,652.5 985.2,653.1 985.3,653.6 985.3,653.9 985.4,653.8 985.5,654.2 985.5,654.9 985.6,655.3 985.7,656.1 985.7,656.7 985.8,657.1 985.8,657.8 985.9,658.6 985.9,659.2 985.9,659.7 986.0,660.2 986.0,660.7 986.1,660.9 986.1,661.4 986.1,662.4 986.2,663.5 986.2,664.4 986.2,664.8 986.3,665.1 986.3,665.4 986.3,665.9 986.4,666.5 986.4,667.1 986.4,667.6 986.5,668.2 986.5,668.9 986.5,669.4 986.6,669.8 986.6,670.3 986.6,670.6 986.7,670.9 986.7,671.8 986.8,672.6 986.8,673.1 986.8,673.8 986.9,674.5 987.0,673.6 987.1,673.0 987.2,673.2 987.3,672.7 987.4,671.5 987.5,670.5 987.6,669.6 987.7,669.1 987.9,669.0 988.0,668.6 988.1,667.8 988.2,667.3 988.3,667.2 988.4,667.9 988.4,668.2 988.5,668.7 988.6,669.7 988.6,670.3 988.7,670.7 988.8,671.2 988.8,671.3 988.9,671.6 989.0,672.5 989.0,673.6 989.1,674.0 989.2,674.0 989.3,674.5" stroke-width="2.46"/>
<path d="M989.3,674.5 989.3,675.3 989.4,674.7 989.4,674.3 989.5,674.0 989.6,673.6 989.6,673.3 989.7,672.8 989.8,671.9 989.8,671.4 989.9,671.0 990.0,670.3 990.0,669.6 990.1,669.1 990.2,668.4 990.2,667.9 990.3,667.4 990.3,666.6 990.4,665.9 990.5,665.6 990.7,666.1 990.8,666.4 991.0,667.4 991.2,667.9 991.4,668.1 991.6,668.7 991.7,669.4 991.9,670.0 992.2,669.4 992.5,668.6 992.8,667.8 993.1,667.2 993.4,666.9 993.4,667.5 993.5,668.0 993.6,668.9 993.7,669.8 993.7,670.1 993.8,670.4 993.9,670.9 993.9,671.3 994.0,671.8 994.1,672.6 994.1,672.9 994.2,673.2 994.3,673.7 994.3,674.5 994.4,675.3 994.5,676.0 994.5,676.6 994.6,677.0 994.7,677.3 994.8,677.9 994.8,678.9 995.1,679.7 995.4,680.2 995.7,680.4 996.0,680.3 996.1,679.6 996.1,679.6 996.2,679.0 996.3,678.1 996.3,677.8 996.4,677.4 996.5,676.6 996.6,675.8 996.6,675.5 996.7,675.3 996.8,674.4 996.9,673.4 996.9,673.2 997.0,672.9 997.1,672.2 997.2,671.2 997.3,670.7 997.4,670.3 997.4,669.7 997.5,669.0 997.6,668.5 997.7,668.1 997.8,668.2 997.9,668.2 998.0,667.1 998.1,666.6 998.2,666.6 998.3,665.5 998.4,664.6 998.4,664.1 998.6,663.3 998.8,662.5 998.9,662.0 999.1,661.6 999.2,660.9 999.4,660.2 999.6,659.9 999.7,659.6 999.9,658.9 1000.3,659.4 1000.6,660.3 1001.0,660.5 1001.3,660.5 1001.7,661.4 1002.1,662.4 1002.2,662.9 1002.3,663.2 1002.4,663.4 1002.5,664.1 1002.6,664.8 1002.7,665.3 1002.8,665.7 1002.9,666.0 1003.0,666.3 1003.1,667.4 1003.2,668.5 1003.3,669.3 1003.4,670.0 1003.5,670.3 1003.6,669.5 1003.7,668.8 1003.8,668.3 1003.9,667.8" stroke-width="2.39"/>
<path d="M1003.9,667.8 1003.9,667.4 1004.0,666.7 1004.1,665.9 1004.2,665.4 1004.3,664.9 1004.4,664.1 1004.4,663.4 1004.5,663.1 1004.6,662.8 1004.7,662.0 1004.8,661.0 1004.9,660.7 1005.0,660.5 1005.3,661.3 1005.6,662.4 1005.9,663.0 1006.2,662.9 1006.5,663.2 1006.8,663.8 1007.1,664.2 1007.3,663.9 1007.6,663.4 1007.8,662.6 1008.0,661.9 1008.2,661.5 1008.4,661.1 1008.7,660.6 1008.9,660.2 1009.1,659.7 1009.3,658.6 1009.6,657.9 1009.9,657.9 1010.2,657.3 1010.5,656.6 1010.9,656.3 1011.2,655.5 1011.5,654.7 1011.7,654.8 1012.0,654.3 1012.3,653.4 1012.6,652.6 1012.8,651.9 1013.1,651.7 1013.4,651.5 1013.6,650.9 1014.0,650.1 1014.4,649.4 1014.7,649.2 1015.1,649.0 1015.5,648.5 1015.8,648.0 1016.5,647.9 1017.3,648.1 1018.0,648.6 1018.4,649.1 1018.7,649.2 1019.1,649.5 1019.4,649.7 1019.8,650.0 1020.2,650.8 1020.4,650.2 1020.7,649.0 1021.0,648.7 1021.3,648.8 1021.5,648.4 1021.8,647.6 1022.1,646.9 1022.3,646.7 1022.7,647.6 1023.1,648.1 1023.4,648.3 1023.8,648.6 1024.1,649.3 1024.5,649.9 1024.7,650.2 1024.9,650.3 1025.1,650.8 1025.3,651.8 1025.5,652.0 1025.8,652.0 1026.0,653.2 1026.3,652.8 1026.6,651.8 1026.9,651.7 1027.2,651.4 1027.5,650.6 1027.8,649.8 1028.1,649.4 1028.4,650.1 1028.7,650.5 1028.9,650.6 1029.2,650.9 1029.5,651.9 1029.8,653.2 1030.0,653.8 1030.3,653.8 1030.5,654.1 1030.7,654.5 1031.0,655.1 1031.2,655.6 1031.4,655.6 1031.6,655.8 1031.8,656.5 1032.0,657.6 1032.3,658.6 1032.5,659.0 1032.8,659.4 1033.2,660.1 1033.5,660.6 1033.9,660.9 1034.2,661.2 1034.4,660.3 1034.6,659.6 1034.8,659.6 1035.1,659.4 1035.3,658.9 1035.5,658.3 1035.7,657.5 1035.9,656.8 1036.1,656.1" stroke-width="2.48"/>
<path d="M1036.1,656.1 1036.5,657.0 1036.8,657.7 1037.2,657.8 1037.5,658.2 1037.8,657.4 1038.1,656.5 1038.4,656.6 1038.6,656.8 1038.9,655.8 1039.2,654.8 1039.4,654.2 1039.7,653.4 1040.1,653.9 1040.4,654.5 1040.8,654.9 1041.2,655.6 1041.5,656.2 1041.9,656.7 1042.2,656.2 1042.4,655.9 1042.7,655.6 1043.0,655.2 1043.2,654.7 1043.5,653.7 1043.8,652.8 1044.1,652.0 1044.6,651.1 1045.1,651.2 1045.7,651.8 1046.2,651.4 1046.6,650.7 1047.0,650.7 1047.3,650.4 1047.7,649.6 1048.0,648.7 1048.4,648.2 1048.6,647.7 1048.9,646.6 1049.1,645.8 1049.3,645.9 1049.5,645.6 1049.8,644.9 1050.0,644.4 1050.3,644.8 1050.7,644.9 1051.0,645.3 1051.3,646.1 1051.6,646.5 1052.0,646.8 1052.3,647.0 1052.9,647.4 1053.4,648.0 1053.9,648.3 1054.5,648.9 1055.2,648.8 1055.9,648.1 1056.7,647.9 1057.2,648.1 1057.7,648.1 1058.3,648.0 1058.8,647.7 1058.9,648.2 1059.1,649.0 1059.2,649.3 1059.3,649.3 1059.4,650.1 1059.6,651.6 1059.7,652.6 1059.8,652.7 1059.9,652.8 1060.0,653.0 1060.2,653.2 1060.3,653.6 1060.5,652.9 1060.6,653.0 1060.8,653.0 1061.0,652.4 1061.2,652.0 1061.4,650.9 1061.5,649.9 1061.7,649.8 1062.1,649.6 1062.4,649.3 1062.8,648.4 1063.2,647.4 1063.5,647.1 1063.9,646.9 1064.4,646.9 1065.0,647.3 1065.5,647.1 1066.1,646.2 1066.3,645.4 1066.5,645.0 1066.6,645.0 1066.8,644.2 1067.0,642.7 1067.2,642.3 1067.4,642.1 1067.6,641.4 1067.8,641.0 1068.2,640.8 1068.6,640.4 1068.9,640.5 1069.3,640.0 1069.7,639.2 1070.0,638.6 1070.3,638.0 1070.6,637.7 1070.9,637.3 1071.2,636.2 1071.6,634.8 1071.9,634.4 1072.3,634.7 1072.7,634.7 1073.2,634.2 1073.6,633.2 1074.0,632.1 1074.4,632.7 1074.8,634.0 1075.1,634.9" stroke-width="2.53"/>
<path d="M1075.1,634.9 1075.5,635.4 1075.8,635.7 1076.2,635.1 1076.4,634.2 1076.6,634.3 1076.8,634.1 1077.0,633.2 1077.2,632.2 1077.4,631.8 1077.6,631.8 1077.8,631.9 1077.9,631.2 1078.4,630.3 1078.9,629.7 1079.4,629.7 1079.8,629.7 1080.6,629.6 1081.3,629.7 1082.0,629.4 1082.2,629.4 1082.4,630.5 1082.6,631.2 1082.8,631.4 1083.0,632.1 1083.2,632.8 1083.4,633.5 1083.6,633.9 1083.8,634.1 1084.0,634.7 1084.2,635.4 1084.4,634.7 1084.6,634.2 1084.9,633.9 1085.1,633.4 1085.3,632.4 1085.6,631.6 1085.8,631.3 1086.1,630.7 1086.2,629.9 1086.4,629.7 1086.6,629.5 1086.8,629.2 1087.0,628.8 1087.2,628.1 1087.4,627.4 1087.6,627.4 1087.8,627.1 1088.2,626.2 1088.5,625.1 1088.9,624.0 1089.2,623.3 1089.6,623.5 1090.0,624.2 1090.3,625.2 1090.7,626.2 1091.0,626.5 1091.4,625.8 1092.0,625.5 1092.5,626.3 1093.0,626.6 1093.6,626.7 1093.7,627.6 1093.9,628.6 1094.1,629.2 1094.2,629.5 1094.4,630.8 1094.5,632.1 1094.7,632.2 1094.9,632.5 1095.0,632.6 1095.1,631.1 1095.2,630.4 1095.4,630.3 1095.5,630.2 1095.6,629.6 1095.7,628.9 1095.8,628.7 1095.9,628.5 1096.0,627.5 1096.1,626.8 1096.2,626.4 1096.3,625.8 1096.4,625.4 1096.6,625.2 1096.7,624.8 1096.8,623.8 1097.0,622.3 1097.2,621.5 1097.5,622.0 1097.7,622.1 1097.9,621.2 1098.2,620.5 1098.4,620.1 1098.7,619.8 1099.0,619.7 1099.4,618.8 1099.7,617.4 1100.1,617.2 1100.5,617.2 1100.8,616.6 1101.3,617.0 1101.7,617.2 1102.1,617.6 1102.6,618.0 1103.0,618.7 1103.3,619.7 1103.6,620.3 1103.9,620.7 1104.2,621.5 1104.5,622.0 1104.9,622.1 1105.2,623.0 1105.6,623.7 1105.9,623.8 1106.3,624.3 1106.5,623.8 1106.7,623.0 1106.9,622.2 1107.1,621.6 1107.3,621.6" stroke-width="2.66"/>
<path d="M1107.3,621.6 1107.5,621.0 1107.7,619.7 1107.9,618.9 1108.1,618.5 1108.4,617.8 1108.8,617.0 1109.2,616.7 1109.5,616.5 1109.9,615.8 1110.2,614.9 1110.5,615.8 1110.8,617.0 1111.1,617.5 1111.4,617.9 1111.7,618.5 1111.8,618.0 1111.9,617.7 1112.0,617.0 1112.1,615.9 1112.2,615.6 1112.4,615.3 1112.5,614.8 1112.6,614.7 1112.7,614.4 1112.8,613.6 1112.9,612.6 1113.0,611.7 1113.1,610.8 1113.5,610.3 1113.9,609.9 1114.2,609.3 1114.6,608.8 1114.9,608.3 1115.3,607.8 1115.9,608.3 1116.4,608.8 1116.9,609.3 1117.5,610.0 1117.8,609.4 1118.2,608.4 1118.6,607.9 1118.9,607.4 1119.3,607.0 1119.7,606.9 1120.2,607.2 1120.7,607.6 1121.3,608.3 1121.8,609.1 1122.0,608.3 1122.2,607.2 1122.5,606.5 1122.7,605.2 1122.9,603.7 1123.1,603.6 1123.3,604.2 1123.5,604.4 1123.7,603.9 1124.4,603.7 1125.1,602.9 1125.7,601.7 1126.4,601.5 1127.0,601.7 1127.6,602.0 1127.8,603.2 1127.9,604.2 1128.1,604.7 1128.2,604.5 1128.3,604.7 1128.5,605.6 1128.6,606.6 1128.8,607.1 1128.9,607.6 1129.1,608.8 1129.2,609.6 1129.4,609.5 1129.5,609.2 1129.7,609.3 1129.9,610.1 1130.0,611.5 1130.2,612.1 1130.4,612.4 1130.5,613.4 1130.6,612.9 1130.8,612.0 1130.9,611.5 1131.0,611.1 1131.1,610.1 1131.2,609.6 1131.4,609.2 1131.5,608.0 1131.6,607.5 1131.7,607.7 1131.8,607.8 1132.0,606.9 1132.2,606.0 1132.4,605.6 1132.6,604.7 1132.8,603.8 1133.0,603.4 1133.3,603.4 1133.5,602.7 1133.7,601.5 1133.9,601.1 1134.1,601.3 1134.6,601.6 1135.0,601.2 1135.4,600.6 1135.9,600.0 1136.3,598.8 1136.9,598.6 1137.4,599.0 1137.9,599.1 1138.5,599.4 1138.7,599.1 1138.9,598.8 1139.1,597.8 1139.3,597.3 1139.4,597.3 1139.6,597.1 1139.8,597.6" stroke-width="2.78"/>
<path d="M1139.8,597.6 1139.9,598.0 1140.0,598.3 1140.2,598.5 1140.3,598.8 1140.4,599.9 1140.6,600.8 1140.7,600.7 1140.8,601.0 1141.0,601.8 1141.1,602.8 1141.2,603.5 1141.4,602.8 1141.7,601.1 1142.0,601.1 1142.3,601.4 1142.6,600.9 1142.9,600.3 1143.2,600.1 1143.5,599.9 1144.0,599.9 1144.4,600.7 1144.9,602.0 1145.3,602.0 1145.7,602.1 1146.2,601.8 1146.6,601.1 1147.0,600.6 1147.5,600.1 1147.9,599.7 1148.1,599.2 1148.4,598.2 1148.6,597.3 1148.8,597.5 1149.1,597.5 1149.3,596.5 1149.5,595.9 1149.8,595.9 1150.4,595.5 1150.9,594.5 1151.5,593.9 1151.8,593.2 1152.1,592.2 1152.4,592.2 1152.8,592.7 1153.1,592.4 1153.4,591.3 1153.7,590.4 1154.0,591.6 1154.3,592.5 1154.6,592.8 1154.9,593.3 1155.2,593.7 1155.5,594.1 1155.9,594.3 1156.1,594.5 1156.4,595.3 1156.6,596.2 1156.9,597.0 1157.1,598.0 1157.3,598.0 1157.6,597.8 1157.8,598.4 1158.0,598.9 1158.1,599.3 1158.3,600.2 1158.5,600.8 1158.7,601.5 1158.9,602.4 1159.0,602.8 1159.2,602.0 1159.4,601.5 1159.6,601.0 1159.7,600.1 1159.9,599.8 1160.1,599.9 1160.2,599.8 1160.4,599.3 1160.6,598.2 1160.8,597.4 1160.9,596.9 1161.5,596.4 1162.0,595.9 1162.6,595.6 1163.1,595.6 1163.5,596.4 1164.0,597.2 1164.4,597.2 1164.8,596.8 1165.3,597.3 1165.4,598.1 1165.6,598.4 1165.8,599.1 1166.0,600.1 1166.1,600.6 1166.3,600.7 1166.5,600.9 1166.6,601.6 1166.8,602.7 1167.0,603.4 1167.2,603.8 1167.3,604.4 1167.4,604.5 1167.6,604.4 1167.7,605.0 1167.9,606.0 1168.0,607.1 1168.2,607.4 1168.3,607.4 1168.5,608.3 1168.6,609.0 1168.7,609.8 1168.9,610.8 1169.1,611.5 1169.3,612.1 1169.5,612.8 1169.7,613.0 1169.9,612.8 1170.1,612.5 1170.2,611.8 1170.3,611.9" stroke-width="2.83"/>
<path d="M1170.3,611.9 1170.4,612.0 1170.5,611.5 1170.6,610.5 1170.7,610.0 1170.8,609.7 1170.9,609.5 1171.1,609.5 1171.2,608.9 1171.3,607.8 1171.4,607.2 1171.5,606.8 1171.6,606.2 1171.8,606.3 1171.9,605.9 1172.0,604.5 1172.2,603.5 1172.3,603.2 1172.4,602.4 1172.6,601.7 1172.7,601.6 1172.8,601.4 1173.0,601.0 1173.1,600.3 1173.2,598.6 1173.5,597.4 1173.9,597.2 1174.2,597.3 1174.5,597.1 1174.8,596.4 1175.1,595.8 1175.4,594.6 1176.0,594.3 1176.5,595.1 1177.0,595.7 1177.6,596.0 1177.7,596.9 1177.8,597.4 1178.0,597.5 1178.1,597.8 1178.2,598.4 1178.4,599.2 1178.5,600.0 1178.7,600.5 1178.8,600.5 1178.9,600.5 1179.1,601.4 1179.2,602.7 1179.3,603.3 1179.4,603.0 1179.6,602.3 1179.7,601.2 1179.8,600.3 1179.9,599.7 1180.0,599.8 1180.1,600.3 1180.3,600.0 1180.4,598.6 1180.5,597.5 1180.6,597.3 1180.7,597.3 1180.8,596.9 1181.0,596.2 1181.1,595.0 1181.2,593.8 1181.4,594.9 1181.6,596.3 1181.8,596.8 1182.0,597.0 1182.2,597.8 1182.4,598.5 1182.7,598.8 1182.8,599.1 1183.0,599.6 1183.2,600.4 1183.3,600.9 1183.5,601.4 1183.7,602.4 1183.8,602.9 1184.0,603.0 1184.2,603.5 1184.4,603.7 1184.5,603.9 1184.9,604.0 1185.2,603.8 1185.6,602.7 1185.9,602.2 1186.3,601.9 1186.5,600.9 1186.7,600.3 1186.9,600.3 1187.0,600.0 1187.2,598.9 1187.4,597.9 1187.6,597.9 1187.8,597.8 1188.0,596.6 1188.2,595.8 1188.5,595.7 1188.7,595.4 1189.0,595.0 1189.2,594.4 1189.4,594.0 1189.7,593.4 1189.9,592.6 1190.4,592.8 1191.0,592.8 1191.5,593.4 1192.1,594.6 1192.4,594.7 1192.6,594.3 1192.9,594.7 1193.2,595.6 1193.5,596.7 1193.8,596.4 1194.1,594.9 1194.3,593.5 1194.6,593.7 1194.9,593.7 1195.1,593.0 1195.4,592.4" stroke-width="2.84"/>
<path d="M1195.4,592.4 1195.7,591.8 1196.1,590.8 1196.6,589.3 1197.0,588.8 1197.4,589.1 1197.9,589.2 1198.4,589.8 1198.9,590.2 1199.5,590.2 1200.0,589.5 1200.4,589.8 1200.8,590.8 1201.2,591.5 1201.5,591.8 1201.9,591.7 1202.2,591.1 1202.5,591.0 1202.8,591.1 1203.1,590.9 1203.4,590.4 1203.6,590.2 1204.2,590.3 1204.7,589.4 1205.3,589.2 1205.8,590.1 1206.4,590.1 1206.9,589.4 1207.5,588.7 1208.0,589.0 1208.6,589.4 1209.2,589.2 1209.7,589.3 1209.9,590.3 1210.2,590.9 1210.4,591.1 1210.6,591.3 1210.8,591.3 1211.0,591.6 1211.2,592.7 1211.4,593.3 1211.6,593.7 1212.2,594.5 1212.9,595.2 1213.5,595.1 1213.7,595.4 1213.9,596.0 1214.1,597.1 1214.3,598.1 1214.5,598.2 1214.7,598.8 1214.8,599.1 1215.0,599.0 1215.2,599.2 1215.8,599.5 1216.4,600.0 1217.0,599.7 1217.6,599.0 1218.2,598.4 1218.9,598.1 1218.9,598.9 1218.9,599.8 1219.0,600.5 1219.0,600.9 1219.0,600.8 1219.1,601.2 1219.1,602.2 1219.1,602.9 1219.2,603.5 1219.2,603.8 1219.2,604.4 1219.2,605.1 1219.3,605.7 1219.3,606.1 1219.3,606.3 1219.4,607.1 1219.4,608.2 1219.4,608.8 1219.5,609.6 1219.5,609.9 1219.5,610.0 1219.6,610.7 1219.6,611.8 1219.6,612.2 1219.7,612.0 1219.7,612.3 1219.7,612.8 1219.8,613.7 1219.8,614.7 1219.8,615.6 1219.9,615.9 1220.0,614.6 1220.1,613.8 1220.2,613.4 1220.4,612.8 1220.5,612.1 1220.6,611.9 1220.7,611.9 1220.8,611.5 1221.0,610.8 1221.1,610.7 1221.2,610.4 1221.3,608.9 1221.8,608.1 1222.3,608.0 1222.7,608.3 1223.2,608.2 1223.3,608.3 1223.4,608.9 1223.6,609.5 1223.7,609.6 1223.8,610.1 1223.9,610.8 1224.0,611.3 1224.1,611.5 1224.3,612.0 1224.4,612.8 1224.5,613.7 1224.6,614.3 1224.7,614.8 1224.8,615.3" stroke-width="2.83"/>
<path d="M1224.8,615.3 1225.0,615.8 1225.1,616.8 1225.2,616.6 1225.3,615.4 1225.4,614.6 1225.5,614.6 1225.6,613.4 1225.7,612.5 1225.8,612.2 1225.9,611.5 1226.0,611.4 1226.0,611.1 1226.1,610.0 1226.2,608.8 1226.3,608.6 1226.4,608.3 1226.5,607.6 1226.6,606.8 1226.7,606.1 1226.8,606.1 1227.5,606.7 1228.3,606.3 1229.0,606.0 1229.3,605.3 1229.5,605.0 1229.8,604.9 1230.1,604.4 1230.3,603.6 1230.6,602.6 1230.9,602.1 1231.0,603.1 1231.2,604.0 1231.4,604.8 1231.6,605.0 1231.7,605.2 1231.9,606.2 1232.1,607.1 1232.3,607.4 1232.4,607.9 1232.6,608.7 1232.9,608.2 1233.2,607.5 1233.4,606.8 1233.7,606.2 1234.0,605.6 1234.2,605.1 1234.5,605.0 1234.8,604.7 1234.9,604.2 1235.0,603.7 1235.1,604.9 1235.2,606.3 1235.3,607.0 1235.5,608.0 1235.6,608.8 1235.7,608.8 1235.8,608.5 1235.9,608.7 1236.0,609.3 1236.1,610.2 1236.2,611.3 1236.3,612.3 1236.4,613.1 1236.6,613.3 1236.7,613.5 1236.9,614.3 1237.2,614.8 1237.4,614.9 1237.7,615.2 1237.9,616.0 1238.2,617.0 1238.4,617.5 1238.6,616.5 1238.8,615.9 1239.0,615.6 1239.1,614.6 1239.3,613.4 1239.5,614.2 1239.8,615.1 1240.0,615.5 1240.2,616.0 1240.4,616.6 1240.6,617.1 1240.7,617.5 1240.8,618.4 1240.8,619.5 1240.9,620.1 1241.0,620.3 1241.0,620.8 1241.1,621.9 1241.2,622.9 1241.2,623.4 1241.3,623.6 1241.3,623.4 1241.4,624.0 1241.5,624.9 1241.5,625.2 1241.6,626.3 1241.7,627.4 1241.8,627.5 1241.9,627.9 1242.1,628.6 1242.2,628.9 1242.3,629.2 1242.5,630.0 1242.6,631.1 1242.7,631.9 1242.9,632.1 1243.0,632.4 1243.1,632.1 1243.3,631.7 1243.4,630.9 1243.6,630.1 1243.7,629.7 1243.8,629.7 1244.0,629.2 1244.1,628.2 1244.3,627.4 1244.4,626.6 1244.6,626.6" stroke-width="2.74"/>
<path d="M1244.6,626.6 1244.7,627.9 1244.8,628.5 1245.0,628.9 1245.1,629.1 1245.2,629.4 1245.3,630.3 1245.5,631.1 1245.6,631.8 1245.7,632.2 1245.9,631.9 1246.0,632.0 1246.1,633.4 1246.3,633.6 1246.4,633.0 1246.6,632.0 1246.7,630.6 1246.8,629.8 1247.0,629.9 1247.1,629.6 1247.3,629.0 1247.4,628.5 1247.6,627.9 1247.7,627.0 1247.8,626.4 1248.1,625.9 1248.4,625.3 1248.6,624.7 1248.9,624.6 1249.1,624.2 1249.2,623.0 1249.3,622.3 1249.4,621.6 1249.4,620.7 1249.5,620.7 1249.6,620.6 1249.6,620.1 1249.7,619.3 1249.8,618.5 1249.8,617.6 1249.9,616.8 1250.0,616.7 1250.0,616.4 1250.1,616.3 1250.2,616.1 1250.3,615.6 1250.3,615.6 1250.4,614.7 1250.5,613.7 1250.8,613.5 1251.1,612.6 1251.5,611.7 1251.8,611.6 1252.2,611.1 1252.6,610.4 1252.9,610.0 1253.3,609.5 1253.7,609.4 1254.1,610.1 1254.5,610.3 1254.9,610.3 1255.3,610.4 1255.7,610.7 1255.8,610.4 1255.9,610.5 1256.0,610.3 1256.1,609.3 1256.2,608.2 1256.3,607.5 1256.4,606.8 1256.5,606.2 1256.6,605.7 1256.7,604.8 1256.8,604.2 1256.9,604.5 1257.0,604.2 1257.4,603.5 1257.7,603.2 1258.0,602.4 1258.4,601.7 1258.7,601.5 1258.9,602.5 1259.1,603.1 1259.2,603.4 1259.4,603.8 1259.6,604.3 1259.8,604.9 1259.9,605.3 1260.1,605.8 1260.3,606.0 1260.7,606.1 1261.1,607.4 1261.5,608.7 1261.9,608.6 1262.3,608.4 1262.4,608.0 1262.5,607.6 1262.6,606.8 1262.7,606.6 1262.8,606.3 1262.9,605.0 1263.0,604.5 1263.1,604.7 1263.2,604.0 1263.3,603.0 1263.5,602.3 1263.6,601.5 1263.7,600.6 1263.9,599.8 1264.1,599.2 1264.2,599.2 1264.4,598.6 1264.5,597.6 1264.7,597.3 1264.9,597.1 1265.3,598.3 1265.7,599.2 1266.2,599.2 1266.6,599.1 1266.7,599.2 1266.7,599.9" stroke-width="2.75"/>
<path d="M1266.7,599.9 1266.8,600.3 1266.9,600.8 1267.0,602.3 1267.0,603.0 1267.1,603.2 1267.2,603.6 1267.3,603.9 1267.3,604.5 1267.4,605.2 1267.5,605.9 1267.6,606.8 1267.6,607.4 1267.7,607.8 1267.8,609.2 1267.9,610.6 1267.9,610.6 1268.0,609.9 1268.1,610.3 1268.2,611.4 1268.2,610.8 1268.3,610.1 1268.3,609.6 1268.4,608.7 1268.4,607.7 1268.5,607.4 1268.6,607.1 1268.6,606.8 1268.7,606.1 1268.7,605.1 1268.8,604.6 1268.8,604.8 1268.9,604.1 1268.9,602.9 1269.0,602.4 1269.1,602.0 1269.1,601.3 1269.2,600.7 1269.2,600.5 1269.3,599.6 1269.3,598.5 1269.4,598.3 1269.5,598.2 1269.9,597.0 1270.2,596.3 1270.6,596.6 1271.0,596.2 1271.4,594.9 1272.1,594.9 1272.7,595.2 1273.4,595.4 1273.7,594.8 1274.0,595.1 1274.4,595.2 1274.7,594.1 1275.0,592.6 1275.4,591.7 1276.0,591.2 1276.7,591.1 1277.3,591.1 1278.0,591.2 1278.6,591.7 1279.3,591.4 1279.4,591.6 1279.6,592.4 1279.7,593.3 1279.8,593.9 1279.9,594.7 1280.1,595.6 1280.2,596.5 1280.3,596.9 1280.5,596.8 1280.6,597.4 1280.8,597.2 1281.0,596.4 1281.3,595.5 1281.5,595.5 1281.7,595.5 1281.9,594.9 1282.1,594.2 1282.4,593.2 1282.6,592.5 1283.2,592.6 1283.9,592.7 1284.5,593.4 1284.8,594.3 1285.1,595.1 1285.4,596.0 1285.7,596.5 1285.9,596.7 1286.2,596.8 1286.5,596.7 1286.8,597.4 1287.1,599.0 1287.3,599.8 1287.6,599.6 1287.9,599.6 1288.2,599.9 1288.5,601.0 1288.5,601.2 1288.6,600.5 1288.6,599.3 1288.7,598.6 1288.7,597.6 1288.8,596.6 1288.8,596.5 1288.9,596.3 1288.9,595.9 1289.0,595.4 1289.0,594.7 1289.0,594.3 1289.1,594.0 1289.1,593.6 1289.2,593.2 1289.2,592.7 1289.3,592.2 1289.3,591.7 1289.4,591.1 1289.4,590.0 1289.5,589.1 1289.5,588.8" stroke-width="2.84"/>
<path d="M1289.5,588.8 1289.6,588.5 1289.6,587.7 1289.7,587.2 1289.7,587.2 1289.8,586.7 1289.9,585.4 1290.0,584.8 1290.2,585.1 1290.3,584.5 1290.4,583.3 1290.6,582.7 1290.7,582.7 1290.8,582.2 1291.0,581.3 1291.1,580.1 1291.5,579.6 1291.9,580.0 1292.4,579.2 1292.8,577.8 1292.9,578.0 1293.0,577.7 1293.1,576.2 1293.2,575.3 1293.3,575.2 1293.4,574.5 1293.4,572.9 1293.5,572.0 1293.6,572.5 1293.7,572.8 1293.8,572.2 1293.9,571.5 1294.0,570.6 1294.1,569.4 1294.5,570.2 1294.9,571.3 1295.3,572.1 1295.7,573.5 1296.2,573.9 1296.7,573.1 1297.1,573.2 1297.6,574.4 1298.3,574.1 1299.0,573.1 1299.6,572.8 1300.1,573.1 1300.6,573.5 1301.1,574.2 1301.6,574.2 1302.0,573.2 1302.4,573.2 1302.8,573.2 1303.1,572.1 1303.5,570.5 1303.8,570.6 1304.1,571.3 1304.4,571.0 1304.7,570.2 1304.9,569.8 1305.2,569.6 1305.5,569.0 1306.1,567.9 1306.6,566.9 1307.2,566.6 1307.4,567.3 1307.6,567.6 1307.7,567.5 1307.9,568.1 1308.1,569.5 1308.3,571.2 1308.4,571.6 1308.6,571.4 1308.8,572.5 1309.2,573.2 1309.6,573.3 1310.0,573.0 1310.4,573.6 1310.7,574.8 1311.1,574.1 1311.5,573.0 1311.9,571.6 1312.3,571.1 1312.7,571.8 1313.1,573.0 1313.5,573.8 1313.9,574.5 1314.3,574.3 1314.4,573.6 1314.5,573.4 1314.7,572.5 1314.8,571.7 1314.9,570.6 1315.1,569.8 1315.2,570.0 1315.3,569.9 1315.5,569.5 1315.6,569.3 1315.7,568.9 1315.9,568.2 1316.0,567.6 1316.2,568.1 1316.5,568.3 1316.7,568.2 1317.0,568.4 1317.2,569.1 1317.4,570.2 1317.7,571.7 1317.9,572.0 1318.1,572.1 1318.4,572.6 1318.6,572.7 1318.8,573.2 1319.0,574.8 1319.3,576.3 1319.7,574.7 1320.1,573.6 1320.4,574.5 1320.8,574.7 1321.2,573.3 1321.5,571.7 1321.7,570.7" stroke-width="3.00"/>
<path d="M1321.7,570.7 1321.9,570.4 1322.1,570.0 1322.3,569.1 1322.5,568.7 1322.8,568.6 1323.0,567.9 1323.2,567.2 1323.5,567.9 1323.8,568.8 1324.0,569.7 1324.3,570.5 1324.6,570.9 1324.9,571.0 1325.2,571.8 1325.6,572.2 1326.0,571.4 1326.3,570.6 1326.7,570.4 1327.1,569.9 1327.7,569.5 1328.2,569.2 1328.7,568.9 1328.9,568.4 1329.1,568.2 1329.3,567.7 1329.5,567.4 1329.6,567.6 1329.8,566.9 1330.0,565.7 1330.2,565.8 1330.4,566.0 1330.5,567.0 1330.7,568.2 1330.9,568.9 1331.0,568.4 1331.2,568.5 1331.4,569.4 1331.5,570.0 1331.7,570.1 1331.9,570.3 1332.0,571.2 1332.2,572.3 1332.4,572.5 1332.5,573.0 1332.7,574.0 1332.9,574.2 1333.0,574.8 1333.2,576.1 1333.4,576.3 1333.5,576.2 1333.7,576.7 1334.0,576.2 1334.3,575.4 1334.7,574.6 1335.0,574.3 1335.3,574.2 1335.6,573.5 1336.2,573.0 1336.8,573.0 1337.4,572.5 1337.5,571.5 1337.6,570.9 1337.8,570.1 1337.9,569.1 1338.1,568.0 1338.2,567.5 1338.4,567.7 1338.5,567.6 1338.6,567.1 1338.8,566.3 1338.9,566.2 1339.1,566.4 1339.2,565.7 1339.4,564.5 1339.5,563.7 1339.6,563.7 1339.8,563.8 1339.9,563.2 1340.1,561.8 1340.2,560.8 1340.4,560.9 1340.5,560.8 1341.1,560.4 1341.6,560.0 1342.2,559.9 1342.9,559.6 1343.5,559.2 1344.2,559.2 1344.7,559.8 1345.2,560.5 1345.6,560.5 1346.1,559.9 1346.7,560.1 1347.3,561.1 1347.8,562.0 1348.0,561.6 1348.1,560.5 1348.3,559.7 1348.4,560.0 1348.6,559.5 1348.7,558.1 1348.8,557.5 1349.0,557.2 1349.1,556.7 1349.3,556.7 1349.4,556.1 1349.7,554.8 1350.1,554.3 1350.4,554.6 1350.7,554.7 1351.0,555.1 1351.3,555.5 1351.7,555.6 1352.0,555.6 1352.3,556.5 1352.6,556.4 1352.9,555.8 1353.1,555.1 1353.4,555.1 1353.7,554.9" stroke-width="3.05"/>
<path d="M1353.7,554.9 1354.0,553.4 1354.4,552.1 1354.8,551.7 1355.3,551.2 1355.7,550.8 1355.8,550.6 1356.0,549.9 1356.1,549.1 1356.3,548.9 1356.4,548.7 1356.6,548.0 1356.7,547.2 1356.8,546.6 1357.0,546.3 1357.1,546.2 1357.3,546.4 1357.6,545.8 1357.9,544.5 1358.2,543.9 1358.5,543.8 1358.8,543.7 1358.9,544.0 1359.0,544.0 1359.1,544.1 1359.2,544.4 1359.3,544.8 1359.3,545.3 1359.4,546.3 1359.5,547.3 1359.6,548.2 1359.7,549.5 1359.7,550.6 1359.8,550.4 1359.9,549.1 1360.0,549.1 1360.1,550.9 1360.2,552.2 1360.2,552.5 1360.2,552.6 1360.3,553.1 1360.3,554.4 1360.4,555.3 1360.4,555.3 1360.5,555.9 1360.5,556.4 1360.6,557.2 1360.6,557.9 1360.7,558.2 1360.7,559.2 1360.7,559.8 1360.8,560.3 1360.8,561.2 1360.9,561.5 1360.9,562.2 1361.0,562.5 1361.0,562.3 1361.1,562.5 1361.1,563.3 1361.2,564.8 1361.2,566.0 1361.3,565.0 1361.4,564.1 1361.5,563.9 1361.6,563.4 1361.8,562.5 1361.9,561.4 1362.0,560.7 1362.1,560.8 1362.2,560.7 1362.3,560.0 1362.4,559.3 1362.5,558.3 1362.8,557.8 1363.0,558.0 1363.3,558.2 1363.6,557.9 1363.8,556.7 1364.2,555.8 1364.5,555.4 1364.8,554.9 1365.1,554.2 1365.5,553.8 1365.8,552.8 1365.9,553.1 1366.0,554.1 1366.1,555.0 1366.2,555.7 1366.4,556.3 1366.5,556.6 1366.6,557.2 1366.7,558.1 1366.8,558.1 1366.9,558.7 1367.0,559.7 1367.2,559.7 1367.3,560.0 1367.4,560.7 1367.5,561.0 1367.7,561.2 1367.9,561.9 1368.0,563.1 1368.2,563.7 1368.4,563.3 1368.6,563.5 1368.8,564.5 1369.0,565.4 1369.1,566.4 1369.3,567.5 1369.5,567.1 1369.7,565.9 1369.8,564.9 1370.0,564.4 1370.2,564.0 1370.4,563.8 1370.5,563.8 1370.7,563.3 1370.9,562.4 1371.0,561.4 1371.4,560.2 1371.7,559.9" stroke-width="3.11"/>
<path d="M1371.7,559.9 1372.1,559.9 1372.4,559.2 1372.7,558.1 1373.0,558.3 1373.2,559.0 1373.4,560.0 1373.6,561.1 1373.9,561.5 1374.1,561.6 1374.3,562.5 1374.5,562.1 1374.6,560.8 1374.7,560.4 1374.9,560.2 1375.0,559.5 1375.2,559.2 1375.3,559.2 1375.5,558.5 1375.6,557.3 1375.7,556.6 1375.9,556.5 1376.3,555.6 1376.7,555.0 1377.2,554.8 1377.6,554.0 1378.2,554.2 1378.9,555.0" stroke-width="3.10"/>
</g>
<g font-family='"Liberation Sans", "DejaVu Sans", sans-serif' font-size="23.8" fill="#000">
<text x="176.2" y="769.1" text-anchor="middle">1997</text>
<text x="320.1" y="769.1" text-anchor="middle">2000</text>
<text x="464.1" y="769.1" text-anchor="middle">2002</text>
<text x="608.1" y="769.1" text-anchor="middle">2005</text>
<text x="753.1" y="769.1" text-anchor="middle">2007</text>
<text x="896.2" y="769.1" text-anchor="middle">2010</text>
<text x="1039.1" y="769.1" text-anchor="middle">2012</text>
<text x="1183.2" y="769.1" text-anchor="middle">2015</text>
<text x="1327.6" y="769.1" text-anchor="middle">2017</text>
<text x="77.6" y="607.0" text-anchor="end">6</text>
<text x="77.6" y="666.7" text-anchor="end">4</text>
<text x="77.6" y="726.5" text-anchor="end">2</text>
</g>
<g font-family='"Liberation Sans", "DejaVu Sans", sans-serif' font-size="23.8" fill="#000">
<text transform="translate(31.3,369.8) rotate(-90) scale(0.932,1)" text-anchor="middle">S&amp;P400 midcap detrended</text>
<text transform="translate(40.9,639.5) rotate(-90)" text-anchor="middle">S&amp;P400 midcap</text>
<text transform="translate(13.2,126.6) rotate(-90)" text-anchor="start"><tspan x="0.6" y="0" font-size="22.5">ϵ</tspan><tspan x="10.3" y="13" font-size="21.5">2</tspan><tspan x="22" y="0" font-weight="bold" font-size="22">-</tspan><tspan x="30.9" y="0" font-size="22.5">ϵ</tspan><tspan x="40" y="13" font-size="21.5">1</tspan></text>
</g>
<rect x="322.5" y="795.5" width="850" height="34" fill="#fff" stroke="#262626" stroke-width="1" shape-rendering="crispEdges"/>
<path d="M327.8 813H383.9" stroke="#000" stroke-width="2.7"/>
<path d="M639.5 813H695" stroke="#d2cdc9" stroke-width="2.7" stroke-dasharray="11.7 10"/>
<path d="M802.5 813H858" stroke="#83818e" stroke-width="2.7" stroke-dasharray="11.7 10"/>
<path d="M964.1 813H1018.5" stroke="#97200a" stroke-width="3.8" stroke-dasharray="3.6 3.6"/>
<g font-family='"Liberation Sans", "DejaVu Sans", sans-serif' font-size="23.8" fill="#000">
<text x="387.5" y="821.8">Early warning indicator</text>
<text x="702" y="821.8">10th Prt.</text>
<text x="862.5" y="821.8">90th Prt.</text>
<text x="1025" y="821.8">Weekly crash</text>
</g>
</svg>
</body></html>
